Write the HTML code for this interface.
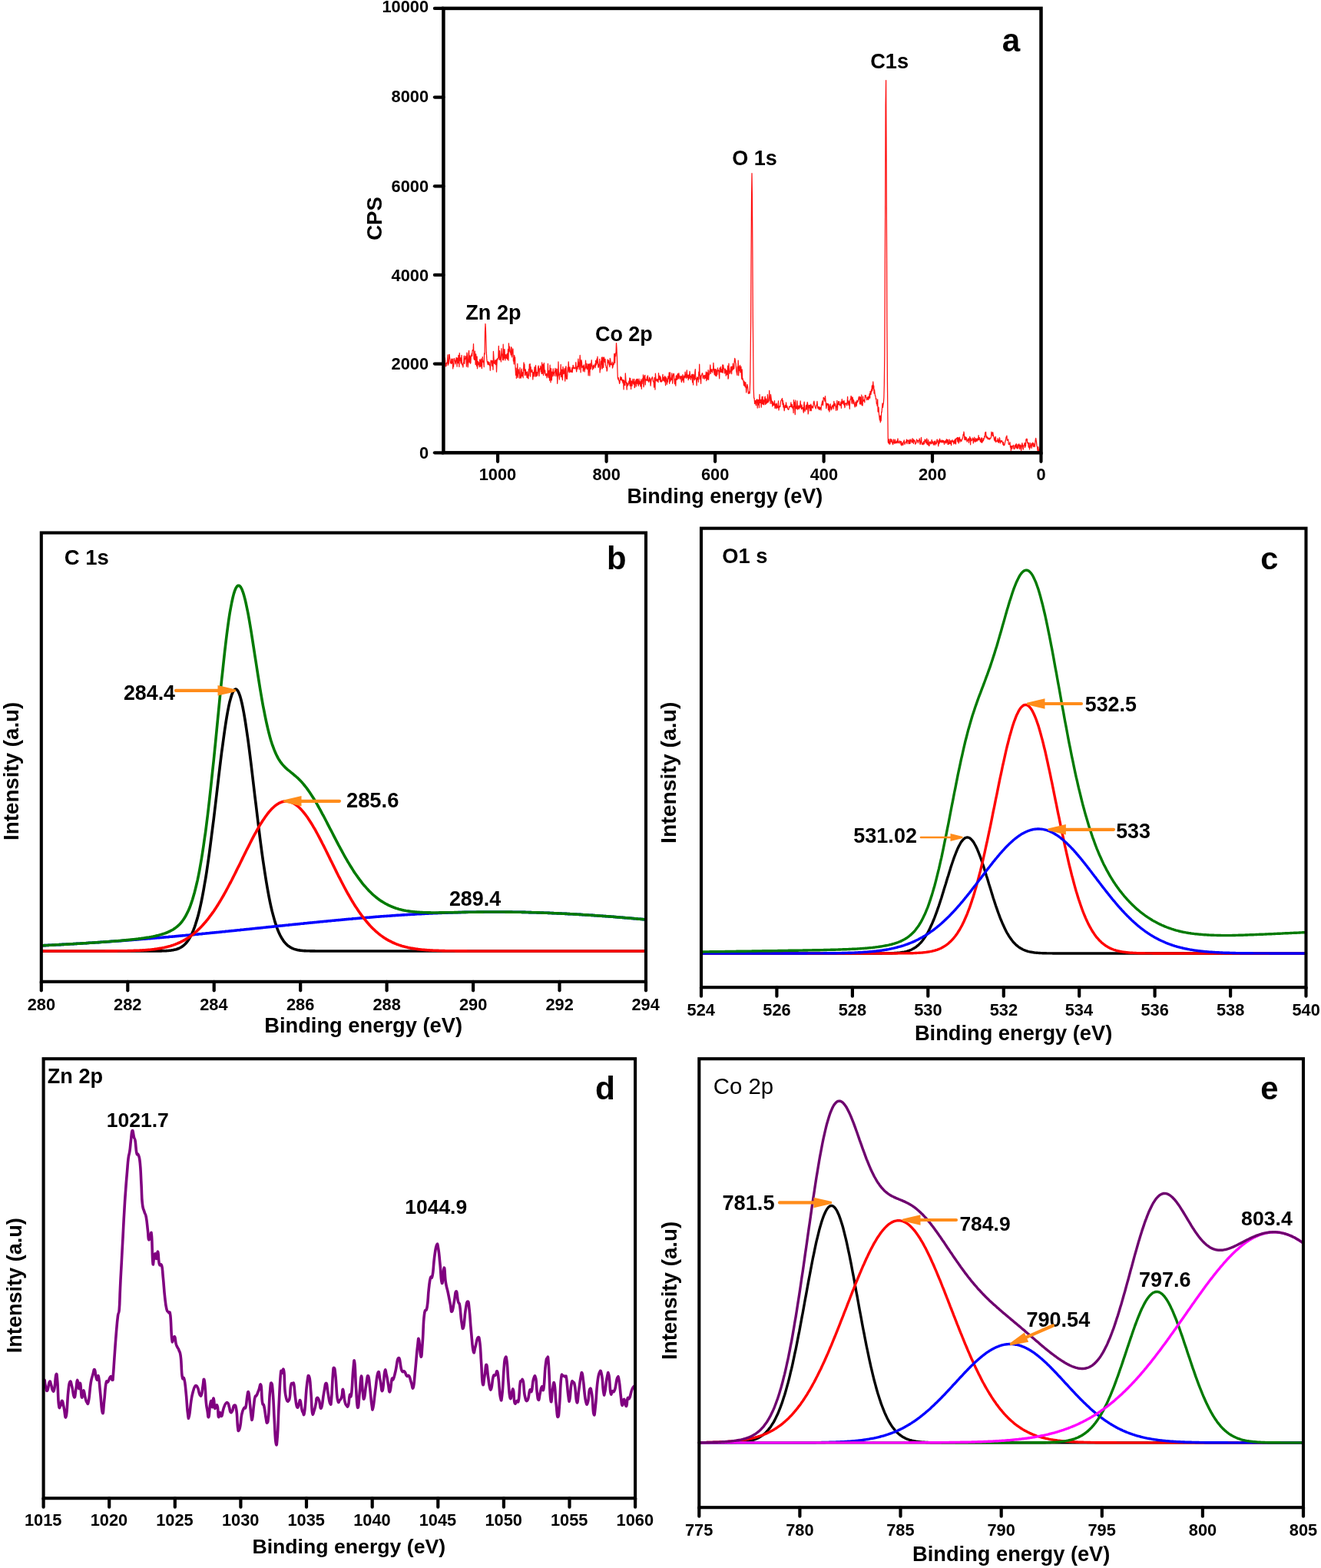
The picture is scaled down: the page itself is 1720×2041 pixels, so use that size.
<!DOCTYPE html>
<html><head><meta charset="utf-8"><title>XPS spectra</title>
<style>html,body{margin:0;padding:0;background:#fff;} svg text{font-family:'Liberation Sans',Arial,sans-serif;fill:#000;}</style>
</head><body>
<svg width="1720" height="2041" viewBox="0 0 1720 2041" style="display:block;font-family:'Liberation Sans',Arial,sans-serif;font-weight:bold"><path d="M577.4 469.6 L577.9 473.7 L578.3 469.7 L578.8 469.2 L579.2 465.9 L579.7 469.8 L580.1 476.9 L580.6 473.2 L581 476.5 L581.5 472.2 L581.9 473 L582.4 471.8 L582.9 461.8 L583.3 475.4 L583.8 473.5 L584.2 473.5 L584.7 461.6 L585.1 461.4 L585.6 466 L586 468.2 L586.5 472.4 L587 470.5 L587.4 473.5 L587.9 467.2 L588.3 472.3 L588.8 472.8 L589.2 467.1 L589.7 479.9 L590.1 473.6 L590.6 477.1 L591 467.2 L591.5 466.6 L592 468.7 L592.4 470 L592.9 474 L593.3 471.9 L593.8 468.1 L594.2 465.3 L594.7 467.7 L595.1 477.1 L595.6 466.1 L596 471.8 L596.5 472.7 L597 462.4 L597.4 470.7 L597.9 477.5 L598.3 459.5 L598.8 468.6 L599.2 469.8 L599.7 465.9 L600.1 473 L600.6 470 L601 462.4 L601.5 474.8 L602 473.9 L602.4 475.4 L602.9 478 L603.3 472.2 L603.8 470.9 L604.2 463.2 L604.7 473.5 L605.1 466.9 L605.6 467.7 L606.1 463.3 L606.5 464.9 L607 467.3 L607.4 477.1 L607.9 459.1 L608.3 462.2 L608.8 471.4 L609.2 477.9 L609.7 473.2 L610.1 459.8 L610.6 456.4 L611.1 471.7 L611.5 465.5 L612 462.8 L612.4 473.2 L612.9 472.2 L613.3 464.7 L613.8 462.2 L614.2 460 L614.7 463.4 L615.1 456.2 L615.6 455.3 L616.1 456.6 L616.5 447.7 L617 466.3 L617.4 467.9 L617.9 468.4 L618.3 457 L618.8 465.7 L619.2 474.6 L619.7 460.8 L620.1 469.8 L620.6 476.5 L621.1 464 L621.5 479.8 L622 474.2 L622.4 470.4 L622.9 473 L623.3 474.8 L623.8 472 L624.2 477.6 L624.7 467.9 L625.2 469.3 L625.6 477.2 L626.1 471.8 L626.5 467 L627 476.9 L627.4 479.7 L627.9 469.5 L628.3 464.5 L628.8 471.2 L629.2 471.1 L629.7 470 L630.2 477.7 L630.6 459.7 L631.1 461.2 L631.5 431.7 L632 421.5 L632.4 429.1 L632.9 444.5 L633.3 458.9 L633.8 466.9 L634.2 470.7 L634.7 472.1 L635.2 474.7 L635.6 470.7 L636.1 473.1 L636.5 474.7 L637 471.6 L637.4 475.7 L637.9 474.6 L638.3 482.3 L638.8 473.2 L639.2 469.1 L639.7 469.4 L640.2 471.3 L640.6 476.3 L641.1 469.5 L641.5 473.4 L642 481.2 L642.4 457.4 L642.9 465.2 L643.3 472.5 L643.8 473.3 L644.3 472.4 L644.7 468.8 L645.2 474.6 L645.6 472.6 L646.1 468.2 L646.5 484.1 L647 472.9 L647.4 466.9 L647.9 468.1 L648.3 466.2 L648.8 465.9 L649.3 450.3 L649.7 461.2 L650.2 468.4 L650.6 456.7 L651.1 462.6 L651.5 468.1 L652 467.5 L652.4 470.9 L652.9 453.7 L653.3 460.9 L653.8 460.9 L654.3 466.1 L654.7 468.6 L655.2 448.2 L655.6 468.6 L656.1 454.8 L656.5 466.3 L657 454.6 L657.4 463.5 L657.9 469 L658.3 461.6 L658.8 463.3 L659.3 466.3 L659.7 462.3 L660.2 460.3 L660.6 467.8 L661.1 463.7 L661.5 454.6 L662 469.2 L662.4 446.8 L662.9 457.2 L663.4 451.1 L663.8 454.3 L664.3 459 L664.7 458.2 L665.2 462.1 L665.6 451.7 L666.1 452.7 L666.5 464.8 L667 456.6 L667.4 456.4 L667.9 454 L668.4 469.9 L668.8 468.6 L669.3 474 L669.7 462.4 L670.2 469 L670.6 465 L671.1 479.6 L671.5 488.3 L672 479.1 L672.4 492.4 L672.9 489.3 L673.4 483.1 L673.8 473.4 L674.3 491.6 L674.7 483.5 L675.2 480.8 L675.6 486.2 L676.1 486.3 L676.5 492.2 L677 478.6 L677.4 490.2 L677.9 492.1 L678.4 491.9 L678.8 483.1 L679.3 480.1 L679.7 489.6 L680.2 484.8 L680.6 484.8 L681.1 491.8 L681.5 482.7 L682 471.8 L682.5 482.1 L682.9 474.2 L683.4 488.6 L683.8 485.9 L684.3 480.9 L684.7 484.2 L685.2 488.7 L685.6 484.6 L686.1 491.4 L686.5 483.9 L687 489.9 L687.5 492.3 L687.9 492.9 L688.4 480.6 L688.8 489 L689.3 474.1 L689.7 478.4 L690.2 473.7 L690.6 490.1 L691.1 477.7 L691.5 484.2 L692 483.3 L692.5 484.2 L692.9 481.1 L693.4 485.6 L693.8 494 L694.3 484.6 L694.7 487.2 L695.2 489.8 L695.6 483.3 L696.1 477.6 L696.5 481.4 L697 490.2 L697.5 475.5 L697.9 481.2 L698.4 489.9 L698.8 488.7 L699.3 484.5 L699.7 488.8 L700.2 485.3 L700.6 478.1 L701.1 476 L701.6 481 L702 489.5 L702.5 481.4 L702.9 479.6 L703.4 480.3 L703.8 476.2 L704.3 483.9 L704.7 478.1 L705.2 486.5 L705.6 471.8 L706.1 486.3 L706.6 481.1 L707 474.1 L707.5 488.5 L707.9 483.1 L708.4 472.5 L708.8 479.9 L709.3 486.2 L709.7 482.1 L710.2 488.8 L710.6 488.7 L711.1 488.2 L711.6 486.4 L712 491.8 L712.5 488.2 L712.9 487.1 L713.4 473.4 L713.8 489.5 L714.3 491.7 L714.7 483.1 L715.2 482.2 L715.6 495.2 L716.1 475.2 L716.6 487.2 L717 497.8 L717.5 479.7 L717.9 488.5 L718.4 494.9 L718.8 484.1 L719.3 487.8 L719.7 489.6 L720.2 479.9 L720.7 484.3 L721.1 486.4 L721.6 489.2 L722 484.6 L722.5 483.7 L722.9 479.3 L723.4 482.9 L723.8 489.6 L724.3 485.4 L724.7 480.2 L725.2 480.3 L725.7 499.3 L726.1 491 L726.6 488.3 L727 470.9 L727.5 488.2 L727.9 487.5 L728.4 494 L728.8 487.2 L729.3 484.5 L729.7 487.7 L730.2 474.4 L730.7 490.5 L731.1 486.7 L731.6 481.2 L732 492.1 L732.5 494.7 L732.9 477.4 L733.4 481.4 L733.8 486.6 L734.3 486 L734.7 482.8 L735.2 479.6 L735.7 496.1 L736.1 490.1 L736.6 477.8 L737 476.8 L737.5 493.1 L737.9 489 L738.4 493.3 L738.8 487.6 L739.3 478.3 L739.8 484.2 L740.2 470.9 L740.7 478.3 L741.1 481.9 L741.6 484.8 L742 477.8 L742.5 480.9 L742.9 483.8 L743.4 483.2 L743.8 484.4 L744.3 481.8 L744.8 478.7 L745.2 484.6 L745.7 480.3 L746.1 475.4 L746.6 476.3 L747 479.4 L747.5 478.6 L747.9 479.9 L748.4 478.9 L748.8 479.7 L749.3 477.8 L749.8 471.6 L750.2 480.5 L750.7 483.8 L751.1 480.3 L751.6 476.8 L752 480.1 L752.5 472.3 L752.9 467.1 L753.4 477.5 L753.8 472 L754.3 480.9 L754.8 470.9 L755.2 462.4 L755.7 470.8 L756.1 484.8 L756.6 474.1 L757 468.6 L757.5 471.7 L757.9 478.5 L758.4 478.2 L758.9 476.3 L759.3 483.2 L759.8 478.9 L760.2 474.9 L760.7 478.2 L761.1 483.9 L761.6 480.2 L762 480.5 L762.5 469.2 L762.9 474.2 L763.4 478.9 L763.9 473.4 L764.3 480.8 L764.8 478.2 L765.2 479.9 L765.7 473.9 L766.1 488.8 L766.6 481.7 L767 473.8 L767.5 475.5 L767.9 489 L768.4 473.1 L768.9 479.7 L769.3 480.3 L769.8 475 L770.2 468.7 L770.7 476 L771.1 476.9 L771.6 481.1 L772 479.2 L772.5 475.1 L772.9 479.6 L773.4 477.9 L773.9 476.1 L774.3 475.3 L774.8 473.7 L775.2 478.7 L775.7 469.3 L776.1 471.6 L776.6 475 L777 467.1 L777.5 472.6 L778 464.2 L778.4 471.3 L778.9 478.1 L779.3 478.1 L779.8 474.7 L780.2 473.7 L780.7 467.3 L781.1 484.9 L781.6 477.8 L782 480.9 L782.5 470.2 L783 474 L783.4 465.2 L783.9 479.2 L784.3 480 L784.8 464.8 L785.2 474.7 L785.7 478.4 L786.1 465.5 L786.6 465.1 L787 469.2 L787.5 471.6 L788 467.4 L788.4 475.2 L788.9 476.3 L789.3 478.4 L789.8 478.8 L790.2 483.1 L790.7 481.3 L791.1 467.9 L791.6 472.3 L792 469.3 L792.5 469.2 L793 474.6 L793.4 475 L793.9 477.6 L794.3 466.4 L794.8 468.3 L795.2 474.9 L795.7 474 L796.1 473.5 L796.6 474.9 L797.1 471.2 L797.5 479.1 L798 477.3 L798.4 474.9 L798.9 471.8 L799.3 474.5 L799.8 460.5 L800.2 469 L800.7 472.4 L801.1 460 L801.6 463.6 L802.1 457.7 L802.5 446.6 L803 454 L803.4 464.1 L803.9 480.3 L804.3 491.5 L804.8 493.8 L805.2 491.5 L805.7 495.2 L806.1 495.8 L806.6 499.4 L807.1 497.5 L807.5 492.9 L808 490.1 L808.4 494.5 L808.9 492.9 L809.3 491.3 L809.8 495.8 L810.2 494.1 L810.7 496.8 L811.1 498.7 L811.6 494.5 L812.1 506.9 L812.5 495 L813 501.4 L813.4 497 L813.9 501.5 L814.3 485.8 L814.8 493.2 L815.2 497.7 L815.7 499.3 L816.2 507.1 L816.6 498.1 L817.1 502.4 L817.5 500.2 L818 501 L818.4 499 L818.9 496.1 L819.3 499.1 L819.8 492 L820.2 502.2 L820.7 492.3 L821.2 498 L821.6 506.5 L822.1 495.9 L822.5 497.1 L823 502.2 L823.4 497.1 L823.9 493.3 L824.3 498.1 L824.8 499.5 L825.2 500 L825.7 493.3 L826.2 504.6 L826.6 504.2 L827.1 496.8 L827.5 497.8 L828 494.7 L828.4 502.9 L828.9 493.4 L829.3 499.5 L829.8 494.3 L830.2 493.3 L830.7 499.6 L831.2 502.3 L831.6 496.3 L832.1 493.2 L832.5 499.9 L833 496 L833.4 497.6 L833.9 503 L834.3 501.2 L834.8 493.7 L835.3 506.3 L835.7 496 L836.2 499.5 L836.6 493 L837.1 495.7 L837.5 487.9 L838 503.8 L838.4 501.9 L838.9 490.2 L839.3 488.9 L839.8 488.3 L840.3 500.9 L840.7 493.5 L841.2 495.3 L841.6 494.1 L842.1 494.9 L842.5 490.5 L843 495.5 L843.4 488.9 L843.9 495 L844.3 496.7 L844.8 497.3 L845.3 494.2 L845.7 491.1 L846.2 495.8 L846.6 492.9 L847.1 502.1 L847.5 498.5 L848 494.5 L848.4 492.8 L848.9 491.7 L849.3 490.6 L849.8 493.2 L850.3 496.1 L850.7 497.1 L851.2 497.3 L851.6 504.1 L852.1 491.5 L852.5 494.7 L853 507.1 L853.4 486.1 L853.9 492.1 L854.4 495.2 L854.8 495.1 L855.3 496.2 L855.7 493.3 L856.2 496 L856.6 494.5 L857.1 497.7 L857.5 485.7 L858 490.2 L858.4 494.1 L858.9 489.4 L859.4 489.4 L859.8 496.8 L860.3 491 L860.7 496.8 L861.2 497.2 L861.6 495.2 L862.1 496.1 L862.5 493.3 L863 487.4 L863.4 493.5 L863.9 495.7 L864.4 491.2 L864.8 493.1 L865.3 496.8 L865.7 489.5 L866.2 496.3 L866.6 501.7 L867.1 490.8 L867.5 493.9 L868 492.5 L868.4 500.1 L868.9 494.5 L869.4 497.1 L869.8 489.9 L870.3 492.9 L870.7 492.9 L871.2 484.9 L871.6 499.3 L872.1 496.8 L872.5 484.9 L873 496.1 L873.5 492.1 L873.9 494.6 L874.4 494.2 L874.8 485.8 L875.3 491.5 L875.7 499.1 L876.2 489.8 L876.6 487.7 L877.1 486.2 L877.5 486.8 L878 493.7 L878.5 499.8 L878.9 494 L879.4 493.2 L879.8 502.1 L880.3 489.6 L880.7 488.9 L881.2 494.3 L881.6 494.3 L882.1 487.2 L882.5 486.5 L883 493 L883.5 492.8 L883.9 485.7 L884.4 490.7 L884.8 489.1 L885.3 493.5 L885.7 490.9 L886.2 491 L886.6 489.7 L887.1 496 L887.5 497.5 L888 489.5 L888.5 495 L888.9 487.7 L889.4 491.4 L889.8 494.4 L890.3 497.8 L890.7 489.2 L891.2 490.6 L891.6 491.8 L892.1 484.1 L892.6 490.9 L893 487.8 L893.5 492.5 L893.9 485.7 L894.4 481.8 L894.8 490.9 L895.3 491.8 L895.7 488.2 L896.2 494.6 L896.6 489.4 L897.1 487.8 L897.6 492.7 L898 483.4 L898.5 487.4 L898.9 490.3 L899.4 494.2 L899.8 489.7 L900.3 491.7 L900.7 487.4 L901.2 491.7 L901.6 497.8 L902.1 487.2 L902.6 500.9 L903 487.3 L903.5 490.2 L903.9 490.9 L904.4 494.7 L904.8 484.5 L905.3 480.6 L905.7 492.7 L906.2 493.6 L906.6 492.8 L907.1 501.8 L907.6 490.8 L908 491 L908.5 494 L908.9 491.5 L909.4 497.3 L909.8 484.2 L910.3 488 L910.7 474.2 L911.2 493.3 L911.7 488 L912.1 493.8 L912.6 499.3 L913 489.5 L913.5 488.4 L913.9 487.3 L914.4 485.7 L914.8 486.6 L915.3 492.3 L915.7 489.6 L916.2 489.7 L916.7 488.6 L917.1 493.4 L917.6 491.5 L918 488.6 L918.5 492.2 L918.9 488.5 L919.4 484 L919.8 495.7 L920.3 491.2 L920.7 484.8 L921.2 493.9 L921.7 490.6 L922.1 481.6 L922.6 494.3 L923 486.9 L923.5 487.8 L923.9 483.1 L924.4 481.3 L924.8 475 L925.3 486.4 L925.7 482.1 L926.2 480.7 L926.7 483.6 L927.1 482.4 L927.6 485 L928 480.3 L928.5 481.8 L928.9 472.4 L929.4 480.1 L929.8 485 L930.3 488 L930.8 480.4 L931.2 481.5 L931.7 489.1 L932.1 480.5 L932.6 485.3 L933 489.6 L933.5 482.2 L933.9 487.5 L934.4 478.8 L934.8 482.9 L935.3 481.7 L935.8 482.5 L936.2 487.1 L936.7 492.8 L937.1 479 L937.6 479.4 L938 484.2 L938.5 477.3 L938.9 484.2 L939.4 484.6 L939.8 480.8 L940.3 484.4 L940.8 475 L941.2 485.4 L941.7 475 L942.1 478.9 L942.6 479.5 L943 480.2 L943.5 485.9 L943.9 482.4 L944.4 480.2 L944.8 484.4 L945.3 489.1 L945.8 482 L946.2 483.6 L946.7 487.6 L947.1 483.2 L947.6 476.2 L948 493.2 L948.5 491.9 L948.9 473.1 L949.4 481.8 L949.9 483.9 L950.3 486.3 L950.8 485 L951.2 480.8 L951.7 477.3 L952.1 482.5 L952.6 486.7 L953 477.1 L953.5 477.4 L953.9 481.9 L954.4 473.1 L954.9 480.3 L955.3 478.5 L955.8 480 L956.2 470.9 L956.7 466.4 L957.1 467.7 L957.6 471.8 L958 472.9 L958.5 478.9 L958.9 483.7 L959.4 486 L959.9 488.4 L960.3 477.1 L960.8 478.6 L961.2 469.2 L961.7 488.8 L962.1 476.9 L962.6 479.9 L963 482.5 L963.5 475.3 L963.9 484.8 L964.4 483.9 L964.9 477.1 L965.3 487.9 L965.8 493.3 L966.2 480.8 L966.7 494.1 L967.1 492.7 L967.6 495.2 L968 496.4 L968.5 501.6 L969 496 L969.4 502.2 L969.9 497.8 L970.3 503.9 L970.8 497.7 L971.2 501.8 L971.7 510.9 L972.1 505.9 L972.6 504 L973 500.4 L973.5 502.9 L974 508.1 L974.4 512.3 L974.9 510.8 L975.3 512 L975.8 509.5 L976.2 511.9 L976.7 495.2 L977.1 467.5 L977.6 419.2 L978 338.6 L978.5 261 L979 225.7 L979.4 254.7 L979.9 332.2 L980.3 414 L980.8 468.5 L981.2 506.2 L981.7 518.3 L982.1 518.1 L982.6 525.5 L983 521.8 L983.5 521.6 L984 525.7 L984.4 527.6 L984.9 520.3 L985.3 524.3 L985.8 519.6 L986.2 531.1 L986.7 520.9 L987.1 527 L987.6 520.3 L988.1 525.6 L988.5 530.6 L989 513.4 L989.4 521 L989.9 524.3 L990.3 522.2 L990.8 520.1 L991.2 530.2 L991.7 522.7 L992.1 516.5 L992.6 525.5 L993.1 516.2 L993.5 526.5 L994 520.3 L994.4 522.8 L994.9 526.8 L995.3 522.7 L995.8 517.2 L996.2 516.1 L996.7 526.5 L997.1 524.8 L997.6 519.2 L998.1 525.2 L998.5 523.8 L999 524.2 L999.4 513.5 L999.9 520.1 L1000.3 523.6 L1000.8 522 L1001.2 521.4 L1001.7 508.4 L1002.1 516.9 L1002.6 517.7 L1003.1 525.3 L1003.5 513.5 L1004 517.3 L1004.4 520.4 L1004.9 525.4 L1005.3 522.1 L1005.8 529 L1006.2 522.9 L1006.7 527.3 L1007.2 524.8 L1007.6 527.5 L1008.1 524.7 L1008.5 521.6 L1009 531.5 L1009.4 528.9 L1009.9 525.9 L1010.3 528.9 L1010.8 531.9 L1011.2 525 L1011.7 528.3 L1012.2 530.8 L1012.6 530.9 L1013.1 528 L1013.5 521.8 L1014 534 L1014.4 530.9 L1014.9 529.7 L1015.3 528.3 L1015.8 529.5 L1016.2 525.7 L1016.7 521.9 L1017.2 521.1 L1017.6 520.3 L1018.1 519.8 L1018.5 518.5 L1019 526.5 L1019.4 521.4 L1019.9 530 L1020.3 525.2 L1020.8 530.7 L1021.2 534.7 L1021.7 530.7 L1022.2 527.3 L1022.6 530.2 L1023.1 530.5 L1023.5 523.8 L1024 527.8 L1024.4 530.6 L1024.9 528.3 L1025.3 530.3 L1025.8 532.6 L1026.3 532.8 L1026.7 533.3 L1027.2 532.1 L1027.6 529 L1028.1 529.9 L1028.5 529 L1029 528.9 L1029.4 529.4 L1029.9 523.8 L1030.3 528.8 L1030.8 529.9 L1031.3 526.5 L1031.7 529.9 L1032.2 531.9 L1032.6 529.4 L1033.1 537.5 L1033.5 520.6 L1034 529.3 L1034.4 523.4 L1034.9 533.5 L1035.3 539.6 L1035.8 521 L1036.3 530.5 L1036.7 531.9 L1037.2 528.9 L1037.6 532 L1038.1 521.9 L1038.5 533.1 L1039 531.3 L1039.4 530.1 L1039.9 527.9 L1040.3 532.3 L1040.8 528.3 L1041.3 530.8 L1041.7 528.2 L1042.2 521.9 L1042.6 529.9 L1043.1 530.7 L1043.5 532.7 L1044 526.8 L1044.4 529.9 L1044.9 532.2 L1045.4 530.5 L1045.8 534.5 L1046.3 537.2 L1046.7 526.7 L1047.2 523.1 L1047.6 533.1 L1048.1 535.5 L1048.5 533.3 L1049 532.9 L1049.4 527.8 L1049.9 527.4 L1050.4 533.2 L1050.8 526.7 L1051.3 523.5 L1051.7 526.4 L1052.2 539 L1052.6 536.9 L1053.1 527.5 L1053.5 527.4 L1054 530.8 L1054.4 527.3 L1054.9 534.7 L1055.4 529.7 L1055.8 526.1 L1056.3 534.7 L1056.7 527.9 L1057.2 530.8 L1057.6 530 L1058.1 528.9 L1058.5 531.2 L1059 527.5 L1059.4 523.4 L1059.9 522.1 L1060.4 525.4 L1060.8 527.3 L1061.3 529.9 L1061.7 530.2 L1062.2 532 L1062.6 530.4 L1063.1 527.1 L1063.5 527.4 L1064 522.4 L1064.5 529.4 L1064.9 531.7 L1065.4 531.9 L1065.8 529.6 L1066.3 529.4 L1066.7 533.4 L1067.2 530 L1067.6 532.5 L1068.1 531.9 L1068.5 530.4 L1069 534 L1069.5 526.8 L1069.9 526.6 L1070.4 523.6 L1070.8 521.8 L1071.3 527.8 L1071.7 525.9 L1072.2 517.3 L1072.6 517.7 L1073.1 519.4 L1073.5 518.9 L1074 522.2 L1074.5 515.7 L1074.9 520.4 L1075.4 526.5 L1075.8 531.6 L1076.3 527.8 L1076.7 525 L1077.2 527.1 L1077.6 526.1 L1078.1 525.4 L1078.5 533.8 L1079 526.1 L1079.5 528.4 L1079.9 536 L1080.4 532.5 L1080.8 529.3 L1081.3 525.9 L1081.7 529.5 L1082.2 533.8 L1082.6 530.1 L1083.1 532.4 L1083.6 528.1 L1084 529.6 L1084.5 526.9 L1084.9 529.1 L1085.4 532.2 L1085.8 522.3 L1086.3 527.2 L1086.7 528.2 L1087.2 525.2 L1087.6 526.1 L1088.1 530 L1088.6 534.3 L1089 529.3 L1089.5 528.1 L1089.9 521.3 L1090.4 533.8 L1090.8 527.1 L1091.3 526.6 L1091.7 522.6 L1092.2 526.4 L1092.6 522.6 L1093.1 526.7 L1093.6 528.1 L1094 526.5 L1094.5 527.3 L1094.9 523.2 L1095.4 531.3 L1095.8 523.8 L1096.3 519.5 L1096.7 525.3 L1097.2 523.2 L1097.6 522.2 L1098.1 524.5 L1098.6 526.8 L1099 521.4 L1099.5 525.1 L1099.9 530.7 L1100.4 527.9 L1100.8 524.9 L1101.3 525.8 L1101.7 524.9 L1102.2 525.1 L1102.7 527.8 L1103.1 524.8 L1103.6 516.4 L1104 524.9 L1104.5 521.7 L1104.9 527.1 L1105.4 522.5 L1105.8 525.1 L1106.3 532.3 L1106.7 520.6 L1107.2 520.2 L1107.7 519.1 L1108.1 515.4 L1108.6 517.2 L1109 525.2 L1109.5 521.4 L1109.9 516.9 L1110.4 518.2 L1110.8 525.6 L1111.3 520.5 L1111.7 521.9 L1112.2 524.3 L1112.7 527.9 L1113.1 529.9 L1113.6 526.5 L1114 523.2 L1114.5 523.2 L1114.9 529 L1115.4 527.5 L1115.8 521.1 L1116.3 523.8 L1116.7 523.1 L1117.2 522.1 L1117.7 520 L1118.1 517 L1118.6 519.7 L1119 516 L1119.5 525.8 L1119.9 523.3 L1120.4 516.9 L1120.8 526.1 L1121.3 524.2 L1121.8 514 L1122.2 527.4 L1122.7 523.6 L1123.1 528 L1123.6 516.1 L1124 522.3 L1124.5 521.8 L1124.9 520.9 L1125.4 520.7 L1125.8 523.8 L1126.3 514.5 L1126.8 515.3 L1127.2 514.6 L1127.7 517.5 L1128.1 517.3 L1128.6 520.7 L1129 520.2 L1129.5 519.2 L1129.9 516.6 L1130.4 516.5 L1130.8 520.4 L1131.3 518.6 L1131.8 515.1 L1132.2 512.5 L1132.7 518.1 L1133.1 509.3 L1133.6 512.7 L1134 513.4 L1134.5 507.2 L1134.9 510 L1135.4 501.9 L1135.8 508.4 L1136.3 504.4 L1136.8 496.9 L1137.2 505.5 L1137.7 502.1 L1138.1 512.1 L1138.6 507.3 L1139 511.3 L1139.5 515.2 L1139.9 515.2 L1140.4 519.5 L1140.9 518.8 L1141.3 525.5 L1141.8 525.3 L1142.2 528.3 L1142.7 519.8 L1143.1 536.1 L1143.6 534.3 L1144 530 L1144.5 539 L1144.9 542.5 L1145.4 546.9 L1145.9 541.4 L1146.3 549.8 L1146.8 541.1 L1147.2 547.8 L1147.7 536.1 L1148.1 536.5 L1148.6 530.2 L1149 525 L1149.5 530.4 L1149.9 527.1 L1150.4 524.3 L1150.9 517.4 L1151.3 501.7 L1151.8 462.4 L1152.2 382.4 L1152.7 256.1 L1153.1 136.9 L1153.6 104.6 L1154 178.5 L1154.5 308.2 L1154.9 422.6 L1155.4 491.4 L1155.9 542.3 L1156.3 575 L1156.8 576.9 L1157.2 573.4 L1157.7 571.6 L1158.1 578.3 L1158.6 575.3 L1159 577.6 L1159.5 571.3 L1160 574.3 L1160.4 575.1 L1160.9 571.8 L1161.3 573.9 L1161.8 576.7 L1162.2 577.5 L1162.7 578.7 L1163.1 573.1 L1163.6 571.9 L1164 576.3 L1164.5 577.2 L1165 575.5 L1165.4 572.1 L1165.9 576.9 L1166.3 576.9 L1166.8 576.4 L1167.2 574 L1167.7 575.8 L1168.1 576.9 L1168.6 573.9 L1169 570.9 L1169.5 575.9 L1170 576.2 L1170.4 575.2 L1170.9 577.2 L1171.3 573.8 L1171.8 575 L1172.2 574.5 L1172.7 576.5 L1173.1 578.8 L1173.6 574.6 L1174 579.9 L1174.5 578.7 L1175 577 L1175.4 576.5 L1175.9 579.3 L1176.3 574.8 L1176.8 575 L1177.2 572.8 L1177.7 576.3 L1178.1 578.3 L1178.6 576.5 L1179.1 576.2 L1179.5 574.8 L1180 575.6 L1180.4 572 L1180.9 577.7 L1181.3 574.3 L1181.8 572.8 L1182.2 573.6 L1182.7 573.4 L1183.1 577.2 L1183.6 577.7 L1184.1 572.2 L1184.5 577.4 L1185 577.3 L1185.4 574 L1185.9 571.9 L1186.3 573.6 L1186.8 573.9 L1187.2 576.1 L1187.7 574.5 L1188.1 570.7 L1188.6 575.9 L1189.1 571.9 L1189.5 577.4 L1190 572.6 L1190.4 573.8 L1190.9 573.4 L1191.3 574.1 L1191.8 578.3 L1192.2 577.3 L1192.7 576.8 L1193.1 576.1 L1193.6 571.9 L1194.1 574.2 L1194.5 574.2 L1195 573.2 L1195.4 576.6 L1195.9 573.7 L1196.3 573.8 L1196.8 573.1 L1197.2 570.8 L1197.7 576.8 L1198.2 578.5 L1198.6 575.9 L1199.1 573.2 L1199.5 569.3 L1200 575.9 L1200.4 578.3 L1200.9 576.2 L1201.3 577.6 L1201.8 578.9 L1202.2 578.1 L1202.7 574.5 L1203.2 577.9 L1203.6 577.3 L1204.1 572 L1204.5 574.6 L1205 572.3 L1205.4 575.3 L1205.9 576.9 L1206.3 573.1 L1206.8 570.9 L1207.2 578.5 L1207.7 576.4 L1208.2 578.9 L1208.6 572.6 L1209.1 578 L1209.5 580.3 L1210 580.2 L1210.4 575.1 L1210.9 576.2 L1211.3 575.2 L1211.8 577.8 L1212.2 577.9 L1212.7 575.7 L1213.2 572.4 L1213.6 577.2 L1214.1 574.4 L1214.5 576.8 L1215 576 L1215.4 579.1 L1215.9 577.9 L1216.3 574.3 L1216.8 576.1 L1217.3 579.3 L1217.7 574 L1218.2 576.2 L1218.6 577.9 L1219.1 578 L1219.5 576.3 L1220 572.1 L1220.4 572.2 L1220.9 575.6 L1221.3 575.9 L1221.8 580.8 L1222.3 573 L1222.7 577.6 L1223.2 576.7 L1223.6 571.1 L1224.1 573 L1224.5 575.3 L1225 573.7 L1225.4 574.5 L1225.9 575.9 L1226.3 572.9 L1226.8 575.8 L1227.3 573.3 L1227.7 573.5 L1228.2 575.9 L1228.6 573.4 L1229.1 575.3 L1229.5 578.3 L1230 574.7 L1230.4 574.2 L1230.9 576.2 L1231.3 573.7 L1231.8 577 L1232.3 571.6 L1232.7 575.9 L1233.2 573.3 L1233.6 572.6 L1234.1 578.4 L1234.5 572.4 L1235 578.3 L1235.4 575.8 L1235.9 577.6 L1236.4 572 L1236.8 577 L1237.3 577.5 L1237.7 573.9 L1238.2 573.9 L1238.6 579.7 L1239.1 574.5 L1239.5 573.1 L1240 572.6 L1240.4 575.1 L1240.9 574.8 L1241.4 574.4 L1241.8 577.9 L1242.3 573.2 L1242.7 575 L1243.2 577.2 L1243.6 571.6 L1244.1 576.2 L1244.5 578 L1245 570.7 L1245.4 571.3 L1245.9 571.4 L1246.4 569.5 L1246.8 574.8 L1247.3 569.5 L1247.7 574.8 L1248.2 577 L1248.6 569.9 L1249.1 572.9 L1249.5 569.2 L1250 575.3 L1250.4 571.8 L1250.9 572.9 L1251.4 573.5 L1251.8 574.5 L1252.3 572.2 L1252.7 572.3 L1253.2 570 L1253.6 570 L1254.1 565.5 L1254.5 567 L1255 562 L1255.5 565.8 L1255.9 572.5 L1256.4 569.9 L1256.8 568.3 L1257.3 572.8 L1257.7 570.6 L1258.2 569.3 L1258.6 571.6 L1259.1 575 L1259.5 574.2 L1260 573.1 L1260.5 571.2 L1260.9 570.8 L1261.4 576.3 L1261.8 573.8 L1262.3 571 L1262.7 568.4 L1263.2 570.1 L1263.6 578.8 L1264.1 570.6 L1264.5 573 L1265 573.6 L1265.5 572.8 L1265.9 572.5 L1266.4 570 L1266.8 570.7 L1267.3 576.9 L1267.7 571.4 L1268.2 575 L1268.6 569.2 L1269.1 572.4 L1269.5 573.6 L1270 575.4 L1270.5 570.5 L1270.9 574.4 L1271.4 573.9 L1271.8 571.3 L1272.3 574.1 L1272.7 570.9 L1273.2 571.1 L1273.6 572.9 L1274.1 566.7 L1274.6 572.7 L1275 570.6 L1275.5 569.6 L1275.9 571.9 L1276.4 574.6 L1276.8 571.9 L1277.3 575.7 L1277.7 570.2 L1278.2 569.8 L1278.6 576.3 L1279.1 573.7 L1279.6 574.8 L1280 570.5 L1280.5 573.7 L1280.9 571.6 L1281.4 571 L1281.8 567.8 L1282.3 568.8 L1282.7 563.4 L1283.2 562.6 L1283.6 562.4 L1284.1 570.1 L1284.6 567.5 L1285 568.3 L1285.5 569.5 L1285.9 571.2 L1286.4 569.6 L1286.8 571.9 L1287.3 571.1 L1287.7 571.2 L1288.2 570.1 L1288.6 572.1 L1289.1 570.4 L1289.6 570.9 L1290 570.2 L1290.5 569.1 L1290.9 562.1 L1291.4 564.8 L1291.8 563.7 L1292.3 567.4 L1292.7 562.7 L1293.2 565.7 L1293.7 567.9 L1294.1 569 L1294.6 573 L1295 570.5 L1295.5 574.2 L1295.9 569.1 L1296.4 568.5 L1296.8 575.6 L1297.3 574 L1297.7 574.2 L1298.2 573.5 L1298.7 574.5 L1299.1 570.7 L1299.6 575.8 L1300 572.5 L1300.5 576.1 L1300.9 574.2 L1301.4 569.6 L1301.8 571.3 L1302.3 576.9 L1302.7 574.1 L1303.2 573.7 L1303.7 575.2 L1304.1 573.8 L1304.6 573.7 L1305 575.3 L1305.5 575.5 L1305.9 578.7 L1306.4 575.5 L1306.8 579.8 L1307.3 579.7 L1307.7 579.5 L1308.2 577.8 L1308.7 575.1 L1309.1 574.1 L1309.6 572 L1310 568.9 L1310.5 569 L1310.9 567.1 L1311.4 573.3 L1311.8 572.7 L1312.3 572.9 L1312.8 571.9 L1313.2 578.1 L1313.7 578.7 L1314.1 578 L1314.6 578.1 L1315 575.6 L1315.5 582.1 L1315.9 580.6 L1316.4 586.7 L1316.8 580.7 L1317.3 580.5 L1317.8 584.1 L1318.2 581.1 L1318.7 581.2 L1319.1 580 L1319.6 579.4 L1320 584.2 L1320.5 583.1 L1320.9 584.7 L1321.4 580 L1321.8 580.9 L1322.3 578.8 L1322.8 583 L1323.2 577.6 L1323.7 582.1 L1324.1 583.3 L1324.6 584 L1325 578.7 L1325.5 583.3 L1325.9 579.2 L1326.4 579.1 L1326.8 577.8 L1327.3 583.4 L1327.8 584.6 L1328.2 579.4 L1328.7 579.1 L1329.1 580 L1329.6 586.5 L1330 583.1 L1330.5 579.6 L1330.9 576.7 L1331.4 579.3 L1331.9 583.5 L1332.3 585.1 L1332.8 580.2 L1333.2 579.2 L1333.7 579.6 L1334.1 576.4 L1334.6 582.4 L1335 577.2 L1335.5 580.7 L1335.9 572.3 L1336.4 571.2 L1336.9 573.5 L1337.3 571.4 L1337.8 576.6 L1338.2 577 L1338.7 576.2 L1339.1 581.4 L1339.6 582.4 L1340 576.4 L1340.5 584.9 L1340.9 581.9 L1341.4 582.5 L1341.9 576.6 L1342.3 579.2 L1342.8 580 L1343.2 583.3 L1343.7 577.5 L1344.1 578.8 L1344.6 576.2 L1345 580.2 L1345.5 581.6 L1345.9 576.9 L1346.4 579.2 L1346.9 581 L1347.3 581.7 L1347.8 577 L1348.2 572.6 L1348.7 570.3 L1349.1 572.8 L1349.6 576.2 L1350 580.6 L1350.5 581.7 L1351 586.5 L1351.4 584 L1351.9 581.6 L1352.3 588.1 L1352.8 587.4 L1353.2 586.1 L1353.7 584.8 L1354.1 582.8 L1354.6 585.4 L1355 590.6 L1355.5 587.2" fill="none" stroke="#ff1010" stroke-width="1.25" stroke-linejoin="round" stroke-linecap="round" stroke-linejoin="miter"/>
<rect x="577.4" y="10.9" width="778.1" height="578.4" fill="none" stroke="#000" stroke-width="4.5"/>
<line x1="565.9" y1="589.3" x2="577.4" y2="589.3" stroke="#000" stroke-width="4.2" stroke-linecap="round"/>
<text x="546.0" y="596.9" font-size="21.80" font-weight="bold" >0</text>
<line x1="565.9" y1="473.6" x2="577.4" y2="473.6" stroke="#000" stroke-width="4.2" stroke-linecap="round"/>
<text x="509.6" y="481.2" font-size="21.80" font-weight="bold" >2000</text>
<line x1="565.9" y1="357.9" x2="577.4" y2="357.9" stroke="#000" stroke-width="4.2" stroke-linecap="round"/>
<text x="509.6" y="365.5" font-size="21.80" font-weight="bold" >4000</text>
<line x1="565.9" y1="242.3" x2="577.4" y2="242.3" stroke="#000" stroke-width="4.2" stroke-linecap="round"/>
<text x="509.6" y="249.8" font-size="21.80" font-weight="bold" >6000</text>
<line x1="565.9" y1="126.6" x2="577.4" y2="126.6" stroke="#000" stroke-width="4.2" stroke-linecap="round"/>
<text x="509.6" y="133.1" font-size="21.80" font-weight="bold" >8000</text>
<line x1="565.9" y1="10.9" x2="577.4" y2="10.9" stroke="#000" stroke-width="4.2" stroke-linecap="round"/>
<text x="497.5" y="16.3" font-size="21.80" font-weight="bold" >10000</text>
<line x1="1355.5" y1="589.3" x2="1355.5" y2="600.8" stroke="#000" stroke-width="4.2" stroke-linecap="round"/>
<text x="1349.5" y="625.1" font-size="21.80" font-weight="bold" >0</text>
<line x1="1214" y1="589.3" x2="1214" y2="600.8" stroke="#000" stroke-width="4.2" stroke-linecap="round"/>
<text x="1195.9" y="625.1" font-size="21.80" font-weight="bold" >200</text>
<line x1="1072.6" y1="589.3" x2="1072.6" y2="600.8" stroke="#000" stroke-width="4.2" stroke-linecap="round"/>
<text x="1054.7" y="625.1" font-size="21.80" font-weight="bold" >400</text>
<line x1="931.1" y1="589.3" x2="931.1" y2="600.8" stroke="#000" stroke-width="4.2" stroke-linecap="round"/>
<text x="912.9" y="625.1" font-size="21.80" font-weight="bold" >600</text>
<line x1="789.6" y1="589.3" x2="789.6" y2="600.8" stroke="#000" stroke-width="4.2" stroke-linecap="round"/>
<text x="771.5" y="625.1" font-size="21.80" font-weight="bold" >800</text>
<line x1="648.1" y1="589.3" x2="648.1" y2="600.8" stroke="#000" stroke-width="4.2" stroke-linecap="round"/>
<text x="623.7" y="625.1" font-size="21.80" font-weight="bold" >1000</text>
<text x="816.4" y="654.6" font-size="26.97" font-weight="bold" >Binding energy (eV)</text>
<text transform="translate(497.4,312.8) rotate(-90)" font-size="27.56" font-weight="bold">CPS</text>
<text x="1133.2" y="89.3" font-size="27.22" font-weight="bold" >C1s</text>
<text x="953.3" y="214.7" font-size="27.02" font-weight="bold" >O 1s</text>
<text x="606.3" y="415.7" font-size="27.09" font-weight="bold" >Zn 2p</text>
<text x="774.9" y="443.8" font-size="26.99" font-weight="bold" >Co 2p</text>
<text x="1304.7" y="66.7" font-size="42.20" font-weight="bold" >a</text>
<path d="M53.8 1238 L55.1 1238 L56.4 1238 L57.7 1238 L59 1238 L60.4 1238 L61.7 1238 L63 1238 L64.3 1238 L65.6 1238 L66.9 1238 L68.2 1238 L69.5 1238 L70.9 1238 L72.2 1238 L73.5 1238 L74.8 1238 L76.1 1238 L77.4 1238 L78.7 1238 L80 1238 L81.4 1238 L82.7 1238 L84 1238 L85.3 1238 L86.6 1238 L87.9 1238 L89.2 1238 L90.5 1238 L91.8 1238 L93.2 1238 L94.5 1238 L95.8 1238 L97.1 1238 L98.4 1238 L99.7 1238 L101 1238 L102.3 1238 L103.7 1238 L105 1238 L106.3 1238 L107.6 1238 L108.9 1238 L110.2 1238 L111.5 1238 L112.8 1238 L114.2 1238 L115.5 1238 L116.8 1238 L118.1 1238 L119.4 1238 L120.7 1238 L122 1238 L123.3 1238 L124.6 1238 L126 1238 L127.3 1238 L128.6 1238 L129.9 1238 L131.2 1238 L132.5 1238 L133.8 1238 L135.1 1238 L136.5 1238 L137.8 1238 L139.1 1238 L140.4 1238 L141.7 1238 L143 1238 L144.3 1238 L145.6 1238 L147 1238 L148.3 1238 L149.6 1238 L150.9 1238 L152.2 1238 L153.5 1238 L154.8 1238 L156.1 1238 L157.4 1238 L158.8 1238 L160.1 1238 L161.4 1238 L162.7 1238 L164 1238 L165.3 1238 L166.6 1238 L167.9 1238 L169.3 1238 L170.6 1238 L171.9 1238 L173.2 1238 L174.5 1238 L175.8 1238 L177.1 1238 L178.4 1238 L179.8 1238 L181.1 1238 L182.4 1238 L183.7 1238 L185 1238 L186.3 1238 L187.6 1238 L188.9 1238 L190.2 1238 L191.6 1238 L192.9 1238 L194.2 1238 L195.5 1238 L196.8 1238 L198.1 1238 L199.4 1238 L200.7 1238 L202.1 1238 L203.4 1238 L204.7 1237.9 L206 1237.9 L207.3 1237.9 L208.6 1237.9 L209.9 1237.9 L211.2 1237.8 L212.6 1237.8 L213.9 1237.8 L215.2 1237.7 L216.5 1237.6 L217.8 1237.5 L219.1 1237.5 L220.4 1237.3 L221.7 1237.2 L223 1237 L224.4 1236.8 L225.7 1236.6 L227 1236.3 L228.3 1236 L229.6 1235.7 L230.9 1235.2 L232.2 1234.7 L233.5 1234.2 L234.9 1233.5 L236.2 1232.7 L237.5 1231.9 L238.8 1230.9 L240.1 1229.7 L241.4 1228.5 L242.7 1227 L244 1225.4 L245.4 1223.5 L246.7 1221.4 L248 1219.1 L249.3 1216.6 L250.6 1213.7 L251.9 1210.6 L253.2 1207.1 L254.5 1203.3 L255.8 1199.1 L257.2 1194.6 L258.5 1189.7 L259.8 1184.4 L261.1 1178.6 L262.4 1172.5 L263.7 1165.8 L265 1158.8 L266.3 1151.3 L267.7 1143.4 L269 1135.1 L270.3 1126.3 L271.6 1117.2 L272.9 1107.7 L274.2 1097.8 L275.5 1087.6 L276.8 1077.2 L278.2 1066.5 L279.5 1055.6 L280.8 1044.6 L282.1 1033.6 L283.4 1022.5 L284.7 1011.4 L286 1000.5 L287.3 989.8 L288.6 979.3 L290 969.2 L291.3 959.4 L292.6 950.2 L293.9 941.5 L295.2 933.4 L296.5 926 L297.8 919.3 L299.1 913.4 L300.5 908.4 L301.8 904.2 L303.1 901 L304.4 898.7 L305.7 897.4 L307 897 L308.3 897.6 L309.6 899.2 L311 901.8 L312.3 905.3 L313.6 909.7 L314.9 915 L316.2 921.1 L317.5 928 L318.8 935.6 L320.1 943.9 L321.4 952.8 L322.8 962.2 L324.1 972 L325.4 982.3 L326.7 992.8 L328 1003.6 L329.3 1014.6 L330.6 1025.6 L331.9 1036.7 L333.3 1047.8 L334.6 1058.7 L335.9 1069.6 L337.2 1080.2 L338.5 1090.6 L339.8 1100.7 L341.1 1110.4 L342.4 1119.8 L343.8 1128.9 L345.1 1137.5 L346.4 1145.7 L347.7 1153.5 L349 1160.9 L350.3 1167.8 L351.6 1174.3 L352.9 1180.3 L354.2 1185.9 L355.6 1191.1 L356.9 1195.9 L358.2 1200.4 L359.5 1204.4 L360.8 1208.1 L362.1 1211.5 L363.4 1214.6 L364.7 1217.3 L366.1 1219.8 L367.4 1222.1 L368.7 1224.1 L370 1225.8 L371.3 1227.4 L372.6 1228.8 L373.9 1230.1 L375.2 1231.2 L376.6 1232.1 L377.9 1233 L379.2 1233.7 L380.5 1234.3 L381.8 1234.9 L383.1 1235.4 L384.4 1235.8 L385.7 1236.1 L387 1236.4 L388.4 1236.7 L389.7 1236.9 L391 1237.1 L392.3 1237.2 L393.6 1237.4 L394.9 1237.5 L396.2 1237.6 L397.5 1237.6 L398.9 1237.7 L400.2 1237.8 L401.5 1237.8 L402.8 1237.8 L404.1 1237.9 L405.4 1237.9 L406.7 1237.9 L408 1237.9 L409.4 1237.9 L410.7 1238 L412 1238 L413.3 1238 L414.6 1238 L415.9 1238 L417.2 1238 L418.5 1238 L419.8 1238 L421.2 1238 L422.5 1238 L423.8 1238 L425.1 1238 L426.4 1238 L427.7 1238 L429 1238 L430.3 1238 L431.7 1238 L433 1238 L434.3 1238 L435.6 1238 L436.9 1238 L438.2 1238 L439.5 1238 L440.8 1238 L442.2 1238 L443.5 1238 L444.8 1238 L446.1 1238 L447.4 1238 L448.7 1238 L450 1238 L451.3 1238 L452.6 1238 L454 1238 L455.3 1238 L456.6 1238 L457.9 1238 L459.2 1238 L460.5 1238 L461.8 1238 L463.1 1238 L464.5 1238 L465.8 1238 L467.1 1238 L468.4 1238 L469.7 1238 L471 1238 L472.3 1238 L473.6 1238 L475 1238 L476.3 1238 L477.6 1238 L478.9 1238 L480.2 1238 L481.5 1238 L482.8 1238 L484.1 1238 L485.4 1238 L486.8 1238 L488.1 1238 L489.4 1238 L490.7 1238 L492 1238 L493.3 1238 L494.6 1238 L495.9 1238 L497.3 1238 L498.6 1238 L499.9 1238 L501.2 1238 L502.5 1238 L503.8 1238 L505.1 1238 L506.4 1238 L507.8 1238 L509.1 1238 L510.4 1238 L511.7 1238 L513 1238 L514.3 1238 L515.6 1238 L516.9 1238 L518.2 1238 L519.6 1238 L520.9 1238 L522.2 1238 L523.5 1238 L524.8 1238 L526.1 1238 L527.4 1238 L528.7 1238 L530.1 1238 L531.4 1238 L532.7 1238 L534 1238 L535.3 1238 L536.6 1238 L537.9 1238 L539.2 1238 L540.6 1238 L541.9 1238 L543.2 1238 L544.5 1238 L545.8 1238 L547.1 1238 L548.4 1238 L549.7 1238 L551 1238 L552.4 1238 L553.7 1238 L555 1238 L556.3 1238 L557.6 1238 L558.9 1238 L560.2 1238 L561.5 1238 L562.9 1238 L564.2 1238 L565.5 1238 L566.8 1238 L568.1 1238 L569.4 1238 L570.7 1238 L572 1238 L573.4 1238 L574.7 1238 L576 1238 L577.3 1238 L578.6 1238 L579.9 1238 L581.2 1238 L582.5 1238 L583.8 1238 L585.2 1238 L586.5 1238 L587.8 1238 L589.1 1238 L590.4 1238 L591.7 1238 L593 1238 L594.3 1238 L595.7 1238 L597 1238 L598.3 1238 L599.6 1238 L600.9 1238 L602.2 1238 L603.5 1238 L604.8 1238 L606.2 1238 L607.5 1238 L608.8 1238 L610.1 1238 L611.4 1238 L612.7 1238 L614 1238 L615.3 1238 L616.6 1238 L618 1238 L619.3 1238 L620.6 1238 L621.9 1238 L623.2 1238 L624.5 1238 L625.8 1238 L627.1 1238 L628.5 1238 L629.8 1238 L631.1 1238 L632.4 1238 L633.7 1238 L635 1238 L636.3 1238 L637.6 1238 L639 1238 L640.3 1238 L641.6 1238 L642.9 1238 L644.2 1238 L645.5 1238 L646.8 1238 L648.1 1238 L649.4 1238 L650.8 1238 L652.1 1238 L653.4 1238 L654.7 1238 L656 1238 L657.3 1238 L658.6 1238 L659.9 1238 L661.3 1238 L662.6 1238 L663.9 1238 L665.2 1238 L666.5 1238 L667.8 1238 L669.1 1238 L670.4 1238 L671.8 1238 L673.1 1238 L674.4 1238 L675.7 1238 L677 1238 L678.3 1238 L679.6 1238 L680.9 1238 L682.2 1238 L683.6 1238 L684.9 1238 L686.2 1238 L687.5 1238 L688.8 1238 L690.1 1238 L691.4 1238 L692.7 1238 L694.1 1238 L695.4 1238 L696.7 1238 L698 1238 L699.3 1238 L700.6 1238 L701.9 1238 L703.2 1238 L704.6 1238 L705.9 1238 L707.2 1238 L708.5 1238 L709.8 1238 L711.1 1238 L712.4 1238 L713.7 1238 L715 1238 L716.4 1238 L717.7 1238 L719 1238 L720.3 1238 L721.6 1238 L722.9 1238 L724.2 1238 L725.5 1238 L726.9 1238 L728.2 1238 L729.5 1238 L730.8 1238 L732.1 1238 L733.4 1238 L734.7 1238 L736 1238 L737.4 1238 L738.7 1238 L740 1238 L741.3 1238 L742.6 1238 L743.9 1238 L745.2 1238 L746.5 1238 L747.8 1238 L749.2 1238 L750.5 1238 L751.8 1238 L753.1 1238 L754.4 1238 L755.7 1238 L757 1238 L758.3 1238 L759.7 1238 L761 1238 L762.3 1238 L763.6 1238 L764.9 1238 L766.2 1238 L767.5 1238 L768.8 1238 L770.2 1238 L771.5 1238 L772.8 1238 L774.1 1238 L775.4 1238 L776.7 1238 L778 1238 L779.3 1238 L780.6 1238 L782 1238 L783.3 1238 L784.6 1238 L785.9 1238 L787.2 1238 L788.5 1238 L789.8 1238 L791.1 1238 L792.5 1238 L793.8 1238 L795.1 1238 L796.4 1238 L797.7 1238 L799 1238 L800.3 1238 L801.6 1238 L803 1238 L804.3 1238 L805.6 1238 L806.9 1238 L808.2 1238 L809.5 1238 L810.8 1238 L812.1 1238 L813.4 1238 L814.8 1238 L816.1 1238 L817.4 1238 L818.7 1238 L820 1238 L821.3 1238 L822.6 1238 L823.9 1238 L825.3 1238 L826.6 1238 L827.9 1238 L829.2 1238 L830.5 1238 L831.8 1238 L833.1 1238 L834.4 1238 L835.8 1238 L837.1 1238 L838.4 1238 L839.7 1238 L841 1238" fill="none" stroke="#000000" stroke-width="3.6" stroke-linejoin="round" stroke-linecap="round" />
<path d="M53.8 1230.8 L55.1 1230.8 L56.4 1230.7 L57.7 1230.6 L59 1230.6 L60.4 1230.5 L61.7 1230.5 L63 1230.4 L64.3 1230.3 L65.6 1230.3 L66.9 1230.2 L68.2 1230.1 L69.5 1230.1 L70.9 1230 L72.2 1229.9 L73.5 1229.8 L74.8 1229.8 L76.1 1229.7 L77.4 1229.6 L78.7 1229.6 L80 1229.5 L81.4 1229.4 L82.7 1229.4 L84 1229.3 L85.3 1229.2 L86.6 1229.1 L87.9 1229.1 L89.2 1229 L90.5 1228.9 L91.8 1228.8 L93.2 1228.8 L94.5 1228.7 L95.8 1228.6 L97.1 1228.5 L98.4 1228.5 L99.7 1228.4 L101 1228.3 L102.3 1228.2 L103.7 1228.2 L105 1228.1 L106.3 1228 L107.6 1227.9 L108.9 1227.8 L110.2 1227.8 L111.5 1227.7 L112.8 1227.6 L114.2 1227.5 L115.5 1227.4 L116.8 1227.3 L118.1 1227.3 L119.4 1227.2 L120.7 1227.1 L122 1227 L123.3 1226.9 L124.6 1226.8 L126 1226.8 L127.3 1226.7 L128.6 1226.6 L129.9 1226.5 L131.2 1226.4 L132.5 1226.3 L133.8 1226.2 L135.1 1226.1 L136.5 1226.1 L137.8 1226 L139.1 1225.9 L140.4 1225.8 L141.7 1225.7 L143 1225.6 L144.3 1225.5 L145.6 1225.4 L147 1225.3 L148.3 1225.2 L149.6 1225.1 L150.9 1225 L152.2 1224.9 L153.5 1224.9 L154.8 1224.8 L156.1 1224.7 L157.4 1224.6 L158.8 1224.5 L160.1 1224.4 L161.4 1224.3 L162.7 1224.2 L164 1224.1 L165.3 1224 L166.6 1223.9 L167.9 1223.8 L169.3 1223.7 L170.6 1223.6 L171.9 1223.5 L173.2 1223.4 L174.5 1223.3 L175.8 1223.2 L177.1 1223.1 L178.4 1223 L179.8 1222.9 L181.1 1222.8 L182.4 1222.7 L183.7 1222.5 L185 1222.4 L186.3 1222.3 L187.6 1222.2 L188.9 1222.1 L190.2 1222 L191.6 1221.9 L192.9 1221.8 L194.2 1221.7 L195.5 1221.6 L196.8 1221.5 L198.1 1221.4 L199.4 1221.3 L200.7 1221.1 L202.1 1221 L203.4 1220.9 L204.7 1220.8 L206 1220.7 L207.3 1220.6 L208.6 1220.5 L209.9 1220.4 L211.2 1220.2 L212.6 1220.1 L213.9 1220 L215.2 1219.9 L216.5 1219.8 L217.8 1219.7 L219.1 1219.6 L220.4 1219.4 L221.7 1219.3 L223 1219.2 L224.4 1219.1 L225.7 1219 L227 1218.9 L228.3 1218.7 L229.6 1218.6 L230.9 1218.5 L232.2 1218.4 L233.5 1218.3 L234.9 1218.1 L236.2 1218 L237.5 1217.9 L238.8 1217.8 L240.1 1217.7 L241.4 1217.5 L242.7 1217.4 L244 1217.3 L245.4 1217.2 L246.7 1217.1 L248 1216.9 L249.3 1216.8 L250.6 1216.7 L251.9 1216.6 L253.2 1216.4 L254.5 1216.3 L255.8 1216.2 L257.2 1216.1 L258.5 1215.9 L259.8 1215.8 L261.1 1215.7 L262.4 1215.6 L263.7 1215.4 L265 1215.3 L266.3 1215.2 L267.7 1215 L269 1214.9 L270.3 1214.8 L271.6 1214.7 L272.9 1214.5 L274.2 1214.4 L275.5 1214.3 L276.8 1214.1 L278.2 1214 L279.5 1213.9 L280.8 1213.8 L282.1 1213.6 L283.4 1213.5 L284.7 1213.4 L286 1213.2 L287.3 1213.1 L288.6 1213 L290 1212.8 L291.3 1212.7 L292.6 1212.6 L293.9 1212.4 L295.2 1212.3 L296.5 1212.2 L297.8 1212 L299.1 1211.9 L300.5 1211.8 L301.8 1211.6 L303.1 1211.5 L304.4 1211.4 L305.7 1211.2 L307 1211.1 L308.3 1211 L309.6 1210.8 L311 1210.7 L312.3 1210.6 L313.6 1210.4 L314.9 1210.3 L316.2 1210.2 L317.5 1210 L318.8 1209.9 L320.1 1209.8 L321.4 1209.6 L322.8 1209.5 L324.1 1209.4 L325.4 1209.2 L326.7 1209.1 L328 1209 L329.3 1208.8 L330.6 1208.7 L331.9 1208.5 L333.3 1208.4 L334.6 1208.3 L335.9 1208.1 L337.2 1208 L338.5 1207.9 L339.8 1207.7 L341.1 1207.6 L342.4 1207.5 L343.8 1207.3 L345.1 1207.2 L346.4 1207 L347.7 1206.9 L349 1206.8 L350.3 1206.6 L351.6 1206.5 L352.9 1206.4 L354.2 1206.2 L355.6 1206.1 L356.9 1206 L358.2 1205.8 L359.5 1205.7 L360.8 1205.6 L362.1 1205.4 L363.4 1205.3 L364.7 1205.1 L366.1 1205 L367.4 1204.9 L368.7 1204.7 L370 1204.6 L371.3 1204.5 L372.6 1204.3 L373.9 1204.2 L375.2 1204.1 L376.6 1203.9 L377.9 1203.8 L379.2 1203.7 L380.5 1203.5 L381.8 1203.4 L383.1 1203.3 L384.4 1203.1 L385.7 1203 L387 1202.9 L388.4 1202.7 L389.7 1202.6 L391 1202.5 L392.3 1202.3 L393.6 1202.2 L394.9 1202.1 L396.2 1201.9 L397.5 1201.8 L398.9 1201.7 L400.2 1201.5 L401.5 1201.4 L402.8 1201.3 L404.1 1201.1 L405.4 1201 L406.7 1200.9 L408 1200.7 L409.4 1200.6 L410.7 1200.5 L412 1200.4 L413.3 1200.2 L414.6 1200.1 L415.9 1200 L417.2 1199.8 L418.5 1199.7 L419.8 1199.6 L421.2 1199.5 L422.5 1199.3 L423.8 1199.2 L425.1 1199.1 L426.4 1199 L427.7 1198.8 L429 1198.7 L430.3 1198.6 L431.7 1198.5 L433 1198.3 L434.3 1198.2 L435.6 1198.1 L436.9 1198 L438.2 1197.8 L439.5 1197.7 L440.8 1197.6 L442.2 1197.5 L443.5 1197.4 L444.8 1197.2 L446.1 1197.1 L447.4 1197 L448.7 1196.9 L450 1196.8 L451.3 1196.6 L452.6 1196.5 L454 1196.4 L455.3 1196.3 L456.6 1196.2 L457.9 1196.1 L459.2 1195.9 L460.5 1195.8 L461.8 1195.7 L463.1 1195.6 L464.5 1195.5 L465.8 1195.4 L467.1 1195.3 L468.4 1195.1 L469.7 1195 L471 1194.9 L472.3 1194.8 L473.6 1194.7 L475 1194.6 L476.3 1194.5 L477.6 1194.4 L478.9 1194.3 L480.2 1194.2 L481.5 1194.1 L482.8 1194 L484.1 1193.9 L485.4 1193.7 L486.8 1193.6 L488.1 1193.5 L489.4 1193.4 L490.7 1193.3 L492 1193.2 L493.3 1193.1 L494.6 1193 L495.9 1192.9 L497.3 1192.8 L498.6 1192.7 L499.9 1192.6 L501.2 1192.5 L502.5 1192.5 L503.8 1192.4 L505.1 1192.3 L506.4 1192.2 L507.8 1192.1 L509.1 1192 L510.4 1191.9 L511.7 1191.8 L513 1191.7 L514.3 1191.6 L515.6 1191.5 L516.9 1191.4 L518.2 1191.4 L519.6 1191.3 L520.9 1191.2 L522.2 1191.1 L523.5 1191 L524.8 1190.9 L526.1 1190.9 L527.4 1190.8 L528.7 1190.7 L530.1 1190.6 L531.4 1190.5 L532.7 1190.4 L534 1190.4 L535.3 1190.3 L536.6 1190.2 L537.9 1190.1 L539.2 1190.1 L540.6 1190 L541.9 1189.9 L543.2 1189.8 L544.5 1189.8 L545.8 1189.7 L547.1 1189.6 L548.4 1189.6 L549.7 1189.5 L551 1189.4 L552.4 1189.4 L553.7 1189.3 L555 1189.2 L556.3 1189.2 L557.6 1189.1 L558.9 1189 L560.2 1189 L561.5 1188.9 L562.9 1188.9 L564.2 1188.8 L565.5 1188.7 L566.8 1188.7 L568.1 1188.6 L569.4 1188.6 L570.7 1188.5 L572 1188.5 L573.4 1188.4 L574.7 1188.4 L576 1188.3 L577.3 1188.3 L578.6 1188.2 L579.9 1188.2 L581.2 1188.1 L582.5 1188.1 L583.8 1188 L585.2 1188 L586.5 1187.9 L587.8 1187.9 L589.1 1187.9 L590.4 1187.8 L591.7 1187.8 L593 1187.7 L594.3 1187.7 L595.7 1187.7 L597 1187.6 L598.3 1187.6 L599.6 1187.6 L600.9 1187.5 L602.2 1187.5 L603.5 1187.5 L604.8 1187.4 L606.2 1187.4 L607.5 1187.4 L608.8 1187.4 L610.1 1187.3 L611.4 1187.3 L612.7 1187.3 L614 1187.3 L615.3 1187.2 L616.6 1187.2 L618 1187.2 L619.3 1187.2 L620.6 1187.2 L621.9 1187.1 L623.2 1187.1 L624.5 1187.1 L625.8 1187.1 L627.1 1187.1 L628.5 1187.1 L629.8 1187.1 L631.1 1187 L632.4 1187 L633.7 1187 L635 1187 L636.3 1187 L637.6 1187 L639 1187 L640.3 1187 L641.6 1187 L642.9 1187 L644.2 1187 L645.5 1187 L646.8 1187 L648.1 1187 L649.4 1187 L650.8 1187 L652.1 1187 L653.4 1187 L654.7 1187 L656 1187 L657.3 1187 L658.6 1187.1 L659.9 1187.1 L661.3 1187.1 L662.6 1187.1 L663.9 1187.1 L665.2 1187.1 L666.5 1187.1 L667.8 1187.2 L669.1 1187.2 L670.4 1187.2 L671.8 1187.2 L673.1 1187.2 L674.4 1187.3 L675.7 1187.3 L677 1187.3 L678.3 1187.3 L679.6 1187.4 L680.9 1187.4 L682.2 1187.4 L683.6 1187.4 L684.9 1187.5 L686.2 1187.5 L687.5 1187.5 L688.8 1187.6 L690.1 1187.6 L691.4 1187.6 L692.7 1187.7 L694.1 1187.7 L695.4 1187.7 L696.7 1187.8 L698 1187.8 L699.3 1187.9 L700.6 1187.9 L701.9 1187.9 L703.2 1188 L704.6 1188 L705.9 1188.1 L707.2 1188.1 L708.5 1188.2 L709.8 1188.2 L711.1 1188.3 L712.4 1188.3 L713.7 1188.4 L715 1188.4 L716.4 1188.5 L717.7 1188.5 L719 1188.6 L720.3 1188.6 L721.6 1188.7 L722.9 1188.7 L724.2 1188.8 L725.5 1188.9 L726.9 1188.9 L728.2 1189 L729.5 1189 L730.8 1189.1 L732.1 1189.2 L733.4 1189.2 L734.7 1189.3 L736 1189.4 L737.4 1189.4 L738.7 1189.5 L740 1189.6 L741.3 1189.6 L742.6 1189.7 L743.9 1189.8 L745.2 1189.8 L746.5 1189.9 L747.8 1190 L749.2 1190.1 L750.5 1190.1 L751.8 1190.2 L753.1 1190.3 L754.4 1190.4 L755.7 1190.4 L757 1190.5 L758.3 1190.6 L759.7 1190.7 L761 1190.8 L762.3 1190.9 L763.6 1190.9 L764.9 1191 L766.2 1191.1 L767.5 1191.2 L768.8 1191.3 L770.2 1191.4 L771.5 1191.4 L772.8 1191.5 L774.1 1191.6 L775.4 1191.7 L776.7 1191.8 L778 1191.9 L779.3 1192 L780.6 1192.1 L782 1192.2 L783.3 1192.3 L784.6 1192.4 L785.9 1192.5 L787.2 1192.5 L788.5 1192.6 L789.8 1192.7 L791.1 1192.8 L792.5 1192.9 L793.8 1193 L795.1 1193.1 L796.4 1193.2 L797.7 1193.3 L799 1193.4 L800.3 1193.5 L801.6 1193.6 L803 1193.7 L804.3 1193.9 L805.6 1194 L806.9 1194.1 L808.2 1194.2 L809.5 1194.3 L810.8 1194.4 L812.1 1194.5 L813.4 1194.6 L814.8 1194.7 L816.1 1194.8 L817.4 1194.9 L818.7 1195 L820 1195.1 L821.3 1195.3 L822.6 1195.4 L823.9 1195.5 L825.3 1195.6 L826.6 1195.7 L827.9 1195.8 L829.2 1195.9 L830.5 1196.1 L831.8 1196.2 L833.1 1196.3 L834.4 1196.4 L835.8 1196.5 L837.1 1196.6 L838.4 1196.8 L839.7 1196.9 L841 1197" fill="none" stroke="#0000ff" stroke-width="3.6" stroke-linejoin="round" stroke-linecap="round" />
<path d="M53.8 1238 L55.1 1238 L56.4 1238 L57.7 1238 L59 1238 L60.4 1238 L61.7 1238 L63 1238 L64.3 1238 L65.6 1238 L66.9 1238 L68.2 1238 L69.5 1238 L70.9 1238 L72.2 1238 L73.5 1238 L74.8 1238 L76.1 1238 L77.4 1238 L78.7 1238 L80 1238 L81.4 1238 L82.7 1238 L84 1238 L85.3 1238 L86.6 1238 L87.9 1238 L89.2 1238 L90.5 1238 L91.8 1238 L93.2 1238 L94.5 1238 L95.8 1238 L97.1 1238 L98.4 1238 L99.7 1238 L101 1238 L102.3 1238 L103.7 1238 L105 1238 L106.3 1238 L107.6 1238 L108.9 1238 L110.2 1238 L111.5 1238 L112.8 1238 L114.2 1238 L115.5 1238 L116.8 1238 L118.1 1238 L119.4 1238 L120.7 1238 L122 1238 L123.3 1238 L124.6 1238 L126 1238 L127.3 1238 L128.6 1238 L129.9 1238 L131.2 1238 L132.5 1238 L133.8 1238 L135.1 1238 L136.5 1238 L137.8 1237.9 L139.1 1237.9 L140.4 1237.9 L141.7 1237.9 L143 1237.9 L144.3 1237.9 L145.6 1237.9 L147 1237.9 L148.3 1237.9 L149.6 1237.9 L150.9 1237.9 L152.2 1237.9 L153.5 1237.8 L154.8 1237.8 L156.1 1237.8 L157.4 1237.8 L158.8 1237.8 L160.1 1237.8 L161.4 1237.7 L162.7 1237.7 L164 1237.7 L165.3 1237.7 L166.6 1237.6 L167.9 1237.6 L169.3 1237.6 L170.6 1237.5 L171.9 1237.5 L173.2 1237.5 L174.5 1237.4 L175.8 1237.4 L177.1 1237.3 L178.4 1237.3 L179.8 1237.2 L181.1 1237.2 L182.4 1237.1 L183.7 1237 L185 1237 L186.3 1236.9 L187.6 1236.8 L188.9 1236.7 L190.2 1236.6 L191.6 1236.5 L192.9 1236.4 L194.2 1236.3 L195.5 1236.2 L196.8 1236 L198.1 1235.9 L199.4 1235.7 L200.7 1235.6 L202.1 1235.4 L203.4 1235.2 L204.7 1235 L206 1234.8 L207.3 1234.6 L208.6 1234.4 L209.9 1234.2 L211.2 1233.9 L212.6 1233.7 L213.9 1233.4 L215.2 1233.1 L216.5 1232.8 L217.8 1232.4 L219.1 1232.1 L220.4 1231.7 L221.7 1231.4 L223 1231 L224.4 1230.5 L225.7 1230.1 L227 1229.6 L228.3 1229.2 L229.6 1228.6 L230.9 1228.1 L232.2 1227.5 L233.5 1227 L234.9 1226.4 L236.2 1225.7 L237.5 1225 L238.8 1224.4 L240.1 1223.6 L241.4 1222.9 L242.7 1222.1 L244 1221.3 L245.4 1220.4 L246.7 1219.5 L248 1218.6 L249.3 1217.6 L250.6 1216.6 L251.9 1215.6 L253.2 1214.5 L254.5 1213.4 L255.8 1212.3 L257.2 1211.1 L258.5 1209.8 L259.8 1208.6 L261.1 1207.2 L262.4 1205.9 L263.7 1204.5 L265 1203 L266.3 1201.5 L267.7 1200 L269 1198.4 L270.3 1196.8 L271.6 1195.2 L272.9 1193.4 L274.2 1191.7 L275.5 1189.9 L276.8 1188.1 L278.2 1186.2 L279.5 1184.2 L280.8 1182.3 L282.1 1180.3 L283.4 1178.2 L284.7 1176.1 L286 1174 L287.3 1171.8 L288.6 1169.6 L290 1167.3 L291.3 1165 L292.6 1162.7 L293.9 1160.3 L295.2 1157.9 L296.5 1155.5 L297.8 1153 L299.1 1150.5 L300.5 1148 L301.8 1145.5 L303.1 1142.9 L304.4 1140.3 L305.7 1137.7 L307 1135.1 L308.3 1132.4 L309.6 1129.8 L311 1127.1 L312.3 1124.5 L313.6 1121.8 L314.9 1119.1 L316.2 1116.4 L317.5 1113.8 L318.8 1111.1 L320.1 1108.5 L321.4 1105.8 L322.8 1103.2 L324.1 1100.6 L325.4 1098 L326.7 1095.4 L328 1092.9 L329.3 1090.4 L330.6 1087.9 L331.9 1085.5 L333.3 1083.1 L334.6 1080.7 L335.9 1078.4 L337.2 1076.2 L338.5 1073.9 L339.8 1071.8 L341.1 1069.7 L342.4 1067.7 L343.8 1065.7 L345.1 1063.8 L346.4 1062 L347.7 1060.2 L349 1058.5 L350.3 1056.9 L351.6 1055.4 L352.9 1053.9 L354.2 1052.5 L355.6 1051.2 L356.9 1050 L358.2 1048.9 L359.5 1047.9 L360.8 1047 L362.1 1046.2 L363.4 1045.4 L364.7 1044.8 L366.1 1044.2 L367.4 1043.8 L368.7 1043.4 L370 1043.2 L371.3 1043 L372.6 1043 L373.9 1043 L375.2 1043.2 L376.6 1043.4 L377.9 1043.8 L379.2 1044.2 L380.5 1044.8 L381.8 1045.4 L383.1 1046.2 L384.4 1047 L385.7 1047.9 L387 1048.9 L388.4 1050 L389.7 1051.2 L391 1052.5 L392.3 1053.9 L393.6 1055.4 L394.9 1056.9 L396.2 1058.5 L397.5 1060.2 L398.9 1062 L400.2 1063.8 L401.5 1065.7 L402.8 1067.7 L404.1 1069.7 L405.4 1071.8 L406.7 1073.9 L408 1076.2 L409.4 1078.4 L410.7 1080.7 L412 1083.1 L413.3 1085.5 L414.6 1087.9 L415.9 1090.4 L417.2 1092.9 L418.5 1095.4 L419.8 1098 L421.2 1100.6 L422.5 1103.2 L423.8 1105.8 L425.1 1108.5 L426.4 1111.1 L427.7 1113.8 L429 1116.4 L430.3 1119.1 L431.7 1121.8 L433 1124.5 L434.3 1127.1 L435.6 1129.8 L436.9 1132.4 L438.2 1135.1 L439.5 1137.7 L440.8 1140.3 L442.2 1142.9 L443.5 1145.5 L444.8 1148 L446.1 1150.5 L447.4 1153 L448.7 1155.5 L450 1157.9 L451.3 1160.3 L452.6 1162.7 L454 1165 L455.3 1167.3 L456.6 1169.6 L457.9 1171.8 L459.2 1174 L460.5 1176.1 L461.8 1178.2 L463.1 1180.3 L464.5 1182.3 L465.8 1184.2 L467.1 1186.2 L468.4 1188.1 L469.7 1189.9 L471 1191.7 L472.3 1193.4 L473.6 1195.2 L475 1196.8 L476.3 1198.4 L477.6 1200 L478.9 1201.5 L480.2 1203 L481.5 1204.5 L482.8 1205.9 L484.1 1207.2 L485.4 1208.6 L486.8 1209.8 L488.1 1211.1 L489.4 1212.3 L490.7 1213.4 L492 1214.5 L493.3 1215.6 L494.6 1216.6 L495.9 1217.6 L497.3 1218.6 L498.6 1219.5 L499.9 1220.4 L501.2 1221.3 L502.5 1222.1 L503.8 1222.9 L505.1 1223.6 L506.4 1224.4 L507.8 1225 L509.1 1225.7 L510.4 1226.4 L511.7 1227 L513 1227.5 L514.3 1228.1 L515.6 1228.6 L516.9 1229.2 L518.2 1229.6 L519.6 1230.1 L520.9 1230.5 L522.2 1231 L523.5 1231.4 L524.8 1231.7 L526.1 1232.1 L527.4 1232.4 L528.7 1232.8 L530.1 1233.1 L531.4 1233.4 L532.7 1233.7 L534 1233.9 L535.3 1234.2 L536.6 1234.4 L537.9 1234.6 L539.2 1234.8 L540.6 1235 L541.9 1235.2 L543.2 1235.4 L544.5 1235.6 L545.8 1235.7 L547.1 1235.9 L548.4 1236 L549.7 1236.2 L551 1236.3 L552.4 1236.4 L553.7 1236.5 L555 1236.6 L556.3 1236.7 L557.6 1236.8 L558.9 1236.9 L560.2 1237 L561.5 1237 L562.9 1237.1 L564.2 1237.2 L565.5 1237.2 L566.8 1237.3 L568.1 1237.3 L569.4 1237.4 L570.7 1237.4 L572 1237.5 L573.4 1237.5 L574.7 1237.5 L576 1237.6 L577.3 1237.6 L578.6 1237.6 L579.9 1237.7 L581.2 1237.7 L582.5 1237.7 L583.8 1237.7 L585.2 1237.8 L586.5 1237.8 L587.8 1237.8 L589.1 1237.8 L590.4 1237.8 L591.7 1237.8 L593 1237.9 L594.3 1237.9 L595.7 1237.9 L597 1237.9 L598.3 1237.9 L599.6 1237.9 L600.9 1237.9 L602.2 1237.9 L603.5 1237.9 L604.8 1237.9 L606.2 1237.9 L607.5 1237.9 L608.8 1238 L610.1 1238 L611.4 1238 L612.7 1238 L614 1238 L615.3 1238 L616.6 1238 L618 1238 L619.3 1238 L620.6 1238 L621.9 1238 L623.2 1238 L624.5 1238 L625.8 1238 L627.1 1238 L628.5 1238 L629.8 1238 L631.1 1238 L632.4 1238 L633.7 1238 L635 1238 L636.3 1238 L637.6 1238 L639 1238 L640.3 1238 L641.6 1238 L642.9 1238 L644.2 1238 L645.5 1238 L646.8 1238 L648.1 1238 L649.4 1238 L650.8 1238 L652.1 1238 L653.4 1238 L654.7 1238 L656 1238 L657.3 1238 L658.6 1238 L659.9 1238 L661.3 1238 L662.6 1238 L663.9 1238 L665.2 1238 L666.5 1238 L667.8 1238 L669.1 1238 L670.4 1238 L671.8 1238 L673.1 1238 L674.4 1238 L675.7 1238 L677 1238 L678.3 1238 L679.6 1238 L680.9 1238 L682.2 1238 L683.6 1238 L684.9 1238 L686.2 1238 L687.5 1238 L688.8 1238 L690.1 1238 L691.4 1238 L692.7 1238 L694.1 1238 L695.4 1238 L696.7 1238 L698 1238 L699.3 1238 L700.6 1238 L701.9 1238 L703.2 1238 L704.6 1238 L705.9 1238 L707.2 1238 L708.5 1238 L709.8 1238 L711.1 1238 L712.4 1238 L713.7 1238 L715 1238 L716.4 1238 L717.7 1238 L719 1238 L720.3 1238 L721.6 1238 L722.9 1238 L724.2 1238 L725.5 1238 L726.9 1238 L728.2 1238 L729.5 1238 L730.8 1238 L732.1 1238 L733.4 1238 L734.7 1238 L736 1238 L737.4 1238 L738.7 1238 L740 1238 L741.3 1238 L742.6 1238 L743.9 1238 L745.2 1238 L746.5 1238 L747.8 1238 L749.2 1238 L750.5 1238 L751.8 1238 L753.1 1238 L754.4 1238 L755.7 1238 L757 1238 L758.3 1238 L759.7 1238 L761 1238 L762.3 1238 L763.6 1238 L764.9 1238 L766.2 1238 L767.5 1238 L768.8 1238 L770.2 1238 L771.5 1238 L772.8 1238 L774.1 1238 L775.4 1238 L776.7 1238 L778 1238 L779.3 1238 L780.6 1238 L782 1238 L783.3 1238 L784.6 1238 L785.9 1238 L787.2 1238 L788.5 1238 L789.8 1238 L791.1 1238 L792.5 1238 L793.8 1238 L795.1 1238 L796.4 1238 L797.7 1238 L799 1238 L800.3 1238 L801.6 1238 L803 1238 L804.3 1238 L805.6 1238 L806.9 1238 L808.2 1238 L809.5 1238 L810.8 1238 L812.1 1238 L813.4 1238 L814.8 1238 L816.1 1238 L817.4 1238 L818.7 1238 L820 1238 L821.3 1238 L822.6 1238 L823.9 1238 L825.3 1238 L826.6 1238 L827.9 1238 L829.2 1238 L830.5 1238 L831.8 1238 L833.1 1238 L834.4 1238 L835.8 1238 L837.1 1238 L838.4 1238 L839.7 1238 L841 1238" fill="none" stroke="#ff0000" stroke-width="3.6" stroke-linejoin="round" stroke-linecap="round" />
<path d="M53.8 1230.8 L55.1 1230.8 L56.4 1230.7 L57.7 1230.6 L59 1230.6 L60.4 1230.5 L61.7 1230.5 L63 1230.4 L64.3 1230.3 L65.6 1230.3 L66.9 1230.2 L68.2 1230.1 L69.5 1230.1 L70.9 1230 L72.2 1229.9 L73.5 1229.8 L74.8 1229.8 L76.1 1229.7 L77.4 1229.6 L78.7 1229.6 L80 1229.5 L81.4 1229.4 L82.7 1229.4 L84 1229.3 L85.3 1229.2 L86.6 1229.1 L87.9 1229.1 L89.2 1229 L90.5 1228.9 L91.8 1228.8 L93.2 1228.8 L94.5 1228.7 L95.8 1228.6 L97.1 1228.5 L98.4 1228.5 L99.7 1228.4 L101 1228.3 L102.3 1228.2 L103.7 1228.2 L105 1228.1 L106.3 1228 L107.6 1227.9 L108.9 1227.8 L110.2 1227.8 L111.5 1227.7 L112.8 1227.6 L114.2 1227.5 L115.5 1227.4 L116.8 1227.3 L118.1 1227.3 L119.4 1227.2 L120.7 1227.1 L122 1227 L123.3 1226.9 L124.6 1226.8 L126 1226.7 L127.3 1226.6 L128.6 1226.6 L129.9 1226.5 L131.2 1226.4 L132.5 1226.3 L133.8 1226.2 L135.1 1226.1 L136.5 1226 L137.8 1225.9 L139.1 1225.8 L140.4 1225.7 L141.7 1225.6 L143 1225.5 L144.3 1225.4 L145.6 1225.3 L147 1225.2 L148.3 1225.1 L149.6 1225 L150.9 1224.9 L152.2 1224.8 L153.5 1224.7 L154.8 1224.6 L156.1 1224.5 L157.4 1224.4 L158.8 1224.2 L160.1 1224.1 L161.4 1224 L162.7 1223.9 L164 1223.8 L165.3 1223.6 L166.6 1223.5 L167.9 1223.4 L169.3 1223.3 L170.6 1223.1 L171.9 1223 L173.2 1222.8 L174.5 1222.7 L175.8 1222.5 L177.1 1222.4 L178.4 1222.2 L179.8 1222.1 L181.1 1221.9 L182.4 1221.7 L183.7 1221.6 L185 1221.4 L186.3 1221.2 L187.6 1221 L188.9 1220.8 L190.2 1220.6 L191.6 1220.4 L192.9 1220.2 L194.2 1220 L195.5 1219.7 L196.8 1219.5 L198.1 1219.2 L199.4 1219 L200.7 1218.7 L202.1 1218.4 L203.4 1218.1 L204.7 1217.8 L206 1217.5 L207.3 1217.1 L208.6 1216.8 L209.9 1216.4 L211.2 1216 L212.6 1215.6 L213.9 1215.1 L215.2 1214.7 L216.5 1214.2 L217.8 1213.7 L219.1 1213.1 L220.4 1212.5 L221.7 1211.9 L223 1211.2 L224.4 1210.5 L225.7 1209.7 L227 1208.8 L228.3 1207.9 L229.6 1206.9 L230.9 1205.8 L232.2 1204.7 L233.5 1203.4 L234.9 1202 L236.2 1200.5 L237.5 1198.8 L238.8 1197 L240.1 1195 L241.4 1192.8 L242.7 1190.5 L244 1187.9 L245.4 1185 L246.7 1182 L248 1178.6 L249.3 1174.9 L250.6 1171 L251.9 1166.6 L253.2 1162 L254.5 1156.9 L255.8 1151.5 L257.2 1145.6 L258.5 1139.3 L259.8 1132.6 L261.1 1125.3 L262.4 1117.7 L263.7 1109.5 L265 1100.9 L266.3 1091.8 L267.7 1082.2 L269 1072.1 L270.3 1061.6 L271.6 1050.6 L272.9 1039.2 L274.2 1027.4 L275.5 1015.3 L276.8 1002.8 L278.2 990.1 L279.5 977.1 L280.8 964 L282.1 950.7 L283.4 937.4 L284.7 924.1 L286 910.8 L287.3 897.7 L288.6 884.9 L290 872.3 L291.3 860.1 L292.6 848.3 L293.9 837.1 L295.2 826.4 L296.5 816.4 L297.8 807.1 L299.1 798.5 L300.5 790.8 L301.8 784 L303.1 778 L304.4 772.9 L305.7 768.9 L307 765.7 L308.3 763.6 L309.6 762.4 L311 762.2 L312.3 762.9 L313.6 764.5 L314.9 766.9 L316.2 770.3 L317.5 774.4 L318.8 779.2 L320.1 784.7 L321.4 790.8 L322.8 797.5 L324.1 804.6 L325.4 812.2 L326.7 820 L328 828.2 L329.3 836.6 L330.6 845.1 L331.9 853.6 L333.3 862.2 L334.6 870.7 L335.9 879.1 L337.2 887.4 L338.5 895.5 L339.8 903.3 L341.1 910.9 L342.4 918.2 L343.8 925.2 L345.1 931.8 L346.4 938.1 L347.7 944 L349 949.6 L350.3 954.8 L351.6 959.7 L352.9 964.2 L354.2 968.3 L355.6 972.1 L356.9 975.6 L358.2 978.8 L359.5 981.8 L360.8 984.4 L362.1 986.9 L363.4 989.1 L364.7 991.1 L366.1 992.9 L367.4 994.6 L368.7 996.1 L370 997.5 L371.3 998.9 L372.6 1000.1 L373.9 1001.3 L375.2 1002.4 L376.6 1003.4 L377.9 1004.5 L379.2 1005.6 L380.5 1006.6 L381.8 1007.7 L383.1 1008.8 L384.4 1009.9 L385.7 1011 L387 1012.2 L388.4 1013.4 L389.7 1014.7 L391 1016.1 L392.3 1017.4 L393.6 1018.9 L394.9 1020.4 L396.2 1022 L397.5 1023.6 L398.9 1025.3 L400.2 1027.1 L401.5 1028.9 L402.8 1030.8 L404.1 1032.7 L405.4 1034.7 L406.7 1036.7 L408 1038.8 L409.4 1041 L410.7 1043.2 L412 1045.4 L413.3 1047.7 L414.6 1050 L415.9 1052.3 L417.2 1054.7 L418.5 1057.1 L419.8 1059.6 L421.2 1062 L422.5 1064.5 L423.8 1067 L425.1 1069.5 L426.4 1072.1 L427.7 1074.6 L429 1077.1 L430.3 1079.7 L431.7 1082.2 L433 1084.8 L434.3 1087.3 L435.6 1089.9 L436.9 1092.4 L438.2 1094.9 L439.5 1097.4 L440.8 1099.9 L442.2 1102.4 L443.5 1104.8 L444.8 1107.2 L446.1 1109.6 L447.4 1112 L448.7 1114.3 L450 1116.7 L451.3 1118.9 L452.6 1121.2 L454 1123.4 L455.3 1125.6 L456.6 1127.7 L457.9 1129.8 L459.2 1131.9 L460.5 1133.9 L461.8 1135.9 L463.1 1137.8 L464.5 1139.7 L465.8 1141.6 L467.1 1143.4 L468.4 1145.2 L469.7 1146.9 L471 1148.6 L472.3 1150.3 L473.6 1151.9 L475 1153.4 L476.3 1154.9 L477.6 1156.4 L478.9 1157.8 L480.2 1159.2 L481.5 1160.5 L482.8 1161.8 L484.1 1163.1 L485.4 1164.3 L486.8 1165.5 L488.1 1166.6 L489.4 1167.7 L490.7 1168.7 L492 1169.8 L493.3 1170.7 L494.6 1171.7 L495.9 1172.6 L497.3 1173.4 L498.6 1174.2 L499.9 1175 L501.2 1175.8 L502.5 1176.5 L503.8 1177.2 L505.1 1177.9 L506.4 1178.5 L507.8 1179.1 L509.1 1179.7 L510.4 1180.2 L511.7 1180.8 L513 1181.3 L514.3 1181.7 L515.6 1182.2 L516.9 1182.6 L518.2 1183 L519.6 1183.4 L520.9 1183.7 L522.2 1184.1 L523.5 1184.4 L524.8 1184.7 L526.1 1185 L527.4 1185.2 L528.7 1185.5 L530.1 1185.7 L531.4 1185.9 L532.7 1186.1 L534 1186.3 L535.3 1186.5 L536.6 1186.6 L537.9 1186.8 L539.2 1186.9 L540.6 1187 L541.9 1187.1 L543.2 1187.3 L544.5 1187.3 L545.8 1187.4 L547.1 1187.5 L548.4 1187.6 L549.7 1187.6 L551 1187.7 L552.4 1187.8 L553.7 1187.8 L555 1187.8 L556.3 1187.9 L557.6 1187.9 L558.9 1187.9 L560.2 1187.9 L561.5 1188 L562.9 1188 L564.2 1188 L565.5 1188 L566.8 1188 L568.1 1188 L569.4 1188 L570.7 1188 L572 1187.9 L573.4 1187.9 L574.7 1187.9 L576 1187.9 L577.3 1187.9 L578.6 1187.9 L579.9 1187.8 L581.2 1187.8 L582.5 1187.8 L583.8 1187.8 L585.2 1187.8 L586.5 1187.7 L587.8 1187.7 L589.1 1187.7 L590.4 1187.7 L591.7 1187.6 L593 1187.6 L594.3 1187.6 L595.7 1187.6 L597 1187.5 L598.3 1187.5 L599.6 1187.5 L600.9 1187.5 L602.2 1187.4 L603.5 1187.4 L604.8 1187.4 L606.2 1187.4 L607.5 1187.3 L608.8 1187.3 L610.1 1187.3 L611.4 1187.3 L612.7 1187.2 L614 1187.2 L615.3 1187.2 L616.6 1187.2 L618 1187.2 L619.3 1187.2 L620.6 1187.1 L621.9 1187.1 L623.2 1187.1 L624.5 1187.1 L625.8 1187.1 L627.1 1187.1 L628.5 1187.1 L629.8 1187 L631.1 1187 L632.4 1187 L633.7 1187 L635 1187 L636.3 1187 L637.6 1187 L639 1187 L640.3 1187 L641.6 1187 L642.9 1187 L644.2 1187 L645.5 1187 L646.8 1187 L648.1 1187 L649.4 1187 L650.8 1187 L652.1 1187 L653.4 1187 L654.7 1187 L656 1187 L657.3 1187 L658.6 1187.1 L659.9 1187.1 L661.3 1187.1 L662.6 1187.1 L663.9 1187.1 L665.2 1187.1 L666.5 1187.1 L667.8 1187.2 L669.1 1187.2 L670.4 1187.2 L671.8 1187.2 L673.1 1187.2 L674.4 1187.3 L675.7 1187.3 L677 1187.3 L678.3 1187.3 L679.6 1187.4 L680.9 1187.4 L682.2 1187.4 L683.6 1187.4 L684.9 1187.5 L686.2 1187.5 L687.5 1187.5 L688.8 1187.6 L690.1 1187.6 L691.4 1187.6 L692.7 1187.7 L694.1 1187.7 L695.4 1187.7 L696.7 1187.8 L698 1187.8 L699.3 1187.9 L700.6 1187.9 L701.9 1187.9 L703.2 1188 L704.6 1188 L705.9 1188.1 L707.2 1188.1 L708.5 1188.2 L709.8 1188.2 L711.1 1188.3 L712.4 1188.3 L713.7 1188.4 L715 1188.4 L716.4 1188.5 L717.7 1188.5 L719 1188.6 L720.3 1188.6 L721.6 1188.7 L722.9 1188.7 L724.2 1188.8 L725.5 1188.9 L726.9 1188.9 L728.2 1189 L729.5 1189 L730.8 1189.1 L732.1 1189.2 L733.4 1189.2 L734.7 1189.3 L736 1189.4 L737.4 1189.4 L738.7 1189.5 L740 1189.6 L741.3 1189.6 L742.6 1189.7 L743.9 1189.8 L745.2 1189.8 L746.5 1189.9 L747.8 1190 L749.2 1190.1 L750.5 1190.1 L751.8 1190.2 L753.1 1190.3 L754.4 1190.4 L755.7 1190.4 L757 1190.5 L758.3 1190.6 L759.7 1190.7 L761 1190.8 L762.3 1190.9 L763.6 1190.9 L764.9 1191 L766.2 1191.1 L767.5 1191.2 L768.8 1191.3 L770.2 1191.4 L771.5 1191.4 L772.8 1191.5 L774.1 1191.6 L775.4 1191.7 L776.7 1191.8 L778 1191.9 L779.3 1192 L780.6 1192.1 L782 1192.2 L783.3 1192.3 L784.6 1192.4 L785.9 1192.5 L787.2 1192.5 L788.5 1192.6 L789.8 1192.7 L791.1 1192.8 L792.5 1192.9 L793.8 1193 L795.1 1193.1 L796.4 1193.2 L797.7 1193.3 L799 1193.4 L800.3 1193.5 L801.6 1193.6 L803 1193.7 L804.3 1193.9 L805.6 1194 L806.9 1194.1 L808.2 1194.2 L809.5 1194.3 L810.8 1194.4 L812.1 1194.5 L813.4 1194.6 L814.8 1194.7 L816.1 1194.8 L817.4 1194.9 L818.7 1195 L820 1195.1 L821.3 1195.3 L822.6 1195.4 L823.9 1195.5 L825.3 1195.6 L826.6 1195.7 L827.9 1195.8 L829.2 1195.9 L830.5 1196.1 L831.8 1196.2 L833.1 1196.3 L834.4 1196.4 L835.8 1196.5 L837.1 1196.6 L838.4 1196.8 L839.7 1196.9 L841 1197" fill="none" stroke="#007a00" stroke-width="3.6" stroke-linejoin="round" stroke-linecap="round" />
<rect x="53.8" y="693.5" width="787.2" height="584.3" fill="none" stroke="#000" stroke-width="4.1"/>
<line x1="53.8" y1="1277.8" x2="53.8" y2="1289.3" stroke="#000" stroke-width="4.2" stroke-linecap="round"/>
<text x="35.7" y="1314.7" font-size="21.80" font-weight="bold" >280</text>
<line x1="166.3" y1="1277.8" x2="166.3" y2="1289.3" stroke="#000" stroke-width="4.2" stroke-linecap="round"/>
<text x="148.1" y="1314.7" font-size="21.80" font-weight="bold" >282</text>
<line x1="278.7" y1="1277.8" x2="278.7" y2="1289.3" stroke="#000" stroke-width="4.2" stroke-linecap="round"/>
<text x="260.2" y="1314.7" font-size="21.80" font-weight="bold" >284</text>
<line x1="391.2" y1="1277.8" x2="391.2" y2="1289.3" stroke="#000" stroke-width="4.2" stroke-linecap="round"/>
<text x="373.0" y="1314.7" font-size="21.80" font-weight="bold" >286</text>
<line x1="503.6" y1="1277.8" x2="503.6" y2="1289.3" stroke="#000" stroke-width="4.2" stroke-linecap="round"/>
<text x="485.4" y="1314.7" font-size="21.80" font-weight="bold" >288</text>
<line x1="616.1" y1="1277.8" x2="616.1" y2="1289.3" stroke="#000" stroke-width="4.2" stroke-linecap="round"/>
<text x="598.0" y="1314.7" font-size="21.80" font-weight="bold" >290</text>
<line x1="728.5" y1="1277.8" x2="728.5" y2="1289.3" stroke="#000" stroke-width="4.2" stroke-linecap="round"/>
<text x="710.4" y="1314.7" font-size="21.80" font-weight="bold" >292</text>
<line x1="841" y1="1277.8" x2="841" y2="1289.3" stroke="#000" stroke-width="4.2" stroke-linecap="round"/>
<text x="822.5" y="1314.7" font-size="21.80" font-weight="bold" >294</text>
<text x="344.2" y="1344.2" font-size="27.30" font-weight="bold" >Binding energy (eV)</text>
<text transform="translate(24.0,1093.9) rotate(-90)" font-size="27.73" font-weight="bold">Intensity (a.u)</text>
<text x="83.7" y="734.5" font-size="27.49" font-weight="bold" >C 1s</text>
<text x="790.1" y="741.2" font-size="41.80" font-weight="bold" >b</text>
<text x="160.9" y="910.5" font-size="26.84" font-weight="bold" >284.4</text>
<line x1="229" y1="898.9" x2="285.5" y2="898.9" stroke="#ff8c1a" stroke-width="4.2" stroke-linecap="round"/>
<path d="M307 900.2 L283.5 905.6 L283.5 892.1 L307 897.6 Z" fill="#ff8c1a"/>
<text x="451.0" y="1050.7" font-size="27.30" font-weight="bold" >285.6</text>
<line x1="442" y1="1042.8" x2="390.5" y2="1042.8" stroke="#ff8c1a" stroke-width="4.2" stroke-linecap="round"/>
<path d="M369 1041.5 L392.5 1036 L392.5 1049.5 L369 1044.1 Z" fill="#ff8c1a"/>
<text x="584.9" y="1179.0" font-size="26.88" font-weight="bold" >289.4</text>
<path d="M913 1241 L914.1 1241 L915.2 1241 L916.4 1241 L917.5 1241 L918.6 1241 L919.8 1241 L920.9 1241 L922 1241 L923.1 1241 L924.2 1241 L925.4 1241 L926.5 1241 L927.6 1241 L928.8 1241 L929.9 1241 L931 1241 L932.1 1241 L933.2 1241 L934.4 1241 L935.5 1241 L936.6 1241 L937.8 1241 L938.9 1241 L940 1241 L941.1 1241 L942.2 1241 L943.4 1241 L944.5 1241 L945.6 1241 L946.8 1241 L947.9 1241 L949 1241 L950.1 1241 L951.2 1241 L952.4 1241 L953.5 1241 L954.6 1241 L955.8 1241 L956.9 1241 L958 1241 L959.1 1241 L960.2 1241 L961.4 1241 L962.5 1241 L963.6 1241 L964.8 1241 L965.9 1241 L967 1241 L968.1 1241 L969.2 1241 L970.4 1241 L971.5 1241 L972.6 1241 L973.8 1241 L974.9 1241 L976 1241 L977.1 1241 L978.2 1241 L979.4 1241 L980.5 1241 L981.6 1241 L982.8 1241 L983.9 1241 L985 1241 L986.1 1241 L987.2 1241 L988.4 1241 L989.5 1241 L990.6 1241 L991.8 1241 L992.9 1241 L994 1241 L995.1 1241 L996.2 1241 L997.4 1241 L998.5 1241 L999.6 1241 L1000.8 1241 L1001.9 1241 L1003 1241 L1004.1 1241 L1005.2 1241 L1006.4 1241 L1007.5 1241 L1008.6 1241 L1009.8 1241 L1010.9 1241 L1012 1241 L1013.1 1241 L1014.2 1241 L1015.4 1241 L1016.5 1241 L1017.6 1241 L1018.8 1241 L1019.9 1241 L1021 1241 L1022.1 1241 L1023.2 1241 L1024.4 1241 L1025.5 1241 L1026.6 1241 L1027.8 1241 L1028.9 1241 L1030 1241 L1031.1 1241 L1032.2 1241 L1033.4 1241 L1034.5 1241 L1035.6 1241 L1036.8 1241 L1037.9 1241 L1039 1241 L1040.1 1241 L1041.2 1241 L1042.4 1241 L1043.5 1241 L1044.6 1241 L1045.8 1241 L1046.9 1241 L1048 1241 L1049.1 1241 L1050.2 1241 L1051.4 1241 L1052.5 1241 L1053.6 1241 L1054.8 1241 L1055.9 1241 L1057 1241 L1058.1 1241 L1059.2 1241 L1060.4 1241 L1061.5 1241 L1062.6 1241 L1063.8 1241 L1064.9 1241 L1066 1241 L1067.1 1241 L1068.2 1241 L1069.4 1241 L1070.5 1241 L1071.6 1241 L1072.8 1241 L1073.9 1241 L1075 1241 L1076.1 1241 L1077.2 1241 L1078.4 1241 L1079.5 1241 L1080.6 1241 L1081.8 1241 L1082.9 1241 L1084 1241 L1085.1 1241 L1086.2 1241 L1087.4 1241 L1088.5 1241 L1089.6 1241 L1090.8 1241 L1091.9 1241 L1093 1241 L1094.1 1241 L1095.2 1241 L1096.4 1241 L1097.5 1241 L1098.6 1241 L1099.8 1241 L1100.9 1241 L1102 1241 L1103.1 1241 L1104.2 1241 L1105.4 1241 L1106.5 1241 L1107.6 1241 L1108.8 1241 L1109.9 1241 L1111 1241 L1112.1 1241 L1113.2 1241 L1114.4 1241 L1115.5 1241 L1116.6 1241 L1117.8 1241 L1118.9 1241 L1120 1241 L1121.1 1241 L1122.2 1241 L1123.4 1241 L1124.5 1241 L1125.6 1241 L1126.8 1241 L1127.9 1241 L1129 1241 L1130.1 1241 L1131.2 1241 L1132.4 1241 L1133.5 1241 L1134.6 1241 L1135.8 1241 L1136.9 1241 L1138 1241 L1139.1 1241 L1140.2 1241 L1141.4 1241 L1142.5 1241 L1143.6 1241 L1144.8 1241 L1145.9 1241 L1147 1241 L1148.1 1241 L1149.2 1240.9 L1150.4 1240.9 L1151.5 1240.9 L1152.6 1240.9 L1153.8 1240.9 L1154.9 1240.9 L1156 1240.9 L1157.1 1240.8 L1158.2 1240.8 L1159.4 1240.8 L1160.5 1240.7 L1161.6 1240.7 L1162.8 1240.6 L1163.9 1240.6 L1165 1240.5 L1166.1 1240.5 L1167.2 1240.4 L1168.4 1240.3 L1169.5 1240.2 L1170.6 1240.1 L1171.8 1240 L1172.9 1239.8 L1174 1239.7 L1175.1 1239.5 L1176.2 1239.3 L1177.4 1239.1 L1178.5 1238.8 L1179.6 1238.6 L1180.8 1238.3 L1181.9 1237.9 L1183 1237.6 L1184.1 1237.2 L1185.2 1236.7 L1186.4 1236.2 L1187.5 1235.7 L1188.6 1235.1 L1189.8 1234.5 L1190.9 1233.8 L1192 1233.1 L1193.1 1232.3 L1194.2 1231.4 L1195.4 1230.4 L1196.5 1229.4 L1197.6 1228.3 L1198.8 1227.1 L1199.9 1225.8 L1201 1224.5 L1202.1 1223 L1203.2 1221.5 L1204.4 1219.8 L1205.5 1218.1 L1206.6 1216.2 L1207.8 1214.3 L1208.9 1212.2 L1210 1210 L1211.1 1207.7 L1212.2 1205.3 L1213.4 1202.8 L1214.5 1200.2 L1215.6 1197.5 L1216.8 1194.7 L1217.9 1191.7 L1219 1188.7 L1220.1 1185.6 L1221.2 1182.4 L1222.4 1179.1 L1223.5 1175.7 L1224.6 1172.2 L1225.8 1168.7 L1226.9 1165.1 L1228 1161.5 L1229.1 1157.8 L1230.2 1154.2 L1231.4 1150.5 L1232.5 1146.8 L1233.6 1143.1 L1234.8 1139.4 L1235.9 1135.7 L1237 1132.2 L1238.1 1128.6 L1239.2 1125.2 L1240.4 1121.8 L1241.5 1118.5 L1242.6 1115.4 L1243.8 1112.4 L1244.9 1109.5 L1246 1106.8 L1247.1 1104.2 L1248.2 1101.9 L1249.4 1099.7 L1250.5 1097.7 L1251.6 1095.9 L1252.8 1094.4 L1253.9 1093.1 L1255 1092 L1256.1 1091.1 L1257.2 1090.5 L1258.4 1090.1 L1259.5 1090 L1260.6 1090.1 L1261.8 1090.5 L1262.9 1091.1 L1264 1092 L1265.1 1093.1 L1266.2 1094.4 L1267.4 1095.9 L1268.5 1097.7 L1269.6 1099.7 L1270.8 1101.9 L1271.9 1104.2 L1273 1106.8 L1274.1 1109.5 L1275.2 1112.4 L1276.4 1115.4 L1277.5 1118.5 L1278.6 1121.8 L1279.8 1125.2 L1280.9 1128.6 L1282 1132.2 L1283.1 1135.7 L1284.2 1139.4 L1285.4 1143.1 L1286.5 1146.8 L1287.6 1150.5 L1288.8 1154.2 L1289.9 1157.8 L1291 1161.5 L1292.1 1165.1 L1293.2 1168.7 L1294.4 1172.2 L1295.5 1175.7 L1296.6 1179.1 L1297.8 1182.4 L1298.9 1185.6 L1300 1188.7 L1301.1 1191.7 L1302.2 1194.7 L1303.4 1197.5 L1304.5 1200.2 L1305.6 1202.8 L1306.8 1205.3 L1307.9 1207.7 L1309 1210 L1310.1 1212.2 L1311.2 1214.3 L1312.4 1216.2 L1313.5 1218.1 L1314.6 1219.8 L1315.8 1221.5 L1316.9 1223 L1318 1224.5 L1319.1 1225.8 L1320.2 1227.1 L1321.4 1228.3 L1322.5 1229.4 L1323.6 1230.4 L1324.8 1231.4 L1325.9 1232.3 L1327 1233.1 L1328.1 1233.8 L1329.2 1234.5 L1330.4 1235.1 L1331.5 1235.7 L1332.6 1236.2 L1333.8 1236.7 L1334.9 1237.2 L1336 1237.6 L1337.1 1237.9 L1338.2 1238.3 L1339.4 1238.6 L1340.5 1238.8 L1341.6 1239.1 L1342.8 1239.3 L1343.9 1239.5 L1345 1239.7 L1346.1 1239.8 L1347.2 1240 L1348.4 1240.1 L1349.5 1240.2 L1350.6 1240.3 L1351.8 1240.4 L1352.9 1240.5 L1354 1240.5 L1355.1 1240.6 L1356.2 1240.6 L1357.4 1240.7 L1358.5 1240.7 L1359.6 1240.8 L1360.8 1240.8 L1361.9 1240.8 L1363 1240.9 L1364.1 1240.9 L1365.2 1240.9 L1366.4 1240.9 L1367.5 1240.9 L1368.6 1240.9 L1369.8 1240.9 L1370.9 1241 L1372 1241 L1373.1 1241 L1374.2 1241 L1375.4 1241 L1376.5 1241 L1377.6 1241 L1378.8 1241 L1379.9 1241 L1381 1241 L1382.1 1241 L1383.2 1241 L1384.4 1241 L1385.5 1241 L1386.6 1241 L1387.8 1241 L1388.9 1241 L1390 1241 L1391.1 1241 L1392.2 1241 L1393.4 1241 L1394.5 1241 L1395.6 1241 L1396.8 1241 L1397.9 1241 L1399 1241 L1400.1 1241 L1401.2 1241 L1402.4 1241 L1403.5 1241 L1404.6 1241 L1405.8 1241 L1406.9 1241 L1408 1241 L1409.1 1241 L1410.2 1241 L1411.4 1241 L1412.5 1241 L1413.6 1241 L1414.8 1241 L1415.9 1241 L1417 1241 L1418.1 1241 L1419.2 1241 L1420.4 1241 L1421.5 1241 L1422.6 1241 L1423.8 1241 L1424.9 1241 L1426 1241 L1427.1 1241 L1428.2 1241 L1429.4 1241 L1430.5 1241 L1431.6 1241 L1432.8 1241 L1433.9 1241 L1435 1241 L1436.1 1241 L1437.2 1241 L1438.4 1241 L1439.5 1241 L1440.6 1241 L1441.8 1241 L1442.9 1241 L1444 1241 L1445.1 1241 L1446.2 1241 L1447.4 1241 L1448.5 1241 L1449.6 1241 L1450.8 1241 L1451.9 1241 L1453 1241 L1454.1 1241 L1455.2 1241 L1456.4 1241 L1457.5 1241 L1458.6 1241 L1459.8 1241 L1460.9 1241 L1462 1241 L1463.1 1241 L1464.2 1241 L1465.4 1241 L1466.5 1241 L1467.6 1241 L1468.8 1241 L1469.9 1241 L1471 1241 L1472.1 1241 L1473.2 1241 L1474.4 1241 L1475.5 1241 L1476.6 1241 L1477.8 1241 L1478.9 1241 L1480 1241 L1481.1 1241 L1482.2 1241 L1483.4 1241 L1484.5 1241 L1485.6 1241 L1486.8 1241 L1487.9 1241 L1489 1241 L1490.1 1241 L1491.2 1241 L1492.4 1241 L1493.5 1241 L1494.6 1241 L1495.8 1241 L1496.9 1241 L1498 1241 L1499.1 1241 L1500.2 1241 L1501.4 1241 L1502.5 1241 L1503.6 1241 L1504.8 1241 L1505.9 1241 L1507 1241 L1508.1 1241 L1509.2 1241 L1510.4 1241 L1511.5 1241 L1512.6 1241 L1513.8 1241 L1514.9 1241 L1516 1241 L1517.1 1241 L1518.2 1241 L1519.4 1241 L1520.5 1241 L1521.6 1241 L1522.8 1241 L1523.9 1241 L1525 1241 L1526.1 1241 L1527.2 1241 L1528.4 1241 L1529.5 1241 L1530.6 1241 L1531.8 1241 L1532.9 1241 L1534 1241 L1535.1 1241 L1536.2 1241 L1537.4 1241 L1538.5 1241 L1539.6 1241 L1540.8 1241 L1541.9 1241 L1543 1241 L1544.1 1241 L1545.2 1241 L1546.4 1241 L1547.5 1241 L1548.6 1241 L1549.8 1241 L1550.9 1241 L1552 1241 L1553.1 1241 L1554.2 1241 L1555.4 1241 L1556.5 1241 L1557.6 1241 L1558.8 1241 L1559.9 1241 L1561 1241 L1562.1 1241 L1563.2 1241 L1564.4 1241 L1565.5 1241 L1566.6 1241 L1567.8 1241 L1568.9 1241 L1570 1241 L1571.1 1241 L1572.2 1241 L1573.4 1241 L1574.5 1241 L1575.6 1241 L1576.8 1241 L1577.9 1241 L1579 1241 L1580.1 1241 L1581.2 1241 L1582.4 1241 L1583.5 1241 L1584.6 1241 L1585.8 1241 L1586.9 1241 L1588 1241 L1589.1 1241 L1590.2 1241 L1591.4 1241 L1592.5 1241 L1593.6 1241 L1594.8 1241 L1595.9 1241 L1597 1241 L1598.1 1241 L1599.2 1241 L1600.4 1241 L1601.5 1241 L1602.6 1241 L1603.8 1241 L1604.9 1241 L1606 1241 L1607.1 1241 L1608.2 1241 L1609.4 1241 L1610.5 1241 L1611.6 1241 L1612.8 1241 L1613.9 1241 L1615 1241 L1616.1 1241 L1617.2 1241 L1618.4 1241 L1619.5 1241 L1620.6 1241 L1621.8 1241 L1622.9 1241 L1624 1241 L1625.1 1241 L1626.2 1241 L1627.4 1241 L1628.5 1241 L1629.6 1241 L1630.8 1241 L1631.9 1241 L1633 1241 L1634.1 1241 L1635.2 1241 L1636.4 1241 L1637.5 1241 L1638.6 1241 L1639.8 1241 L1640.9 1241 L1642 1241 L1643.1 1241 L1644.2 1241 L1645.4 1241 L1646.5 1241 L1647.6 1241 L1648.8 1241 L1649.9 1241 L1651 1241 L1652.1 1241 L1653.2 1241 L1654.4 1241 L1655.5 1241 L1656.6 1241 L1657.8 1241 L1658.9 1241 L1660 1241 L1661.1 1241 L1662.2 1241 L1663.4 1241 L1664.5 1241 L1665.6 1241 L1666.8 1241 L1667.9 1241 L1669 1241 L1670.1 1241 L1671.2 1241 L1672.4 1241 L1673.5 1241 L1674.6 1241 L1675.8 1241 L1676.9 1241 L1678 1241 L1679.1 1241 L1680.2 1241 L1681.4 1241 L1682.5 1241 L1683.6 1241 L1684.8 1241 L1685.9 1241 L1687 1241 L1688.1 1241 L1689.2 1241 L1690.4 1241 L1691.5 1241 L1692.6 1241 L1693.8 1241 L1694.9 1241 L1696 1241 L1697.1 1241 L1698.2 1241 L1699.4 1241 L1700.5 1241" fill="none" stroke="#000000" stroke-width="3.4" stroke-linejoin="round" stroke-linecap="round" />
<path d="M913 1241 L914.1 1241 L915.2 1241 L916.4 1241 L917.5 1241 L918.6 1241 L919.8 1241 L920.9 1241 L922 1241 L923.1 1241 L924.2 1241 L925.4 1241 L926.5 1241 L927.6 1241 L928.8 1241 L929.9 1241 L931 1241 L932.1 1241 L933.2 1241 L934.4 1241 L935.5 1241 L936.6 1241 L937.8 1241 L938.9 1241 L940 1241 L941.1 1241 L942.2 1241 L943.4 1241 L944.5 1241 L945.6 1241 L946.8 1241 L947.9 1241 L949 1241 L950.1 1241 L951.2 1241 L952.4 1241 L953.5 1241 L954.6 1241 L955.8 1241 L956.9 1241 L958 1241 L959.1 1241 L960.2 1241 L961.4 1241 L962.5 1241 L963.6 1241 L964.8 1241 L965.9 1241 L967 1241 L968.1 1241 L969.2 1241 L970.4 1241 L971.5 1241 L972.6 1241 L973.8 1241 L974.9 1241 L976 1241 L977.1 1241 L978.2 1241 L979.4 1241 L980.5 1241 L981.6 1241 L982.8 1241 L983.9 1241 L985 1241 L986.1 1241 L987.2 1241 L988.4 1241 L989.5 1241 L990.6 1241 L991.8 1241 L992.9 1241 L994 1241 L995.1 1241 L996.2 1241 L997.4 1241 L998.5 1241 L999.6 1241 L1000.8 1241 L1001.9 1241 L1003 1241 L1004.1 1241 L1005.2 1241 L1006.4 1241 L1007.5 1241 L1008.6 1241 L1009.8 1241 L1010.9 1241 L1012 1241 L1013.1 1241 L1014.2 1241 L1015.4 1241 L1016.5 1241 L1017.6 1241 L1018.8 1241 L1019.9 1241 L1021 1241 L1022.1 1241 L1023.2 1241 L1024.4 1241 L1025.5 1241 L1026.6 1241 L1027.8 1241 L1028.9 1241 L1030 1241 L1031.1 1241 L1032.2 1241 L1033.4 1241 L1034.5 1241 L1035.6 1241 L1036.8 1241 L1037.9 1241 L1039 1241 L1040.1 1241 L1041.2 1241 L1042.4 1241 L1043.5 1241 L1044.6 1241 L1045.8 1241 L1046.9 1241 L1048 1241 L1049.1 1241 L1050.2 1241 L1051.4 1241 L1052.5 1241 L1053.6 1241 L1054.8 1241 L1055.9 1241 L1057 1241 L1058.1 1241 L1059.2 1241 L1060.4 1241 L1061.5 1241 L1062.6 1241 L1063.8 1241 L1064.9 1241 L1066 1241 L1067.1 1241 L1068.2 1241 L1069.4 1241 L1070.5 1241 L1071.6 1241 L1072.8 1241 L1073.9 1241 L1075 1241 L1076.1 1241 L1077.2 1241 L1078.4 1241 L1079.5 1241 L1080.6 1241 L1081.8 1241 L1082.9 1241 L1084 1241 L1085.1 1241 L1086.2 1241 L1087.4 1241 L1088.5 1241 L1089.6 1241 L1090.8 1241 L1091.9 1241 L1093 1241 L1094.1 1241 L1095.2 1241 L1096.4 1241 L1097.5 1241 L1098.6 1241 L1099.8 1241 L1100.9 1241 L1102 1241 L1103.1 1241 L1104.2 1241 L1105.4 1241 L1106.5 1241 L1107.6 1241 L1108.8 1241 L1109.9 1241 L1111 1241 L1112.1 1241 L1113.2 1241 L1114.4 1241 L1115.5 1241 L1116.6 1241 L1117.8 1241 L1118.9 1241 L1120 1241 L1121.1 1241 L1122.2 1241 L1123.4 1241 L1124.5 1241 L1125.6 1241 L1126.8 1241 L1127.9 1241 L1129 1241 L1130.1 1241 L1131.2 1241 L1132.4 1241 L1133.5 1241 L1134.6 1241 L1135.8 1241 L1136.9 1241 L1138 1241 L1139.1 1241 L1140.2 1241 L1141.4 1241 L1142.5 1241 L1143.6 1241 L1144.8 1241 L1145.9 1241 L1147 1241 L1148.1 1241 L1149.2 1241 L1150.4 1241 L1151.5 1241 L1152.6 1241 L1153.8 1241 L1154.9 1241 L1156 1241 L1157.1 1241 L1158.2 1241 L1159.4 1241 L1160.5 1241 L1161.6 1241 L1162.8 1241 L1163.9 1241 L1165 1241 L1166.1 1241 L1167.2 1241 L1168.4 1241 L1169.5 1240.9 L1170.6 1240.9 L1171.8 1240.9 L1172.9 1240.9 L1174 1240.9 L1175.1 1240.9 L1176.2 1240.9 L1177.4 1240.9 L1178.5 1240.9 L1179.6 1240.9 L1180.8 1240.8 L1181.9 1240.8 L1183 1240.8 L1184.1 1240.8 L1185.2 1240.8 L1186.4 1240.7 L1187.5 1240.7 L1188.6 1240.7 L1189.8 1240.6 L1190.9 1240.6 L1192 1240.5 L1193.1 1240.5 L1194.2 1240.4 L1195.4 1240.4 L1196.5 1240.3 L1197.6 1240.2 L1198.8 1240.1 L1199.9 1240.1 L1201 1240 L1202.1 1239.9 L1203.2 1239.7 L1204.4 1239.6 L1205.5 1239.5 L1206.6 1239.3 L1207.8 1239.2 L1208.9 1239 L1210 1238.8 L1211.1 1238.6 L1212.2 1238.4 L1213.4 1238.2 L1214.5 1237.9 L1215.6 1237.6 L1216.8 1237.3 L1217.9 1237 L1219 1236.6 L1220.1 1236.3 L1221.2 1235.9 L1222.4 1235.4 L1223.5 1235 L1224.6 1234.5 L1225.8 1233.9 L1226.9 1233.3 L1228 1232.7 L1229.1 1232.1 L1230.2 1231.4 L1231.4 1230.6 L1232.5 1229.8 L1233.6 1229 L1234.8 1228.1 L1235.9 1227.1 L1237 1226.1 L1238.1 1225 L1239.2 1223.9 L1240.4 1222.6 L1241.5 1221.4 L1242.6 1220 L1243.8 1218.6 L1244.9 1217.1 L1246 1215.5 L1247.1 1213.8 L1248.2 1212 L1249.4 1210.2 L1250.5 1208.2 L1251.6 1206.2 L1252.8 1204.1 L1253.9 1201.8 L1255 1199.5 L1256.1 1197 L1257.2 1194.5 L1258.4 1191.8 L1259.5 1189.1 L1260.6 1186.2 L1261.8 1183.2 L1262.9 1180.1 L1264 1176.9 L1265.1 1173.6 L1266.2 1170.1 L1267.4 1166.6 L1268.5 1162.9 L1269.6 1159.1 L1270.8 1155.2 L1271.9 1151.1 L1273 1147 L1274.1 1142.7 L1275.2 1138.4 L1276.4 1133.9 L1277.5 1129.3 L1278.6 1124.7 L1279.8 1119.9 L1280.9 1115 L1282 1110.1 L1283.1 1105 L1284.2 1099.9 L1285.4 1094.7 L1286.5 1089.4 L1287.6 1084.1 L1288.8 1078.7 L1289.9 1073.3 L1291 1067.8 L1292.1 1062.3 L1293.2 1056.7 L1294.4 1051.2 L1295.5 1045.6 L1296.6 1040 L1297.8 1034.5 L1298.9 1028.9 L1300 1023.4 L1301.1 1017.9 L1302.2 1012.5 L1303.4 1007.1 L1304.5 1001.8 L1305.6 996.5 L1306.8 991.4 L1307.9 986.3 L1309 981.4 L1310.1 976.5 L1311.2 971.8 L1312.4 967.3 L1313.5 962.8 L1314.6 958.6 L1315.8 954.5 L1316.9 950.6 L1318 946.8 L1319.1 943.3 L1320.2 939.9 L1321.4 936.8 L1322.5 933.8 L1323.6 931.1 L1324.8 928.7 L1325.9 926.4 L1327 924.4 L1328.1 922.7 L1329.2 921.1 L1330.4 919.9 L1331.5 918.9 L1332.6 918.1 L1333.8 917.6 L1334.9 917.4 L1336 917.5 L1337.1 917.7 L1338.2 918.3 L1339.4 919.1 L1340.5 920.2 L1341.6 921.5 L1342.8 923.1 L1343.9 924.9 L1345 927 L1346.1 929.3 L1347.2 931.8 L1348.4 934.6 L1349.5 937.5 L1350.6 940.7 L1351.8 944.1 L1352.9 947.7 L1354 951.5 L1355.1 955.5 L1356.2 959.6 L1357.4 963.9 L1358.5 968.4 L1359.6 973 L1360.8 977.7 L1361.9 982.6 L1363 987.6 L1364.1 992.7 L1365.2 997.8 L1366.4 1003.1 L1367.5 1008.4 L1368.6 1013.8 L1369.8 1019.3 L1370.9 1024.8 L1372 1030.3 L1373.1 1035.9 L1374.2 1041.4 L1375.4 1047 L1376.5 1052.6 L1377.6 1058.1 L1378.8 1063.7 L1379.9 1069.2 L1381 1074.6 L1382.1 1080.1 L1383.2 1085.4 L1384.4 1090.7 L1385.5 1096 L1386.6 1101.2 L1387.8 1106.3 L1388.9 1111.3 L1390 1116.2 L1391.1 1121.1 L1392.2 1125.8 L1393.4 1130.5 L1394.5 1135 L1395.6 1139.5 L1396.8 1143.8 L1397.9 1148 L1399 1152.1 L1400.1 1156.1 L1401.2 1160 L1402.4 1163.8 L1403.5 1167.5 L1404.6 1171 L1405.8 1174.4 L1406.9 1177.7 L1408 1180.9 L1409.1 1184 L1410.2 1186.9 L1411.4 1189.8 L1412.5 1192.5 L1413.6 1195.1 L1414.8 1197.7 L1415.9 1200.1 L1417 1202.4 L1418.1 1204.6 L1419.2 1206.7 L1420.4 1208.7 L1421.5 1210.7 L1422.6 1212.5 L1423.8 1214.2 L1424.9 1215.9 L1426 1217.4 L1427.1 1218.9 L1428.2 1220.4 L1429.4 1221.7 L1430.5 1223 L1431.6 1224.2 L1432.8 1225.3 L1433.9 1226.4 L1435 1227.4 L1436.1 1228.3 L1437.2 1229.2 L1438.4 1230 L1439.5 1230.8 L1440.6 1231.6 L1441.8 1232.2 L1442.9 1232.9 L1444 1233.5 L1445.1 1234.1 L1446.2 1234.6 L1447.4 1235.1 L1448.5 1235.5 L1449.6 1236 L1450.8 1236.4 L1451.9 1236.7 L1453 1237.1 L1454.1 1237.4 L1455.2 1237.7 L1456.4 1238 L1457.5 1238.2 L1458.6 1238.5 L1459.8 1238.7 L1460.9 1238.9 L1462 1239.1 L1463.1 1239.2 L1464.2 1239.4 L1465.4 1239.5 L1466.5 1239.7 L1467.6 1239.8 L1468.8 1239.9 L1469.9 1240 L1471 1240.1 L1472.1 1240.2 L1473.2 1240.2 L1474.4 1240.3 L1475.5 1240.4 L1476.6 1240.4 L1477.8 1240.5 L1478.9 1240.5 L1480 1240.6 L1481.1 1240.6 L1482.2 1240.7 L1483.4 1240.7 L1484.5 1240.7 L1485.6 1240.8 L1486.8 1240.8 L1487.9 1240.8 L1489 1240.8 L1490.1 1240.8 L1491.2 1240.9 L1492.4 1240.9 L1493.5 1240.9 L1494.6 1240.9 L1495.8 1240.9 L1496.9 1240.9 L1498 1240.9 L1499.1 1240.9 L1500.2 1240.9 L1501.4 1241 L1502.5 1241 L1503.6 1241 L1504.8 1241 L1505.9 1241 L1507 1241 L1508.1 1241 L1509.2 1241 L1510.4 1241 L1511.5 1241 L1512.6 1241 L1513.8 1241 L1514.9 1241 L1516 1241 L1517.1 1241 L1518.2 1241 L1519.4 1241 L1520.5 1241 L1521.6 1241 L1522.8 1241 L1523.9 1241 L1525 1241 L1526.1 1241 L1527.2 1241 L1528.4 1241 L1529.5 1241 L1530.6 1241 L1531.8 1241 L1532.9 1241 L1534 1241 L1535.1 1241 L1536.2 1241 L1537.4 1241 L1538.5 1241 L1539.6 1241 L1540.8 1241 L1541.9 1241 L1543 1241 L1544.1 1241 L1545.2 1241 L1546.4 1241 L1547.5 1241 L1548.6 1241 L1549.8 1241 L1550.9 1241 L1552 1241 L1553.1 1241 L1554.2 1241 L1555.4 1241 L1556.5 1241 L1557.6 1241 L1558.8 1241 L1559.9 1241 L1561 1241 L1562.1 1241 L1563.2 1241 L1564.4 1241 L1565.5 1241 L1566.6 1241 L1567.8 1241 L1568.9 1241 L1570 1241 L1571.1 1241 L1572.2 1241 L1573.4 1241 L1574.5 1241 L1575.6 1241 L1576.8 1241 L1577.9 1241 L1579 1241 L1580.1 1241 L1581.2 1241 L1582.4 1241 L1583.5 1241 L1584.6 1241 L1585.8 1241 L1586.9 1241 L1588 1241 L1589.1 1241 L1590.2 1241 L1591.4 1241 L1592.5 1241 L1593.6 1241 L1594.8 1241 L1595.9 1241 L1597 1241 L1598.1 1241 L1599.2 1241 L1600.4 1241 L1601.5 1241 L1602.6 1241 L1603.8 1241 L1604.9 1241 L1606 1241 L1607.1 1241 L1608.2 1241 L1609.4 1241 L1610.5 1241 L1611.6 1241 L1612.8 1241 L1613.9 1241 L1615 1241 L1616.1 1241 L1617.2 1241 L1618.4 1241 L1619.5 1241 L1620.6 1241 L1621.8 1241 L1622.9 1241 L1624 1241 L1625.1 1241 L1626.2 1241 L1627.4 1241 L1628.5 1241 L1629.6 1241 L1630.8 1241 L1631.9 1241 L1633 1241 L1634.1 1241 L1635.2 1241 L1636.4 1241 L1637.5 1241 L1638.6 1241 L1639.8 1241 L1640.9 1241 L1642 1241 L1643.1 1241 L1644.2 1241 L1645.4 1241 L1646.5 1241 L1647.6 1241 L1648.8 1241 L1649.9 1241 L1651 1241 L1652.1 1241 L1653.2 1241 L1654.4 1241 L1655.5 1241 L1656.6 1241 L1657.8 1241 L1658.9 1241 L1660 1241 L1661.1 1241 L1662.2 1241 L1663.4 1241 L1664.5 1241 L1665.6 1241 L1666.8 1241 L1667.9 1241 L1669 1241 L1670.1 1241 L1671.2 1241 L1672.4 1241 L1673.5 1241 L1674.6 1241 L1675.8 1241 L1676.9 1241 L1678 1241 L1679.1 1241 L1680.2 1241 L1681.4 1241 L1682.5 1241 L1683.6 1241 L1684.8 1241 L1685.9 1241 L1687 1241 L1688.1 1241 L1689.2 1241 L1690.4 1241 L1691.5 1241 L1692.6 1241 L1693.8 1241 L1694.9 1241 L1696 1241 L1697.1 1241 L1698.2 1241 L1699.4 1241 L1700.5 1241" fill="none" stroke="#ff0000" stroke-width="3.4" stroke-linejoin="round" stroke-linecap="round" />
<path d="M913 1241 L914.1 1241 L915.2 1241 L916.4 1241 L917.5 1241 L918.6 1241 L919.8 1241 L920.9 1241 L922 1241 L923.1 1241 L924.2 1241 L925.4 1241 L926.5 1241 L927.6 1241 L928.8 1241 L929.9 1241 L931 1241 L932.1 1241 L933.2 1241 L934.4 1241 L935.5 1241 L936.6 1241 L937.8 1241 L938.9 1241 L940 1241 L941.1 1241 L942.2 1241 L943.4 1241 L944.5 1241 L945.6 1241 L946.8 1241 L947.9 1241 L949 1241 L950.1 1241 L951.2 1241 L952.4 1241 L953.5 1241 L954.6 1241 L955.8 1241 L956.9 1241 L958 1241 L959.1 1241 L960.2 1241 L961.4 1241 L962.5 1241 L963.6 1241 L964.8 1241 L965.9 1241 L967 1241 L968.1 1241 L969.2 1241 L970.4 1241 L971.5 1241 L972.6 1241 L973.8 1241 L974.9 1241 L976 1241 L977.1 1241 L978.2 1241 L979.4 1241 L980.5 1241 L981.6 1241 L982.8 1241 L983.9 1241 L985 1241 L986.1 1241 L987.2 1241 L988.4 1241 L989.5 1241 L990.6 1241 L991.8 1241 L992.9 1241 L994 1241 L995.1 1241 L996.2 1241 L997.4 1241 L998.5 1241 L999.6 1241 L1000.8 1241 L1001.9 1241 L1003 1241 L1004.1 1241 L1005.2 1241 L1006.4 1241 L1007.5 1241 L1008.6 1241 L1009.8 1241 L1010.9 1241 L1012 1241 L1013.1 1241 L1014.2 1241 L1015.4 1241 L1016.5 1241 L1017.6 1241 L1018.8 1241 L1019.9 1241 L1021 1241 L1022.1 1241 L1023.2 1241 L1024.4 1241 L1025.5 1241 L1026.6 1241 L1027.8 1241 L1028.9 1241 L1030 1241 L1031.1 1241 L1032.2 1241 L1033.4 1241 L1034.5 1241 L1035.6 1241 L1036.8 1241 L1037.9 1241 L1039 1241 L1040.1 1241 L1041.2 1241 L1042.4 1241 L1043.5 1241 L1044.6 1241 L1045.8 1241 L1046.9 1241 L1048 1241 L1049.1 1241 L1050.2 1241 L1051.4 1240.9 L1052.5 1240.9 L1053.6 1240.9 L1054.8 1240.9 L1055.9 1240.9 L1057 1240.9 L1058.1 1240.9 L1059.2 1240.9 L1060.4 1240.9 L1061.5 1240.9 L1062.6 1240.9 L1063.8 1240.9 L1064.9 1240.9 L1066 1240.9 L1067.1 1240.9 L1068.2 1240.9 L1069.4 1240.9 L1070.5 1240.9 L1071.6 1240.9 L1072.8 1240.8 L1073.9 1240.8 L1075 1240.8 L1076.1 1240.8 L1077.2 1240.8 L1078.4 1240.8 L1079.5 1240.8 L1080.6 1240.8 L1081.8 1240.8 L1082.9 1240.7 L1084 1240.7 L1085.1 1240.7 L1086.2 1240.7 L1087.4 1240.7 L1088.5 1240.7 L1089.6 1240.7 L1090.8 1240.6 L1091.9 1240.6 L1093 1240.6 L1094.1 1240.6 L1095.2 1240.6 L1096.4 1240.5 L1097.5 1240.5 L1098.6 1240.5 L1099.8 1240.5 L1100.9 1240.4 L1102 1240.4 L1103.1 1240.4 L1104.2 1240.3 L1105.4 1240.3 L1106.5 1240.3 L1107.6 1240.2 L1108.8 1240.2 L1109.9 1240.1 L1111 1240.1 L1112.1 1240.1 L1113.2 1240 L1114.4 1240 L1115.5 1239.9 L1116.6 1239.9 L1117.8 1239.8 L1118.9 1239.7 L1120 1239.7 L1121.1 1239.6 L1122.2 1239.6 L1123.4 1239.5 L1124.5 1239.4 L1125.6 1239.3 L1126.8 1239.3 L1127.9 1239.2 L1129 1239.1 L1130.1 1239 L1131.2 1238.9 L1132.4 1238.8 L1133.5 1238.7 L1134.6 1238.6 L1135.8 1238.5 L1136.9 1238.4 L1138 1238.3 L1139.1 1238.2 L1140.2 1238.1 L1141.4 1237.9 L1142.5 1237.8 L1143.6 1237.7 L1144.8 1237.5 L1145.9 1237.4 L1147 1237.2 L1148.1 1237.1 L1149.2 1236.9 L1150.4 1236.7 L1151.5 1236.5 L1152.6 1236.4 L1153.8 1236.2 L1154.9 1236 L1156 1235.8 L1157.1 1235.6 L1158.2 1235.3 L1159.4 1235.1 L1160.5 1234.9 L1161.6 1234.6 L1162.8 1234.4 L1163.9 1234.1 L1165 1233.9 L1166.1 1233.6 L1167.2 1233.3 L1168.4 1233 L1169.5 1232.7 L1170.6 1232.4 L1171.8 1232.1 L1172.9 1231.8 L1174 1231.5 L1175.1 1231.1 L1176.2 1230.8 L1177.4 1230.4 L1178.5 1230 L1179.6 1229.6 L1180.8 1229.2 L1181.9 1228.8 L1183 1228.4 L1184.1 1227.9 L1185.2 1227.5 L1186.4 1227 L1187.5 1226.6 L1188.6 1226.1 L1189.8 1225.6 L1190.9 1225.1 L1192 1224.6 L1193.1 1224 L1194.2 1223.5 L1195.4 1222.9 L1196.5 1222.3 L1197.6 1221.7 L1198.8 1221.1 L1199.9 1220.5 L1201 1219.9 L1202.1 1219.2 L1203.2 1218.6 L1204.4 1217.9 L1205.5 1217.2 L1206.6 1216.5 L1207.8 1215.8 L1208.9 1215 L1210 1214.3 L1211.1 1213.5 L1212.2 1212.7 L1213.4 1211.9 L1214.5 1211.1 L1215.6 1210.3 L1216.8 1209.4 L1217.9 1208.5 L1219 1207.7 L1220.1 1206.8 L1221.2 1205.8 L1222.4 1204.9 L1223.5 1204 L1224.6 1203 L1225.8 1202 L1226.9 1201 L1228 1200 L1229.1 1199 L1230.2 1197.9 L1231.4 1196.9 L1232.5 1195.8 L1233.6 1194.7 L1234.8 1193.6 L1235.9 1192.5 L1237 1191.3 L1238.1 1190.2 L1239.2 1189 L1240.4 1187.8 L1241.5 1186.6 L1242.6 1185.4 L1243.8 1184.2 L1244.9 1182.9 L1246 1181.7 L1247.1 1180.4 L1248.2 1179.1 L1249.4 1177.8 L1250.5 1176.5 L1251.6 1175.2 L1252.8 1173.8 L1253.9 1172.5 L1255 1171.1 L1256.1 1169.8 L1257.2 1168.4 L1258.4 1167 L1259.5 1165.6 L1260.6 1164.2 L1261.8 1162.8 L1262.9 1161.4 L1264 1159.9 L1265.1 1158.5 L1266.2 1157 L1267.4 1155.6 L1268.5 1154.1 L1269.6 1152.7 L1270.8 1151.2 L1271.9 1149.7 L1273 1148.3 L1274.1 1146.8 L1275.2 1145.3 L1276.4 1143.9 L1277.5 1142.4 L1278.6 1140.9 L1279.8 1139.4 L1280.9 1137.9 L1282 1136.5 L1283.1 1135 L1284.2 1133.5 L1285.4 1132.1 L1286.5 1130.6 L1287.6 1129.2 L1288.8 1127.7 L1289.9 1126.3 L1291 1124.9 L1292.1 1123.4 L1293.2 1122 L1294.4 1120.6 L1295.5 1119.2 L1296.6 1117.9 L1297.8 1116.5 L1298.9 1115.1 L1300 1113.8 L1301.1 1112.5 L1302.2 1111.2 L1303.4 1109.9 L1304.5 1108.6 L1305.6 1107.4 L1306.8 1106.1 L1307.9 1104.9 L1309 1103.7 L1310.1 1102.5 L1311.2 1101.4 L1312.4 1100.2 L1313.5 1099.1 L1314.6 1098 L1315.8 1097 L1316.9 1095.9 L1318 1094.9 L1319.1 1093.9 L1320.2 1093 L1321.4 1092 L1322.5 1091.1 L1323.6 1090.3 L1324.8 1089.4 L1325.9 1088.6 L1327 1087.8 L1328.1 1087.1 L1329.2 1086.3 L1330.4 1085.6 L1331.5 1085 L1332.6 1084.4 L1333.8 1083.8 L1334.9 1083.2 L1336 1082.7 L1337.1 1082.2 L1338.2 1081.7 L1339.4 1081.3 L1340.5 1080.9 L1341.6 1080.6 L1342.8 1080.2 L1343.9 1080 L1345 1079.7 L1346.1 1079.5 L1347.2 1079.3 L1348.4 1079.2 L1349.5 1079.1 L1350.6 1079 L1351.8 1079 L1352.9 1079 L1354 1079.1 L1355.1 1079.1 L1356.2 1079.3 L1357.4 1079.4 L1358.5 1079.6 L1359.6 1079.8 L1360.8 1080.1 L1361.9 1080.4 L1363 1080.7 L1364.1 1081.1 L1365.2 1081.5 L1366.4 1082 L1367.5 1082.4 L1368.6 1082.9 L1369.8 1083.5 L1370.9 1084.1 L1372 1084.7 L1373.1 1085.3 L1374.2 1086 L1375.4 1086.7 L1376.5 1087.4 L1377.6 1088.2 L1378.8 1089 L1379.9 1089.8 L1381 1090.7 L1382.1 1091.6 L1383.2 1092.5 L1384.4 1093.5 L1385.5 1094.4 L1386.6 1095.4 L1387.8 1096.5 L1388.9 1097.5 L1390 1098.6 L1391.1 1099.7 L1392.2 1100.8 L1393.4 1101.9 L1394.5 1103.1 L1395.6 1104.3 L1396.8 1105.5 L1397.9 1106.7 L1399 1108 L1400.1 1109.2 L1401.2 1110.5 L1402.4 1111.8 L1403.5 1113.1 L1404.6 1114.5 L1405.8 1115.8 L1406.9 1117.2 L1408 1118.5 L1409.1 1119.9 L1410.2 1121.3 L1411.4 1122.7 L1412.5 1124.1 L1413.6 1125.6 L1414.8 1127 L1415.9 1128.4 L1417 1129.9 L1418.1 1131.3 L1419.2 1132.8 L1420.4 1134.3 L1421.5 1135.7 L1422.6 1137.2 L1423.8 1138.7 L1424.9 1140.2 L1426 1141.6 L1427.1 1143.1 L1428.2 1144.6 L1429.4 1146.1 L1430.5 1147.5 L1431.6 1149 L1432.8 1150.5 L1433.9 1152 L1435 1153.4 L1436.1 1154.9 L1437.2 1156.3 L1438.4 1157.8 L1439.5 1159.2 L1440.6 1160.6 L1441.8 1162.1 L1442.9 1163.5 L1444 1164.9 L1445.1 1166.3 L1446.2 1167.7 L1447.4 1169.1 L1448.5 1170.5 L1449.6 1171.8 L1450.8 1173.2 L1451.9 1174.5 L1453 1175.8 L1454.1 1177.2 L1455.2 1178.5 L1456.4 1179.8 L1457.5 1181 L1458.6 1182.3 L1459.8 1183.5 L1460.9 1184.8 L1462 1186 L1463.1 1187.2 L1464.2 1188.4 L1465.4 1189.6 L1466.5 1190.7 L1467.6 1191.9 L1468.8 1193 L1469.9 1194.1 L1471 1195.3 L1472.1 1196.3 L1473.2 1197.4 L1474.4 1198.5 L1475.5 1199.5 L1476.6 1200.5 L1477.8 1201.5 L1478.9 1202.5 L1480 1203.5 L1481.1 1204.4 L1482.2 1205.4 L1483.4 1206.3 L1484.5 1207.2 L1485.6 1208.1 L1486.8 1209 L1487.9 1209.8 L1489 1210.7 L1490.1 1211.5 L1491.2 1212.3 L1492.4 1213.1 L1493.5 1213.9 L1494.6 1214.7 L1495.8 1215.4 L1496.9 1216.1 L1498 1216.9 L1499.1 1217.6 L1500.2 1218.2 L1501.4 1218.9 L1502.5 1219.6 L1503.6 1220.2 L1504.8 1220.8 L1505.9 1221.4 L1507 1222 L1508.1 1222.6 L1509.2 1223.2 L1510.4 1223.8 L1511.5 1224.3 L1512.6 1224.8 L1513.8 1225.3 L1514.9 1225.8 L1516 1226.3 L1517.1 1226.8 L1518.2 1227.3 L1519.4 1227.7 L1520.5 1228.2 L1521.6 1228.6 L1522.8 1229 L1523.9 1229.4 L1525 1229.8 L1526.1 1230.2 L1527.2 1230.6 L1528.4 1230.9 L1529.5 1231.3 L1530.6 1231.6 L1531.8 1232 L1532.9 1232.3 L1534 1232.6 L1535.1 1232.9 L1536.2 1233.2 L1537.4 1233.5 L1538.5 1233.7 L1539.6 1234 L1540.8 1234.3 L1541.9 1234.5 L1543 1234.8 L1544.1 1235 L1545.2 1235.2 L1546.4 1235.5 L1547.5 1235.7 L1548.6 1235.9 L1549.8 1236.1 L1550.9 1236.3 L1552 1236.4 L1553.1 1236.6 L1554.2 1236.8 L1555.4 1237 L1556.5 1237.1 L1557.6 1237.3 L1558.8 1237.4 L1559.9 1237.6 L1561 1237.7 L1562.1 1237.9 L1563.2 1238 L1564.4 1238.1 L1565.5 1238.2 L1566.6 1238.4 L1567.8 1238.5 L1568.9 1238.6 L1570 1238.7 L1571.1 1238.8 L1572.2 1238.9 L1573.4 1239 L1574.5 1239.1 L1575.6 1239.1 L1576.8 1239.2 L1577.9 1239.3 L1579 1239.4 L1580.1 1239.4 L1581.2 1239.5 L1582.4 1239.6 L1583.5 1239.6 L1584.6 1239.7 L1585.8 1239.8 L1586.9 1239.8 L1588 1239.9 L1589.1 1239.9 L1590.2 1240 L1591.4 1240 L1592.5 1240.1 L1593.6 1240.1 L1594.8 1240.2 L1595.9 1240.2 L1597 1240.2 L1598.1 1240.3 L1599.2 1240.3 L1600.4 1240.3 L1601.5 1240.4 L1602.6 1240.4 L1603.8 1240.4 L1604.9 1240.5 L1606 1240.5 L1607.1 1240.5 L1608.2 1240.5 L1609.4 1240.6 L1610.5 1240.6 L1611.6 1240.6 L1612.8 1240.6 L1613.9 1240.6 L1615 1240.7 L1616.1 1240.7 L1617.2 1240.7 L1618.4 1240.7 L1619.5 1240.7 L1620.6 1240.7 L1621.8 1240.8 L1622.9 1240.8 L1624 1240.8 L1625.1 1240.8 L1626.2 1240.8 L1627.4 1240.8 L1628.5 1240.8 L1629.6 1240.8 L1630.8 1240.8 L1631.9 1240.9 L1633 1240.9 L1634.1 1240.9 L1635.2 1240.9 L1636.4 1240.9 L1637.5 1240.9 L1638.6 1240.9 L1639.8 1240.9 L1640.9 1240.9 L1642 1240.9 L1643.1 1240.9 L1644.2 1240.9 L1645.4 1240.9 L1646.5 1240.9 L1647.6 1240.9 L1648.8 1240.9 L1649.9 1240.9 L1651 1240.9 L1652.1 1240.9 L1653.2 1241 L1654.4 1241 L1655.5 1241 L1656.6 1241 L1657.8 1241 L1658.9 1241 L1660 1241 L1661.1 1241 L1662.2 1241 L1663.4 1241 L1664.5 1241 L1665.6 1241 L1666.8 1241 L1667.9 1241 L1669 1241 L1670.1 1241 L1671.2 1241 L1672.4 1241 L1673.5 1241 L1674.6 1241 L1675.8 1241 L1676.9 1241 L1678 1241 L1679.1 1241 L1680.2 1241 L1681.4 1241 L1682.5 1241 L1683.6 1241 L1684.8 1241 L1685.9 1241 L1687 1241 L1688.1 1241 L1689.2 1241 L1690.4 1241 L1691.5 1241 L1692.6 1241 L1693.8 1241 L1694.9 1241 L1696 1241 L1697.1 1241 L1698.2 1241 L1699.4 1241 L1700.5 1241" fill="none" stroke="#0000ff" stroke-width="3.4" stroke-linejoin="round" stroke-linecap="round" />
<path d="M913 1239 L914.1 1239 L915.2 1239 L916.4 1239 L917.5 1238.9 L918.6 1238.9 L919.8 1238.9 L920.9 1238.9 L922 1238.9 L923.1 1238.9 L924.2 1238.8 L925.4 1238.8 L926.5 1238.8 L927.6 1238.8 L928.8 1238.8 L929.9 1238.8 L931 1238.7 L932.1 1238.7 L933.2 1238.7 L934.4 1238.7 L935.5 1238.7 L936.6 1238.7 L937.8 1238.6 L938.9 1238.6 L940 1238.6 L941.1 1238.6 L942.2 1238.6 L943.4 1238.6 L944.5 1238.5 L945.6 1238.5 L946.8 1238.5 L947.9 1238.5 L949 1238.5 L950.1 1238.5 L951.2 1238.4 L952.4 1238.4 L953.5 1238.4 L954.6 1238.4 L955.8 1238.4 L956.9 1238.4 L958 1238.4 L959.1 1238.3 L960.2 1238.3 L961.4 1238.3 L962.5 1238.3 L963.6 1238.3 L964.8 1238.3 L965.9 1238.2 L967 1238.2 L968.1 1238.2 L969.2 1238.2 L970.4 1238.2 L971.5 1238.2 L972.6 1238.1 L973.8 1238.1 L974.9 1238.1 L976 1238.1 L977.1 1238.1 L978.2 1238.1 L979.4 1238 L980.5 1238 L981.6 1238 L982.8 1238 L983.9 1238 L985 1238 L986.1 1237.9 L987.2 1237.9 L988.4 1237.9 L989.5 1237.9 L990.6 1237.9 L991.8 1237.9 L992.9 1237.8 L994 1237.8 L995.1 1237.8 L996.2 1237.8 L997.4 1237.8 L998.5 1237.8 L999.6 1237.7 L1000.8 1237.7 L1001.9 1237.7 L1003 1237.7 L1004.1 1237.7 L1005.2 1237.7 L1006.4 1237.6 L1007.5 1237.6 L1008.6 1237.6 L1009.8 1237.6 L1010.9 1237.6 L1012 1237.6 L1013.1 1237.5 L1014.2 1237.5 L1015.4 1237.5 L1016.5 1237.5 L1017.6 1237.5 L1018.8 1237.5 L1019.9 1237.4 L1021 1237.4 L1022.1 1237.4 L1023.2 1237.4 L1024.4 1237.4 L1025.5 1237.4 L1026.6 1237.3 L1027.8 1237.3 L1028.9 1237.3 L1030 1237.3 L1031.1 1237.3 L1032.2 1237.3 L1033.4 1237.2 L1034.5 1237.2 L1035.6 1237.2 L1036.8 1237.2 L1037.9 1237.2 L1039 1237.2 L1040.1 1237.1 L1041.2 1237.1 L1042.4 1237.1 L1043.5 1237.1 L1044.6 1237.1 L1045.8 1237 L1046.9 1237 L1048 1237 L1049.1 1237 L1050.2 1237 L1051.4 1237 L1052.5 1236.9 L1053.6 1236.9 L1054.8 1236.9 L1055.9 1236.9 L1057 1236.9 L1058.1 1236.8 L1059.2 1236.8 L1060.4 1236.8 L1061.5 1236.8 L1062.6 1236.7 L1063.8 1236.7 L1064.9 1236.7 L1066 1236.7 L1067.1 1236.7 L1068.2 1236.6 L1069.4 1236.6 L1070.5 1236.6 L1071.6 1236.6 L1072.8 1236.5 L1073.9 1236.5 L1075 1236.5 L1076.1 1236.5 L1077.2 1236.4 L1078.4 1236.4 L1079.5 1236.4 L1080.6 1236.4 L1081.8 1236.3 L1082.9 1236.3 L1084 1236.3 L1085.1 1236.2 L1086.2 1236.2 L1087.4 1236.2 L1088.5 1236.1 L1089.6 1236.1 L1090.8 1236.1 L1091.9 1236 L1093 1236 L1094.1 1236 L1095.2 1235.9 L1096.4 1235.9 L1097.5 1235.8 L1098.6 1235.8 L1099.8 1235.8 L1100.9 1235.7 L1102 1235.7 L1103.1 1235.6 L1104.2 1235.6 L1105.4 1235.5 L1106.5 1235.5 L1107.6 1235.4 L1108.8 1235.4 L1109.9 1235.3 L1111 1235.3 L1112.1 1235.2 L1113.2 1235.2 L1114.4 1235.1 L1115.5 1235.1 L1116.6 1235 L1117.8 1234.9 L1118.9 1234.9 L1120 1234.8 L1121.1 1234.7 L1122.2 1234.6 L1123.4 1234.5 L1124.5 1234.5 L1125.6 1234.4 L1126.8 1234.3 L1127.9 1234.2 L1129 1234.1 L1130.1 1234 L1131.2 1233.9 L1132.4 1233.8 L1133.5 1233.7 L1134.6 1233.6 L1135.8 1233.5 L1136.9 1233.3 L1138 1233.2 L1139.1 1233.1 L1140.2 1232.9 L1141.4 1232.8 L1142.5 1232.6 L1143.6 1232.5 L1144.8 1232.3 L1145.9 1232.2 L1147 1232 L1148.1 1231.8 L1149.2 1231.6 L1150.4 1231.4 L1151.5 1231.2 L1152.6 1231 L1153.8 1230.8 L1154.9 1230.6 L1156 1230.3 L1157.1 1230.1 L1158.2 1229.8 L1159.4 1229.6 L1160.5 1229.3 L1161.6 1229 L1162.8 1228.7 L1163.9 1228.4 L1165 1228 L1166.1 1227.7 L1167.2 1227.3 L1168.4 1226.9 L1169.5 1226.5 L1170.6 1226 L1171.8 1225.6 L1172.9 1225.1 L1174 1224.6 L1175.1 1224 L1176.2 1223.4 L1177.4 1222.8 L1178.5 1222.2 L1179.6 1221.5 L1180.8 1220.8 L1181.9 1220 L1183 1219.2 L1184.1 1218.3 L1185.2 1217.4 L1186.4 1216.4 L1187.5 1215.3 L1188.6 1214.2 L1189.8 1213 L1190.9 1211.8 L1192 1210.5 L1193.1 1209 L1194.2 1207.5 L1195.4 1206 L1196.5 1204.3 L1197.6 1202.5 L1198.8 1200.6 L1199.9 1198.6 L1201 1196.5 L1202.1 1194.3 L1203.2 1191.9 L1204.4 1189.5 L1205.5 1186.9 L1206.6 1184.1 L1207.8 1181.3 L1208.9 1178.3 L1210 1175.1 L1211.1 1171.9 L1212.2 1168.4 L1213.4 1164.9 L1214.5 1161.1 L1215.6 1157.3 L1216.8 1153.3 L1217.9 1149.1 L1219 1144.8 L1220.1 1140.4 L1221.2 1135.8 L1222.4 1131.1 L1223.5 1126.3 L1224.6 1121.3 L1225.8 1116.3 L1226.9 1111.1 L1228 1105.8 L1229.1 1100.4 L1230.2 1094.9 L1231.4 1089.4 L1232.5 1083.8 L1233.6 1078.1 L1234.8 1072.4 L1235.9 1066.6 L1237 1060.8 L1238.1 1055 L1239.2 1049.2 L1240.4 1043.4 L1241.5 1037.6 L1242.6 1031.8 L1243.8 1026.1 L1244.9 1020.4 L1246 1014.8 L1247.1 1009.2 L1248.2 1003.8 L1249.4 998.4 L1250.5 993.1 L1251.6 987.9 L1252.8 982.8 L1253.9 977.9 L1255 973 L1256.1 968.3 L1257.2 963.7 L1258.4 959.2 L1259.5 954.9 L1260.6 950.6 L1261.8 946.5 L1262.9 942.6 L1264 938.7 L1265.1 935 L1266.2 931.3 L1267.4 927.8 L1268.5 924.4 L1269.6 921 L1270.8 917.7 L1271.9 914.5 L1273 911.4 L1274.1 908.3 L1275.2 905.3 L1276.4 902.3 L1277.5 899.3 L1278.6 896.4 L1279.8 893.4 L1280.9 890.4 L1282 887.5 L1283.1 884.5 L1284.2 881.4 L1285.4 878.4 L1286.5 875.3 L1287.6 872.1 L1288.8 868.9 L1289.9 865.6 L1291 862.3 L1292.1 858.9 L1293.2 855.5 L1294.4 851.9 L1295.5 848.3 L1296.6 844.7 L1297.8 841 L1298.9 837.2 L1300 833.4 L1301.1 829.6 L1302.2 825.7 L1303.4 821.7 L1304.5 817.8 L1305.6 813.8 L1306.8 809.8 L1307.9 805.9 L1309 801.9 L1310.1 798 L1311.2 794.1 L1312.4 790.3 L1313.5 786.5 L1314.6 782.8 L1315.8 779.2 L1316.9 775.7 L1318 772.3 L1319.1 769 L1320.2 765.9 L1321.4 762.9 L1322.5 760.1 L1323.6 757.4 L1324.8 754.9 L1325.9 752.7 L1327 750.6 L1328.1 748.7 L1329.2 747.1 L1330.4 745.6 L1331.5 744.5 L1332.6 743.5 L1333.8 742.8 L1334.9 742.4 L1336 742.2 L1337.1 742.2 L1338.2 742.6 L1339.4 743.1 L1340.5 744 L1341.6 745.1 L1342.8 746.5 L1343.9 748.1 L1345 750 L1346.1 752.2 L1347.2 754.6 L1348.4 757.2 L1349.5 760.1 L1350.6 763.2 L1351.8 766.6 L1352.9 770.2 L1354 774 L1355.1 778 L1356.2 782.2 L1357.4 786.7 L1358.5 791.3 L1359.6 796 L1360.8 801 L1361.9 806.1 L1363 811.3 L1364.1 816.7 L1365.2 822.2 L1366.4 827.9 L1367.5 833.6 L1368.6 839.4 L1369.8 845.4 L1370.9 851.4 L1372 857.4 L1373.1 863.6 L1374.2 869.7 L1375.4 875.9 L1376.5 882.2 L1377.6 888.4 L1378.8 894.7 L1379.9 901 L1381 907.2 L1382.1 913.5 L1383.2 919.7 L1384.4 925.9 L1385.5 932.1 L1386.6 938.2 L1387.8 944.3 L1388.9 950.3 L1390 956.2 L1391.1 962.1 L1392.2 967.9 L1393.4 973.7 L1394.5 979.3 L1395.6 984.9 L1396.8 990.4 L1397.9 995.8 L1399 1001.1 L1400.1 1006.3 L1401.2 1011.4 L1402.4 1016.4 L1403.5 1021.4 L1404.6 1026.2 L1405.8 1030.9 L1406.9 1035.5 L1408 1040 L1409.1 1044.4 L1410.2 1048.8 L1411.4 1053 L1412.5 1057.1 L1413.6 1061.1 L1414.8 1065 L1415.9 1068.8 L1417 1072.5 L1418.1 1076.2 L1419.2 1079.7 L1420.4 1083.1 L1421.5 1086.5 L1422.6 1089.8 L1423.8 1092.9 L1424.9 1096 L1426 1099.1 L1427.1 1102 L1428.2 1104.8 L1429.4 1107.6 L1430.5 1110.3 L1431.6 1113 L1432.8 1115.5 L1433.9 1118 L1435 1120.5 L1436.1 1122.9 L1437.2 1125.2 L1438.4 1127.4 L1439.5 1129.6 L1440.6 1131.8 L1441.8 1133.9 L1442.9 1135.9 L1444 1137.9 L1445.1 1139.8 L1446.2 1141.7 L1447.4 1143.6 L1448.5 1145.4 L1449.6 1147.2 L1450.8 1148.9 L1451.9 1150.6 L1453 1152.2 L1454.1 1153.8 L1455.2 1155.4 L1456.4 1156.9 L1457.5 1158.4 L1458.6 1159.9 L1459.8 1161.4 L1460.9 1162.8 L1462 1164.2 L1463.1 1165.5 L1464.2 1166.9 L1465.4 1168.2 L1466.5 1169.4 L1467.6 1170.7 L1468.8 1171.9 L1469.9 1173.1 L1471 1174.3 L1472.1 1175.4 L1473.2 1176.6 L1474.4 1177.7 L1475.5 1178.8 L1476.6 1179.8 L1477.8 1180.9 L1478.9 1181.9 L1480 1182.9 L1481.1 1183.9 L1482.2 1184.8 L1483.4 1185.8 L1484.5 1186.7 L1485.6 1187.6 L1486.8 1188.5 L1487.9 1189.3 L1489 1190.2 L1490.1 1191 L1491.2 1191.8 L1492.4 1192.6 L1493.5 1193.4 L1494.6 1194.1 L1495.8 1194.9 L1496.9 1195.6 L1498 1196.3 L1499.1 1197 L1500.2 1197.7 L1501.4 1198.4 L1502.5 1199 L1503.6 1199.6 L1504.8 1200.2 L1505.9 1200.8 L1507 1201.4 L1508.1 1202 L1509.2 1202.6 L1510.4 1203.1 L1511.5 1203.6 L1512.6 1204.2 L1513.8 1204.7 L1514.9 1205.1 L1516 1205.6 L1517.1 1206.1 L1518.2 1206.5 L1519.4 1207 L1520.5 1207.4 L1521.6 1207.8 L1522.8 1208.2 L1523.9 1208.6 L1525 1209 L1526.1 1209.4 L1527.2 1209.7 L1528.4 1210.1 L1529.5 1210.4 L1530.6 1210.8 L1531.8 1211.1 L1532.9 1211.4 L1534 1211.7 L1535.1 1212 L1536.2 1212.3 L1537.4 1212.5 L1538.5 1212.8 L1539.6 1213 L1540.8 1213.3 L1541.9 1213.5 L1543 1213.7 L1544.1 1213.9 L1545.2 1214.1 L1546.4 1214.3 L1547.5 1214.5 L1548.6 1214.6 L1549.8 1214.8 L1550.9 1215 L1552 1215.1 L1553.1 1215.3 L1554.2 1215.4 L1555.4 1215.6 L1556.5 1215.7 L1557.6 1215.8 L1558.8 1215.9 L1559.9 1216 L1561 1216.1 L1562.1 1216.2 L1563.2 1216.3 L1564.4 1216.4 L1565.5 1216.5 L1566.6 1216.6 L1567.8 1216.7 L1568.9 1216.8 L1570 1216.8 L1571.1 1216.9 L1572.2 1217 L1573.4 1217 L1574.5 1217.1 L1575.6 1217.1 L1576.8 1217.2 L1577.9 1217.2 L1579 1217.3 L1580.1 1217.3 L1581.2 1217.4 L1582.4 1217.4 L1583.5 1217.4 L1584.6 1217.5 L1585.8 1217.5 L1586.9 1217.5 L1588 1217.5 L1589.1 1217.5 L1590.2 1217.6 L1591.4 1217.6 L1592.5 1217.6 L1593.6 1217.6 L1594.8 1217.6 L1595.9 1217.6 L1597 1217.6 L1598.1 1217.6 L1599.2 1217.6 L1600.4 1217.6 L1601.5 1217.6 L1602.6 1217.6 L1603.8 1217.6 L1604.9 1217.5 L1606 1217.5 L1607.1 1217.5 L1608.2 1217.5 L1609.4 1217.4 L1610.5 1217.4 L1611.6 1217.4 L1612.8 1217.3 L1613.9 1217.3 L1615 1217.3 L1616.1 1217.2 L1617.2 1217.2 L1618.4 1217.2 L1619.5 1217.1 L1620.6 1217.1 L1621.8 1217 L1622.9 1217 L1624 1217 L1625.1 1216.9 L1626.2 1216.9 L1627.4 1216.8 L1628.5 1216.8 L1629.6 1216.7 L1630.8 1216.7 L1631.9 1216.7 L1633 1216.6 L1634.1 1216.6 L1635.2 1216.5 L1636.4 1216.5 L1637.5 1216.4 L1638.6 1216.4 L1639.8 1216.3 L1640.9 1216.3 L1642 1216.2 L1643.1 1216.2 L1644.2 1216.2 L1645.4 1216.1 L1646.5 1216.1 L1647.6 1216 L1648.8 1216 L1649.9 1215.9 L1651 1215.9 L1652.1 1215.8 L1653.2 1215.8 L1654.4 1215.7 L1655.5 1215.7 L1656.6 1215.6 L1657.8 1215.6 L1658.9 1215.5 L1660 1215.5 L1661.1 1215.4 L1662.2 1215.4 L1663.4 1215.3 L1664.5 1215.3 L1665.6 1215.2 L1666.8 1215.2 L1667.9 1215.1 L1669 1215.1 L1670.1 1215 L1671.2 1214.9 L1672.4 1214.9 L1673.5 1214.8 L1674.6 1214.8 L1675.8 1214.7 L1676.9 1214.7 L1678 1214.6 L1679.1 1214.6 L1680.2 1214.5 L1681.4 1214.5 L1682.5 1214.4 L1683.6 1214.4 L1684.8 1214.3 L1685.9 1214.3 L1687 1214.2 L1688.1 1214.2 L1689.2 1214.1 L1690.4 1214.1 L1691.5 1214 L1692.6 1214 L1693.8 1213.9 L1694.9 1213.9 L1696 1213.8 L1697.1 1213.8 L1698.2 1213.7 L1699.4 1213.6 L1700.5 1213.6" fill="none" stroke="#007a00" stroke-width="3.4" stroke-linejoin="round" stroke-linecap="round" />
<rect x="913" y="687.7" width="787.5" height="597.5" fill="none" stroke="#000" stroke-width="4.1"/>
<line x1="913" y1="1285.2" x2="913" y2="1296.7" stroke="#000" stroke-width="4.2" stroke-linecap="round"/>
<text x="894.6" y="1322.0" font-size="21.80" font-weight="bold" >524</text>
<line x1="1011.4" y1="1285.2" x2="1011.4" y2="1296.7" stroke="#000" stroke-width="4.2" stroke-linecap="round"/>
<text x="993.3" y="1322.0" font-size="21.80" font-weight="bold" >526</text>
<line x1="1109.9" y1="1285.2" x2="1109.9" y2="1296.7" stroke="#000" stroke-width="4.2" stroke-linecap="round"/>
<text x="1091.7" y="1322.0" font-size="21.80" font-weight="bold" >528</text>
<line x1="1208.3" y1="1285.2" x2="1208.3" y2="1296.7" stroke="#000" stroke-width="4.2" stroke-linecap="round"/>
<text x="1190.2" y="1322.0" font-size="21.80" font-weight="bold" >530</text>
<line x1="1306.8" y1="1285.2" x2="1306.8" y2="1296.7" stroke="#000" stroke-width="4.2" stroke-linecap="round"/>
<text x="1288.7" y="1322.0" font-size="21.80" font-weight="bold" >532</text>
<line x1="1405.2" y1="1285.2" x2="1405.2" y2="1296.7" stroke="#000" stroke-width="4.2" stroke-linecap="round"/>
<text x="1386.7" y="1322.0" font-size="21.80" font-weight="bold" >534</text>
<line x1="1503.6" y1="1285.2" x2="1503.6" y2="1296.7" stroke="#000" stroke-width="4.2" stroke-linecap="round"/>
<text x="1485.5" y="1322.0" font-size="21.80" font-weight="bold" >536</text>
<line x1="1602.1" y1="1285.2" x2="1602.1" y2="1296.7" stroke="#000" stroke-width="4.2" stroke-linecap="round"/>
<text x="1583.9" y="1322.0" font-size="21.80" font-weight="bold" >538</text>
<line x1="1700.5" y1="1285.2" x2="1700.5" y2="1296.7" stroke="#000" stroke-width="4.2" stroke-linecap="round"/>
<text x="1682.4" y="1322.0" font-size="21.80" font-weight="bold" >540</text>
<text x="1190.9" y="1353.7" font-size="27.26" font-weight="bold" >Binding energy (eV)</text>
<text transform="translate(880.0,1097.9) rotate(-90)" font-size="28.37" font-weight="bold">Intensity (a.u)</text>
<text x="940.3" y="732.9" font-size="27.31" font-weight="bold" >O1 s</text>
<text x="1641.3" y="741.2" font-size="41.50" font-weight="bold" >c</text>
<text x="1412.7" y="925.8" font-size="26.87" font-weight="bold" >532.5</text>
<line x1="1408" y1="916" x2="1358.5" y2="916" stroke="#ff8c1a" stroke-width="4.2" stroke-linecap="round"/>
<path d="M1337 914.7 L1360.5 909.2 L1360.5 922.8 L1337 917.3 Z" fill="#ff8c1a"/>
<text x="1111.3" y="1097.4" font-size="27.02" font-weight="bold" >531.02</text>
<line x1="1199" y1="1090" x2="1239.5" y2="1090" stroke="#ff8c1a" stroke-width="2.6" stroke-linecap="round"/>
<path d="M1253.5 1090.9 L1237.5 1095 L1237.5 1085 L1253.5 1089.1 Z" fill="#ff8c1a"/>
<text x="1453.2" y="1090.6" font-size="26.83" font-weight="bold" >533</text>
<line x1="1450" y1="1079.8" x2="1385.9" y2="1079.8" stroke="#ff8c1a" stroke-width="4.2" stroke-linecap="round"/>
<path d="M1364.4 1078.5 L1387.9 1073 L1387.9 1086.5 L1364.4 1081.1 Z" fill="#ff8c1a"/>
<path d="M58.1 1796.3 C58.5 1798.7 58.5 1801.7 59.5 1805.3 C60.5 1808.9 60.4 1811.6 61.8 1809.8 C63.1 1808 63.1 1800.3 64.5 1798.5 C65.8 1796.7 65.6 1800 66.7 1803 C67.8 1806 67.4 1808.6 68.5 1809.8 C69.6 1811 69.6 1812.9 70.8 1807.5 C72 1802.1 72 1791.9 73 1789.5 C74.1 1787.1 73.9 1788.3 74.8 1798.5 C75.7 1808.7 75.4 1819.4 76.4 1827.8 C77.4 1836.2 77.5 1831.3 78.7 1830.1 C79.9 1828.9 79.7 1822.7 80.9 1823.3 C82.1 1823.9 81.8 1826.9 83.2 1832.3 C84.6 1837.7 84.6 1849 86.1 1843.6 C87.6 1838.2 87.5 1824.1 88.8 1812 C90.1 1800 89.8 1800.3 91.1 1798.5 C92.4 1796.7 92.3 1799.9 93.8 1805.3 C95.3 1810.7 95.3 1818.2 96.7 1818.8 C98.1 1819.4 97.9 1813.5 99 1807.5 C100.1 1801.5 99.8 1796.3 100.8 1796.3 C101.8 1796.3 101.8 1806.3 102.8 1807.5 C103.8 1808.7 103.6 1797.8 104.6 1800.8 C105.6 1803.8 105.3 1816.4 106.4 1818.8 C107.5 1821.2 107.5 1809.8 108.7 1809.8 C109.9 1809.8 109.7 1814.6 110.9 1818.8 C112.1 1823 112 1824.4 113.2 1825.6 C114.4 1826.8 114.1 1829.9 115.4 1823.3 C116.8 1816.7 116.7 1809.8 118.1 1800.8 C119.6 1791.7 119.5 1794.3 120.8 1789.5 C122.2 1784.7 122 1782.1 123.1 1782.7 C124.2 1783.3 123.9 1788.1 124.9 1791.7 C125.9 1795.4 125.8 1796.3 126.7 1796.3 C127.6 1796.3 127.3 1787.5 128.3 1791.7 C129.3 1796 129.2 1799.4 130.5 1812 C131.9 1824.7 132.1 1836.1 133.5 1839.1 C134.8 1842.1 134.5 1833.5 135.7 1823.3 C136.9 1813.1 136.7 1807.4 138 1800.8 C139.3 1794.2 139.1 1800.9 140.7 1798.5 C142.3 1796.1 142.6 1792.3 144.1 1791.7 C145.6 1791.1 145.4 1796.9 146.3 1796.3 C147.2 1795.7 146.7 1798.5 147.4 1789.5 C148.2 1780.5 148.2 1777.5 149.3 1762.4 C150.3 1747.4 150.4 1746.4 151.5 1733.1 C152.6 1719.9 152.5 1720.6 153.5 1712.8 C154.6 1705 154.6 1713.4 155.3 1703.8 C156.1 1694.2 155.7 1693 156.5 1676.8 C157.2 1660.5 157.3 1661 158.3 1642.9 C159.2 1624.9 159.1 1627.1 160.1 1609.1 C161 1591.1 160.9 1591.5 161.9 1575.3 C162.8 1559.1 162.7 1561.5 163.7 1548.2 C164.6 1535 164.6 1536.5 165.5 1525.7 C166.4 1514.9 166.2 1514.9 167.1 1507.6 C168 1500.4 168 1504.6 168.9 1498.6 C169.8 1492.6 169.5 1492.3 170.4 1485.1 C171.3 1477.9 171.2 1472.8 172.2 1471.6 C173.3 1470.4 173.5 1477 174.5 1480.6 C175.5 1484.2 175.2 1479.7 176.1 1485.1 C177 1490.5 176.8 1496.1 177.9 1500.9 C179 1505.7 178.9 1499.5 180.1 1503.1 C181.3 1506.7 181.4 1504.2 182.4 1514.4 C183.4 1524.6 183.2 1527.6 184 1541.5 C184.8 1555.3 184.2 1556.6 185.3 1566.3 C186.4 1575.9 186.7 1572.7 188 1577.5 C189.4 1582.4 189.1 1577.7 190.3 1584.3 C191.5 1590.9 191.6 1594.5 192.5 1602.3 C193.4 1610.2 192.8 1612.1 193.7 1613.6 C194.6 1615.1 194.9 1609.2 195.9 1608 C196.9 1606.8 196.7 1599.8 197.5 1609.1 C198.3 1618.4 198.1 1635.1 198.9 1642.9 C199.6 1650.7 199.6 1641.4 200.4 1638.4 C201.3 1635.4 201.1 1631.7 202 1631.7 C202.9 1631.7 202.9 1639 203.8 1638.4 C204.8 1637.8 204.7 1627.6 205.6 1629.4 C206.6 1631.2 206.1 1640.4 207.4 1645.2 C208.7 1650 209.3 1642.6 210.6 1647.4 C211.9 1652.3 211.3 1652.4 212.4 1663.2 C213.5 1674 213.4 1677.2 214.6 1688 C215.8 1698.9 215.6 1698.4 216.9 1703.8 C218.2 1709.2 218.3 1705.9 219.6 1708.3 C220.9 1710.7 220.8 1703.8 221.9 1712.8 C222.9 1721.8 222.7 1733.7 223.7 1742.1 C224.6 1750.6 224.4 1745 225.5 1744.4 C226.5 1743.8 226.5 1738.7 227.5 1739.9 C228.5 1741.1 228.2 1745.3 229.1 1748.9 C230 1752.5 229.8 1751 230.9 1753.4 C232 1755.8 231.9 1754.3 233.1 1757.9 C234.3 1761.5 234.3 1757.9 235.4 1766.9 C236.5 1776 236 1784.2 237.2 1791.7 C238.4 1799.3 238.6 1789.7 239.9 1795.1 C241.2 1800.5 240.9 1800.3 242.1 1812 C243.4 1823.8 243.3 1830.7 244.4 1839.1 C245.5 1847.5 245 1847.8 246.2 1843.6 C247.4 1839.4 247.6 1831.7 248.9 1823.3 C250.2 1814.9 250 1816.9 251.2 1812 C252.4 1807.2 252.3 1807.5 253.4 1805.3 C254.6 1803.1 254.3 1803.2 255.5 1803.7 C256.6 1804.2 256.6 1804.1 257.8 1807.2 C259 1810.3 258.9 1813.2 260.1 1815.3 C261.4 1817.5 261.4 1818.4 262.4 1815.3 C263.5 1812.2 263.3 1809 264.2 1803.7 C265.1 1798.4 264.9 1794.3 265.7 1795.6 C266.5 1796.8 266.6 1800.6 267.3 1808.4 C268 1816.1 267.5 1817.2 268.3 1824.7 C269 1832.1 269.1 1831 270 1836.3 C270.9 1841.6 270.8 1846.3 271.7 1844.4 C272.7 1842.6 272.5 1834.9 273.5 1829.3 C274.5 1823.7 274.6 1822.9 275.5 1823.5 C276.3 1824.1 275.9 1832.6 276.6 1831.6 C277.3 1830.7 277.3 1819.7 278.1 1820 C278.9 1820.3 278.8 1830.3 279.7 1832.8 C280.5 1835.3 280.3 1829.6 281.3 1829.3 C282.3 1829 282.5 1827.6 283.4 1831.6 C284.2 1835.7 283.8 1842.6 284.5 1844.4 C285.3 1846.3 285.2 1838.9 286.3 1838.6 C287.4 1838.3 287.4 1844.5 288.6 1843.3 C289.8 1842 289.5 1838.3 290.9 1834 C292.3 1829.6 292.3 1829 293.8 1827 C295.4 1825 295.5 1825.2 296.7 1826.4 C298 1827.6 297.6 1828.5 298.5 1831.6 C299.4 1834.7 299.1 1836.8 300.2 1838 C301.3 1839.3 301.3 1838.6 302.6 1836.3 C303.8 1834 303.5 1829.6 304.9 1829.3 C306.3 1829 306.6 1827.7 307.8 1835.1 C309 1842.6 308.7 1850.1 309.5 1857.2 C310.4 1864.3 310.1 1862.5 311 1861.9 C312 1861.2 312 1860.5 313 1854.9 C314 1849.3 313.5 1846.8 314.8 1840.9 C316 1835 316.3 1835.3 317.7 1832.8 C319.1 1830.3 318.9 1835.3 320 1831.6 C321.1 1827.9 320.8 1824.1 321.7 1818.8 C322.7 1813.6 322.6 1810.3 323.5 1811.9 C324.4 1813.4 324.3 1816.6 325.2 1824.7 C326.2 1832.7 326.1 1836.2 327 1842.1 C327.8 1848 327.6 1850.2 328.5 1846.7 C329.4 1843.3 329.5 1836.7 330.5 1829.3 C331.4 1821.9 331 1822.2 332 1818.8 C332.9 1815.4 332.7 1819 334 1816.5 C335.3 1814 335.3 1813.1 336.9 1809.5 C338.4 1806 338.5 1799.1 339.8 1803.1 C341 1807.2 340.4 1817.4 341.5 1824.7 C342.6 1831.9 342.6 1824.9 343.8 1830.5 C345.1 1836 345.1 1839.8 346.2 1845.6 C347.2 1851.3 347 1852.9 347.9 1852 C348.8 1851 348.7 1852.5 349.7 1842.1 C350.6 1831.7 350.4 1824.2 351.4 1813 C352.4 1801.9 352.3 1799.6 353.4 1800.2 C354.5 1800.9 354.4 1802.6 355.5 1815.3 C356.5 1828.1 356.2 1831.2 357.2 1847.9 C358.2 1864.7 358.1 1872.6 359.2 1878.1 C360.3 1883.7 360.3 1881.2 361.3 1868.8 C362.3 1856.4 361.9 1852.7 363 1831.6 C364.1 1810.5 364.3 1801.6 365.3 1789.8 C366.4 1778 365.9 1788.7 367.1 1787.4 C368.2 1786.2 368.4 1777.7 369.7 1785.1 C370.9 1792.6 369.9 1805.4 371.7 1815.3 C373.5 1825.3 374.5 1825.4 376.4 1822.3 C378.3 1819.2 377.5 1809.3 378.7 1803.7 C380 1798.1 380 1801.7 381 1801.4 C382.1 1801.1 381.9 1797.9 382.8 1802.6 C383.7 1807.2 383.4 1811.1 384.5 1818.8 C385.6 1826.6 385.6 1829.5 386.9 1831.6 C388.1 1833.8 388.1 1829.3 389.2 1827 C390.3 1824.7 390 1821.4 390.9 1822.9 C391.9 1824.5 391.7 1828.6 392.7 1832.8 C393.6 1837 393.3 1837.7 394.4 1838.6 C395.5 1839.5 395.3 1846.2 396.7 1836.3 C398.1 1826.4 398.1 1813.2 399.7 1801.4 C401.2 1789.6 401.2 1789 402.6 1792.1 C404 1795.2 403.8 1800.6 404.9 1813 C406 1825.4 405.5 1832.4 406.6 1838.6 C407.7 1844.8 407.7 1839.4 409 1836.3 C410.2 1833.2 410.3 1831.3 411.3 1827 C412.2 1822.6 411.4 1821.2 412.4 1820 C413.5 1818.8 413.8 1818.9 415.3 1822.3 C416.9 1825.7 416.6 1835.3 418.3 1832.8 C420 1830.3 420 1821.7 421.7 1813 C423.4 1804.3 423.3 1800.2 424.7 1800.2 C426 1800.2 425.6 1805.9 427 1813 C428.4 1820.2 428.6 1825.1 429.9 1827 C431.1 1828.8 430.7 1829.9 431.6 1820 C432.6 1810.1 432.5 1800.3 433.4 1789.8 C434.2 1779.2 434 1780.2 434.9 1780.5 C435.8 1780.8 435.7 1780.1 436.9 1790.9 C438.1 1801.8 437.9 1812.8 439.4 1821.2 C441 1829.5 441.1 1823.3 442.7 1822.3 C444.2 1821.3 444.1 1821.1 445.1 1817.5 C446.2 1813.8 445.6 1807.1 446.6 1808.7 C447.6 1810.2 447.6 1817.9 448.8 1823.4 C450 1828.9 449.8 1827.7 451 1829.2 C452.3 1830.8 452.3 1832.8 453.5 1829.2 C454.7 1825.7 454.3 1819.9 455.4 1816 C456.5 1812.1 456.5 1823.2 457.6 1814.5 C458.8 1805.9 458.7 1794.7 459.8 1783.7 C460.9 1772.7 460.8 1767.5 461.7 1773.4 C462.7 1779.3 462.5 1790.1 463.5 1805.7 C464.6 1821.4 464.5 1830.2 465.7 1832.2 C467 1834.1 467 1824.1 468.2 1813.1 C469.5 1802.1 469.3 1791.4 470.4 1791 C471.5 1790.6 471.3 1803.8 472.3 1811.6 C473.3 1819.4 472.9 1822.8 474.1 1820.4 C475.3 1818.1 475.3 1810.6 476.7 1802.8 C478.1 1795 478 1789.5 479.4 1791 C480.8 1792.6 480.6 1798.5 481.9 1808.7 C483.1 1818.9 483 1823 484.1 1829.2 C485.1 1835.5 484.7 1836.9 485.8 1832.2 C487 1827.5 486.8 1823.8 488.5 1811.6 C490.2 1799.5 490.4 1790.5 492.2 1786.6 C493.9 1782.7 493.5 1790.6 495.1 1796.9 C496.7 1803.2 496.5 1813.3 498 1810.1 C499.6 1807 499.6 1790.6 501 1785.2 C502.4 1779.7 502 1785.3 503.2 1789.6 C504.4 1793.9 504.2 1795.4 505.4 1801.3 C506.6 1807.2 506.3 1813.2 507.6 1811.6 C508.9 1810 509.1 1799.8 510.2 1795.4 C511.4 1791.1 510.8 1798.2 512 1795.4 C513.3 1792.7 513.1 1792.6 514.9 1785.2 C516.8 1777.7 516.9 1767.9 519.1 1767.5 C521.2 1767.1 521 1779 523 1783.7 C525.1 1788.4 524.9 1783.2 526.7 1785.2 C528.5 1787.1 528.1 1789.5 529.6 1791 C531.2 1792.6 531 1788.7 532.6 1791 C534.1 1793.4 534 1795.9 535.5 1799.9 C537 1803.8 536.8 1810 538.2 1805.7 C539.5 1801.4 539.2 1797.8 540.7 1783.7 C542.1 1769.6 542.3 1763.4 543.6 1752.8 C544.9 1742.2 544.3 1740.5 545.5 1744 C546.7 1747.5 546.8 1765.3 548 1766.1 C549.3 1766.8 549 1761.4 550.2 1747 C551.4 1732.5 550.8 1723.8 552.4 1711.7 C554 1699.5 554.5 1710.4 556.1 1701.4 C557.7 1692.4 557.1 1688.1 558.3 1677.9 C559.5 1667.7 559.2 1667.9 560.5 1663.2 C561.8 1658.5 561.8 1667.3 563.1 1660.2 C564.5 1653.2 564.2 1647.3 565.6 1636.7 C567.1 1626.2 567.2 1623.5 568.6 1620.6 C570 1617.6 569.6 1619.1 570.8 1625.7 C572 1632.4 571.7 1633.6 573 1645.6 C574.2 1657.5 574.1 1669.4 575.5 1670.5 C576.9 1671.7 576.8 1650.4 578.1 1650 C579.4 1649.6 579 1660.4 580.3 1669.1 C581.7 1677.7 581.7 1674.8 583.3 1682.3 C584.8 1689.7 584.8 1690.3 586.2 1697 C587.6 1703.6 587 1708.1 588.4 1707.3 C589.8 1706.5 589.9 1701.1 591.4 1694 C592.8 1687 592.6 1680.8 594 1680.8 C595.4 1680.8 595.2 1689 596.5 1694 C597.8 1699.1 597.5 1692.9 598.7 1699.9 C599.9 1707 599.7 1713.1 600.9 1720.5 C602.2 1727.9 602 1731.8 603.4 1727.8 C604.8 1723.9 604.6 1714.8 606.1 1705.8 C607.5 1696.8 607.6 1694 609 1694 C610.4 1694 610 1695.6 611.2 1705.8 C612.4 1716 612 1718.1 613.4 1732.3 C614.8 1746.4 614.9 1753.2 616.3 1758.7 C617.8 1764.2 617.4 1757.5 619 1752.8 C620.6 1748.1 620.7 1742.2 622.2 1741.1 C623.8 1739.9 623.7 1739.8 624.9 1748.4 C626 1757 625.6 1759.3 626.6 1773.4 C627.6 1787.5 627.4 1796.6 628.5 1801.3 C629.7 1806 629.8 1797.7 631 1791 C632.3 1784.4 632.1 1776.3 633.2 1776.3 C634.4 1776.3 634.3 1783.2 635.4 1791 C636.6 1798.9 636.5 1801.6 637.6 1805.7 C638.8 1809.9 638.7 1810.3 639.9 1806.6 C641.1 1803 640.8 1796.6 642.2 1792.1 C643.6 1787.6 643.7 1791.6 645.1 1789.8 C646.5 1787.9 646.4 1783.6 647.4 1785.1 C648.5 1786.7 648.1 1786.6 649.2 1795.6 C650.3 1804.6 650.3 1813.6 651.5 1818.8 C652.8 1824.1 652.6 1825.6 653.8 1815.3 C655.1 1805.1 655.1 1793.2 656.2 1780.5 C657.2 1767.8 656.9 1769.8 657.9 1767.7 C658.9 1765.5 658.9 1764 660 1772.3 C661.1 1780.7 660.8 1786.4 662 1799.1 C663.1 1811.8 663.1 1816.6 664.3 1820 C665.5 1823.4 665.5 1814.7 666.6 1811.9 C667.7 1809.1 667.4 1805.8 668.4 1809.5 C669.3 1813.3 668.9 1822.1 670.1 1825.8 C671.4 1829.5 671.6 1824.4 673 1823.5 C674.4 1822.6 674.3 1828.2 675.3 1822.3 C676.4 1816.4 676.2 1807.9 677.1 1801.4 C678 1794.9 677.8 1798.8 678.8 1797.9 C679.9 1797 679.9 1792.6 681.2 1797.9 C682.4 1803.2 681.9 1811.2 683.5 1817.7 C685 1824.2 685.3 1824.5 687 1822.3 C688.7 1820.2 688.5 1812.6 689.9 1809.5 C691.3 1806.4 691 1814.4 692.2 1810.7 C693.4 1807 693.1 1800.2 694.5 1795.6 C695.9 1790.9 696.2 1788.9 697.4 1793.3 C698.7 1797.6 698.2 1804.1 699.2 1811.9 C700.2 1819.6 700.1 1822 701.2 1822.3 C702.2 1822.6 702.1 1817.7 703.3 1813 C704.4 1808.4 704.3 1806.4 705.6 1804.9 C706.8 1803.3 706.7 1814.3 707.9 1807.2 C709.1 1800.1 709 1788.7 710.2 1778.1 C711.5 1767.6 711.5 1768.3 712.6 1767.7 C713.6 1767.1 713.1 1761.2 714.3 1775.8 C715.5 1790.4 715.6 1813.6 717 1822.3 C718.4 1831 718.2 1814 719.5 1808.4 C720.8 1802.8 720.6 1796.1 721.9 1801.4 C723.1 1806.7 722.9 1816.7 724.2 1828.1 C725.4 1839.6 725.3 1844.7 726.5 1844.4 C727.7 1844.1 727.5 1840.3 728.6 1827 C729.7 1813.6 729.4 1804 730.6 1794.4 C731.7 1784.8 731.5 1791.6 732.9 1790.9 C734.3 1790.3 734.6 1791.2 735.8 1792.1 C737.1 1793 736.5 1787.9 737.6 1794.4 C738.6 1800.9 738.8 1809.1 739.9 1816.5 C741 1824 740.5 1826.4 741.6 1822.3 C742.7 1818.3 742.7 1807.6 744 1801.4 C745.2 1795.2 745 1798.1 746.3 1799.1 C747.5 1800 747.3 1797.8 748.6 1804.9 C749.9 1812 749.8 1824.9 751.2 1825.8 C752.6 1826.7 752.5 1817.4 753.8 1808.4 C755.2 1799.4 755.1 1797.7 756.2 1792.1 C757.2 1786.5 757 1785.6 757.9 1787.4 C758.8 1789.3 758.4 1789.5 759.7 1799.1 C760.9 1808.7 761 1816.7 762.6 1823.5 C764.1 1830.3 764.1 1828.7 765.5 1824.7 C766.9 1820.6 766.4 1810.9 767.8 1808.4 C769.2 1805.9 769.3 1806.8 770.7 1815.3 C772.1 1823.9 771.8 1836.3 773 1840.3 C774.3 1844.4 774.1 1840.9 775.3 1830.5 C776.6 1820.1 776.3 1813.2 777.7 1801.4 C779.1 1789.6 779 1789.4 780.6 1786.3 C782.1 1783.2 782.1 1782.9 783.5 1789.8 C784.9 1796.6 784.7 1806 785.8 1811.9 C786.9 1817.8 786.3 1817.1 787.6 1811.9 C788.8 1806.6 789.1 1798 790.5 1792.1 C791.9 1786.2 791.6 1784.2 792.8 1789.8 C794 1795.3 793.9 1807.4 795.1 1813 C796.4 1818.6 796 1811.6 797.4 1810.7 C798.8 1809.8 798.6 1814.2 800.3 1809.5 C802.1 1804.9 802.3 1796.4 803.8 1793.3 C805.4 1790.2 804.9 1791.1 806.2 1797.9 C807.4 1804.7 807.4 1810.5 808.5 1818.8 C809.6 1827.2 809.1 1828.7 810.2 1829.3 C811.3 1829.9 811.2 1820.9 812.6 1821.2 C814 1821.5 814.2 1830.8 815.5 1830.5 C816.7 1830.2 816.1 1822.8 817.2 1820 C818.3 1817.2 818 1823.1 819.5 1820 C821.1 1816.9 821.2 1812.7 823 1808.4 C824.8 1804 825.4 1805 826.3 1803.7" fill="none" stroke="#800080" stroke-width="3.6" stroke-linejoin="round" stroke-linecap="round"/>
<rect x="56.6" y="1378.2" width="770.5" height="572" fill="none" stroke="#000" stroke-width="4.1"/>
<line x1="56.6" y1="1950.2" x2="56.6" y2="1961.7" stroke="#000" stroke-width="4.2" stroke-linecap="round"/>
<text x="32.0" y="1986.0" font-size="21.80" font-weight="bold" >1015</text>
<line x1="142.2" y1="1950.2" x2="142.2" y2="1961.7" stroke="#000" stroke-width="4.2" stroke-linecap="round"/>
<text x="117.7" y="1986.0" font-size="21.80" font-weight="bold" >1020</text>
<line x1="227.8" y1="1950.2" x2="227.8" y2="1961.7" stroke="#000" stroke-width="4.2" stroke-linecap="round"/>
<text x="203.2" y="1986.0" font-size="21.80" font-weight="bold" >1025</text>
<line x1="313.4" y1="1950.2" x2="313.4" y2="1961.7" stroke="#000" stroke-width="4.2" stroke-linecap="round"/>
<text x="289.0" y="1986.0" font-size="21.80" font-weight="bold" >1030</text>
<line x1="399" y1="1950.2" x2="399" y2="1961.7" stroke="#000" stroke-width="4.2" stroke-linecap="round"/>
<text x="374.4" y="1986.0" font-size="21.80" font-weight="bold" >1035</text>
<line x1="484.7" y1="1950.2" x2="484.7" y2="1961.7" stroke="#000" stroke-width="4.2" stroke-linecap="round"/>
<text x="460.2" y="1986.0" font-size="21.80" font-weight="bold" >1040</text>
<line x1="570.3" y1="1950.2" x2="570.3" y2="1961.7" stroke="#000" stroke-width="4.2" stroke-linecap="round"/>
<text x="545.7" y="1986.0" font-size="21.80" font-weight="bold" >1045</text>
<line x1="655.9" y1="1950.2" x2="655.9" y2="1961.7" stroke="#000" stroke-width="4.2" stroke-linecap="round"/>
<text x="631.4" y="1986.0" font-size="21.80" font-weight="bold" >1050</text>
<line x1="741.5" y1="1950.2" x2="741.5" y2="1961.7" stroke="#000" stroke-width="4.2" stroke-linecap="round"/>
<text x="716.9" y="1986.0" font-size="21.80" font-weight="bold" >1055</text>
<line x1="827.1" y1="1950.2" x2="827.1" y2="1961.7" stroke="#000" stroke-width="4.2" stroke-linecap="round"/>
<text x="802.6" y="1986.0" font-size="21.80" font-weight="bold" >1060</text>
<text x="328.4" y="2022.4" font-size="26.66" font-weight="bold" >Binding energy (eV)</text>
<text transform="translate(27.8,1761.2) rotate(-90)" font-size="27.09" font-weight="bold">Intensity (a.u)</text>
<text x="61.8" y="1409.7" font-size="27.09" font-weight="bold" >Zn 2p</text>
<text x="775.0" y="1431.0" font-size="42.40" font-weight="bold" >d</text>
<text x="138.7" y="1466.8" font-size="26.55" font-weight="bold" >1021.7</text>
<text x="527.2" y="1579.8" font-size="26.49" font-weight="bold" >1044.9</text>
<path d="M910.3 1877.9 L911.4 1877.9 L912.5 1877.9 L913.7 1877.9 L914.8 1877.9 L915.9 1877.9 L917 1877.9 L918.2 1877.9 L919.3 1877.9 L920.4 1877.9 L921.5 1877.9 L922.7 1877.9 L923.8 1877.9 L924.9 1877.9 L926 1877.9 L927.2 1877.9 L928.3 1877.9 L929.4 1877.9 L930.5 1877.9 L931.7 1877.9 L932.8 1877.9 L933.9 1877.9 L935 1877.9 L936.1 1877.9 L937.3 1877.9 L938.4 1877.9 L939.5 1877.9 L940.6 1877.8 L941.8 1877.8 L942.9 1877.8 L944 1877.8 L945.1 1877.8 L946.3 1877.8 L947.4 1877.8 L948.5 1877.8 L949.6 1877.7 L950.8 1877.7 L951.9 1877.7 L953 1877.7 L954.1 1877.6 L955.3 1877.6 L956.4 1877.6 L957.5 1877.5 L958.6 1877.5 L959.7 1877.4 L960.9 1877.4 L962 1877.3 L963.1 1877.2 L964.2 1877.2 L965.4 1877.1 L966.5 1877 L967.6 1876.9 L968.7 1876.7 L969.9 1876.6 L971 1876.4 L972.1 1876.3 L973.2 1876.1 L974.4 1875.9 L975.5 1875.7 L976.6 1875.4 L977.7 1875.2 L978.9 1874.9 L980 1874.6 L981.1 1874.2 L982.2 1873.9 L983.4 1873.4 L984.5 1873 L985.6 1872.5 L986.7 1872 L987.8 1871.4 L989 1870.8 L990.1 1870.1 L991.2 1869.4 L992.3 1868.6 L993.5 1867.8 L994.6 1866.9 L995.7 1865.9 L996.8 1864.9 L998 1863.7 L999.1 1862.5 L1000.2 1861.3 L1001.3 1859.9 L1002.5 1858.4 L1003.6 1856.9 L1004.7 1855.2 L1005.8 1853.4 L1007 1851.6 L1008.1 1849.6 L1009.2 1847.5 L1010.3 1845.3 L1011.4 1842.9 L1012.6 1840.5 L1013.7 1837.9 L1014.8 1835.1 L1015.9 1832.3 L1017.1 1829.2 L1018.2 1826.1 L1019.3 1822.8 L1020.4 1819.3 L1021.6 1815.8 L1022.7 1812 L1023.8 1808.1 L1024.9 1804.1 L1026.1 1799.9 L1027.2 1795.6 L1028.3 1791.1 L1029.4 1786.4 L1030.6 1781.7 L1031.7 1776.8 L1032.8 1771.7 L1033.9 1766.5 L1035 1761.2 L1036.2 1755.8 L1037.3 1750.3 L1038.4 1744.6 L1039.5 1738.9 L1040.7 1733.1 L1041.8 1727.1 L1042.9 1721.2 L1044 1715.1 L1045.2 1709 L1046.3 1702.9 L1047.4 1696.7 L1048.5 1690.6 L1049.7 1684.4 L1050.8 1678.3 L1051.9 1672.1 L1053 1666.1 L1054.2 1660 L1055.3 1654.1 L1056.4 1648.2 L1057.5 1642.5 L1058.6 1636.8 L1059.8 1631.3 L1060.9 1625.9 L1062 1620.7 L1063.1 1615.7 L1064.3 1610.9 L1065.4 1606.3 L1066.5 1601.8 L1067.6 1597.7 L1068.8 1593.7 L1069.9 1590.1 L1071 1586.7 L1072.1 1583.6 L1073.3 1580.7 L1074.4 1578.2 L1075.5 1576 L1076.6 1574.1 L1077.8 1572.5 L1078.9 1571.2 L1080 1570.3 L1081.1 1569.7 L1082.3 1569.4 L1083.4 1569.5 L1084.5 1569.9 L1085.6 1570.6 L1086.7 1571.7 L1087.9 1573.1 L1089 1574.8 L1090.1 1576.8 L1091.2 1579.2 L1092.4 1581.8 L1093.5 1584.8 L1094.6 1588 L1095.7 1591.5 L1096.9 1595.3 L1098 1599.3 L1099.1 1603.6 L1100.2 1608.1 L1101.4 1612.8 L1102.5 1617.7 L1103.6 1622.8 L1104.7 1628.1 L1105.9 1633.5 L1107 1639.1 L1108.1 1644.7 L1109.2 1650.5 L1110.3 1656.5 L1111.5 1662.4 L1112.6 1668.5 L1113.7 1674.6 L1114.8 1680.7 L1116 1686.9 L1117.1 1693 L1118.2 1699.2 L1119.3 1705.4 L1120.5 1711.5 L1121.6 1717.5 L1122.7 1723.6 L1123.8 1729.5 L1125 1735.4 L1126.1 1741.2 L1127.2 1746.9 L1128.3 1752.5 L1129.5 1758 L1130.6 1763.4 L1131.7 1768.6 L1132.8 1773.7 L1133.9 1778.7 L1135.1 1783.6 L1136.2 1788.3 L1137.3 1792.9 L1138.4 1797.3 L1139.6 1801.6 L1140.7 1805.7 L1141.8 1809.7 L1142.9 1813.5 L1144.1 1817.2 L1145.2 1820.7 L1146.3 1824.1 L1147.4 1827.4 L1148.6 1830.5 L1149.7 1833.4 L1150.8 1836.2 L1151.9 1838.9 L1153.1 1841.5 L1154.2 1843.9 L1155.3 1846.2 L1156.4 1848.3 L1157.5 1850.4 L1158.7 1852.3 L1159.8 1854.2 L1160.9 1855.9 L1162 1857.5 L1163.2 1859 L1164.3 1860.4 L1165.4 1861.8 L1166.5 1863 L1167.7 1864.2 L1168.8 1865.3 L1169.9 1866.3 L1171 1867.2 L1172.2 1868.1 L1173.3 1868.9 L1174.4 1869.7 L1175.5 1870.4 L1176.7 1871 L1177.8 1871.6 L1178.9 1872.2 L1180 1872.7 L1181.1 1873.2 L1182.3 1873.6 L1183.4 1874 L1184.5 1874.4 L1185.6 1874.7 L1186.8 1875 L1187.9 1875.3 L1189 1875.5 L1190.1 1875.8 L1191.3 1876 L1192.4 1876.2 L1193.5 1876.4 L1194.6 1876.5 L1195.8 1876.7 L1196.9 1876.8 L1198 1876.9 L1199.1 1877 L1200.3 1877.1 L1201.4 1877.2 L1202.5 1877.3 L1203.6 1877.3 L1204.8 1877.4 L1205.9 1877.5 L1207 1877.5 L1208.1 1877.5 L1209.2 1877.6 L1210.4 1877.6 L1211.5 1877.7 L1212.6 1877.7 L1213.7 1877.7 L1214.9 1877.7 L1216 1877.8 L1217.1 1877.8 L1218.2 1877.8 L1219.4 1877.8 L1220.5 1877.8 L1221.6 1877.8 L1222.7 1877.8 L1223.9 1877.8 L1225 1877.8 L1226.1 1877.9 L1227.2 1877.9 L1228.4 1877.9 L1229.5 1877.9 L1230.6 1877.9 L1231.7 1877.9 L1232.8 1877.9 L1234 1877.9 L1235.1 1877.9 L1236.2 1877.9 L1237.3 1877.9 L1238.5 1877.9 L1239.6 1877.9 L1240.7 1877.9 L1241.8 1877.9 L1243 1877.9 L1244.1 1877.9 L1245.2 1877.9 L1246.3 1877.9 L1247.5 1877.9 L1248.6 1877.9 L1249.7 1877.9 L1250.8 1877.9 L1252 1877.9 L1253.1 1877.9 L1254.2 1877.9 L1255.3 1877.9 L1256.4 1877.9 L1257.6 1877.9 L1258.7 1877.9 L1259.8 1877.9 L1260.9 1877.9 L1262.1 1877.9 L1263.2 1877.9 L1264.3 1877.9 L1265.4 1877.9 L1266.6 1877.9 L1267.7 1877.9 L1268.8 1877.9 L1269.9 1877.9 L1271.1 1877.9 L1272.2 1877.9 L1273.3 1877.9 L1274.4 1877.9 L1275.6 1877.9 L1276.7 1877.9 L1277.8 1877.9 L1278.9 1877.9 L1280 1877.9 L1281.2 1877.9 L1282.3 1877.9 L1283.4 1877.9 L1284.5 1877.9 L1285.7 1877.9 L1286.8 1877.9 L1287.9 1877.9 L1289 1877.9 L1290.2 1877.9 L1291.3 1877.9 L1292.4 1877.9 L1293.5 1877.9 L1294.7 1877.9 L1295.8 1877.9 L1296.9 1877.9 L1298 1877.9 L1299.2 1877.9 L1300.3 1877.9 L1301.4 1877.9 L1302.5 1877.9 L1303.7 1877.9 L1304.8 1877.9 L1305.9 1877.9 L1307 1877.9 L1308.1 1877.9 L1309.3 1877.9 L1310.4 1877.9 L1311.5 1877.9 L1312.6 1877.9 L1313.8 1877.9 L1314.9 1877.9 L1316 1877.9 L1317.1 1877.9 L1318.3 1877.9 L1319.4 1877.9 L1320.5 1877.9 L1321.6 1877.9 L1322.8 1877.9 L1323.9 1877.9 L1325 1877.9 L1326.1 1877.9 L1327.3 1877.9 L1328.4 1877.9 L1329.5 1877.9 L1330.6 1877.9 L1331.7 1877.9 L1332.9 1877.9 L1334 1877.9 L1335.1 1877.9 L1336.2 1877.9 L1337.4 1877.9 L1338.5 1877.9 L1339.6 1877.9 L1340.7 1877.9 L1341.9 1877.9 L1343 1877.9 L1344.1 1877.9 L1345.2 1877.9 L1346.4 1877.9 L1347.5 1877.9 L1348.6 1877.9 L1349.7 1877.9 L1350.9 1877.9 L1352 1877.9 L1353.1 1877.9 L1354.2 1877.9 L1355.3 1877.9 L1356.5 1877.9 L1357.6 1877.9 L1358.7 1877.9 L1359.8 1877.9 L1361 1877.9 L1362.1 1877.9 L1363.2 1877.9 L1364.3 1877.9 L1365.5 1877.9 L1366.6 1877.9 L1367.7 1877.9 L1368.8 1877.9 L1370 1877.9 L1371.1 1877.9 L1372.2 1877.9 L1373.3 1877.9 L1374.5 1877.9 L1375.6 1877.9 L1376.7 1877.9 L1377.8 1877.9 L1378.9 1877.9 L1380.1 1877.9 L1381.2 1877.9 L1382.3 1877.9 L1383.4 1877.9 L1384.6 1877.9 L1385.7 1877.9 L1386.8 1877.9 L1387.9 1877.9 L1389.1 1877.9 L1390.2 1877.9 L1391.3 1877.9 L1392.4 1877.9 L1393.6 1877.9 L1394.7 1877.9 L1395.8 1877.9 L1396.9 1877.9 L1398.1 1877.9 L1399.2 1877.9 L1400.3 1877.9 L1401.4 1877.9 L1402.5 1877.9 L1403.7 1877.9 L1404.8 1877.9 L1405.9 1877.9 L1407 1877.9 L1408.2 1877.9 L1409.3 1877.9 L1410.4 1877.9 L1411.5 1877.9 L1412.7 1877.9 L1413.8 1877.9 L1414.9 1877.9 L1416 1877.9 L1417.2 1877.9 L1418.3 1877.9 L1419.4 1877.9 L1420.5 1877.9 L1421.7 1877.9 L1422.8 1877.9 L1423.9 1877.9 L1425 1877.9 L1426.2 1877.9 L1427.3 1877.9 L1428.4 1877.9 L1429.5 1877.9 L1430.6 1877.9 L1431.8 1877.9 L1432.9 1877.9 L1434 1877.9 L1435.1 1877.9 L1436.3 1877.9 L1437.4 1877.9 L1438.5 1877.9 L1439.6 1877.9 L1440.8 1877.9 L1441.9 1877.9 L1443 1877.9 L1444.1 1877.9 L1445.3 1877.9 L1446.4 1877.9 L1447.5 1877.9 L1448.6 1877.9 L1449.8 1877.9 L1450.9 1877.9 L1452 1877.9 L1453.1 1877.9 L1454.2 1877.9 L1455.4 1877.9 L1456.5 1877.9 L1457.6 1877.9 L1458.7 1877.9 L1459.9 1877.9 L1461 1877.9 L1462.1 1877.9 L1463.2 1877.9 L1464.4 1877.9 L1465.5 1877.9 L1466.6 1877.9 L1467.7 1877.9 L1468.9 1877.9 L1470 1877.9 L1471.1 1877.9 L1472.2 1877.9 L1473.4 1877.9 L1474.5 1877.9 L1475.6 1877.9 L1476.7 1877.9 L1477.8 1877.9 L1479 1877.9 L1480.1 1877.9 L1481.2 1877.9 L1482.3 1877.9 L1483.5 1877.9 L1484.6 1877.9 L1485.7 1877.9 L1486.8 1877.9 L1488 1877.9 L1489.1 1877.9 L1490.2 1877.9 L1491.3 1877.9 L1492.5 1877.9 L1493.6 1877.9 L1494.7 1877.9 L1495.8 1877.9 L1497 1877.9 L1498.1 1877.9 L1499.2 1877.9 L1500.3 1877.9 L1501.4 1877.9 L1502.6 1877.9 L1503.7 1877.9 L1504.8 1877.9 L1505.9 1877.9 L1507.1 1877.9 L1508.2 1877.9 L1509.3 1877.9 L1510.4 1877.9 L1511.6 1877.9 L1512.7 1877.9 L1513.8 1877.9 L1514.9 1877.9 L1516.1 1877.9 L1517.2 1877.9 L1518.3 1877.9 L1519.4 1877.9 L1520.6 1877.9 L1521.7 1877.9 L1522.8 1877.9 L1523.9 1877.9 L1525 1877.9 L1526.2 1877.9 L1527.3 1877.9 L1528.4 1877.9 L1529.5 1877.9 L1530.7 1877.9 L1531.8 1877.9 L1532.9 1877.9 L1534 1877.9 L1535.2 1877.9 L1536.3 1877.9 L1537.4 1877.9 L1538.5 1877.9 L1539.7 1877.9 L1540.8 1877.9 L1541.9 1877.9 L1543 1877.9 L1544.2 1877.9 L1545.3 1877.9 L1546.4 1877.9 L1547.5 1877.9 L1548.7 1877.9 L1549.8 1877.9 L1550.9 1877.9 L1552 1877.9 L1553.1 1877.9 L1554.3 1877.9 L1555.4 1877.9 L1556.5 1877.9 L1557.6 1877.9 L1558.8 1877.9 L1559.9 1877.9 L1561 1877.9 L1562.1 1877.9 L1563.3 1877.9 L1564.4 1877.9 L1565.5 1877.9 L1566.6 1877.9 L1567.8 1877.9 L1568.9 1877.9 L1570 1877.9 L1571.1 1877.9 L1572.3 1877.9 L1573.4 1877.9 L1574.5 1877.9 L1575.6 1877.9 L1576.7 1877.9 L1577.9 1877.9 L1579 1877.9 L1580.1 1877.9 L1581.2 1877.9 L1582.4 1877.9 L1583.5 1877.9 L1584.6 1877.9 L1585.7 1877.9 L1586.9 1877.9 L1588 1877.9 L1589.1 1877.9 L1590.2 1877.9 L1591.4 1877.9 L1592.5 1877.9 L1593.6 1877.9 L1594.7 1877.9 L1595.9 1877.9 L1597 1877.9 L1598.1 1877.9 L1599.2 1877.9 L1600.3 1877.9 L1601.5 1877.9 L1602.6 1877.9 L1603.7 1877.9 L1604.8 1877.9 L1606 1877.9 L1607.1 1877.9 L1608.2 1877.9 L1609.3 1877.9 L1610.5 1877.9 L1611.6 1877.9 L1612.7 1877.9 L1613.8 1877.9 L1615 1877.9 L1616.1 1877.9 L1617.2 1877.9 L1618.3 1877.9 L1619.5 1877.9 L1620.6 1877.9 L1621.7 1877.9 L1622.8 1877.9 L1623.9 1877.9 L1625.1 1877.9 L1626.2 1877.9 L1627.3 1877.9 L1628.4 1877.9 L1629.6 1877.9 L1630.7 1877.9 L1631.8 1877.9 L1632.9 1877.9 L1634.1 1877.9 L1635.2 1877.9 L1636.3 1877.9 L1637.4 1877.9 L1638.6 1877.9 L1639.7 1877.9 L1640.8 1877.9 L1641.9 1877.9 L1643.1 1877.9 L1644.2 1877.9 L1645.3 1877.9 L1646.4 1877.9 L1647.6 1877.9 L1648.7 1877.9 L1649.8 1877.9 L1650.9 1877.9 L1652 1877.9 L1653.2 1877.9 L1654.3 1877.9 L1655.4 1877.9 L1656.5 1877.9 L1657.7 1877.9 L1658.8 1877.9 L1659.9 1877.9 L1661 1877.9 L1662.2 1877.9 L1663.3 1877.9 L1664.4 1877.9 L1665.5 1877.9 L1666.7 1877.9 L1667.8 1877.9 L1668.9 1877.9 L1670 1877.9 L1671.2 1877.9 L1672.3 1877.9 L1673.4 1877.9 L1674.5 1877.9 L1675.6 1877.9 L1676.8 1877.9 L1677.9 1877.9 L1679 1877.9 L1680.1 1877.9 L1681.3 1877.9 L1682.4 1877.9 L1683.5 1877.9 L1684.6 1877.9 L1685.8 1877.9 L1686.9 1877.9 L1688 1877.9 L1689.1 1877.9 L1690.3 1877.9 L1691.4 1877.9 L1692.5 1877.9 L1693.6 1877.9 L1694.8 1877.9 L1695.9 1877.9 L1697 1877.9" fill="none" stroke="#000000" stroke-width="3.4" stroke-linejoin="round" stroke-linecap="round" />
<path d="M910.3 1877.7 L911.4 1877.7 L912.5 1877.7 L913.7 1877.7 L914.8 1877.6 L915.9 1877.6 L917 1877.6 L918.2 1877.6 L919.3 1877.6 L920.4 1877.5 L921.5 1877.5 L922.7 1877.5 L923.8 1877.5 L924.9 1877.4 L926 1877.4 L927.2 1877.4 L928.3 1877.4 L929.4 1877.3 L930.5 1877.3 L931.7 1877.3 L932.8 1877.2 L933.9 1877.2 L935 1877.1 L936.1 1877.1 L937.3 1877 L938.4 1877 L939.5 1876.9 L940.6 1876.9 L941.8 1876.8 L942.9 1876.8 L944 1876.7 L945.1 1876.6 L946.3 1876.6 L947.4 1876.5 L948.5 1876.4 L949.6 1876.3 L950.8 1876.2 L951.9 1876.2 L953 1876.1 L954.1 1876 L955.3 1875.9 L956.4 1875.8 L957.5 1875.6 L958.6 1875.5 L959.7 1875.4 L960.9 1875.3 L962 1875.1 L963.1 1875 L964.2 1874.8 L965.4 1874.7 L966.5 1874.5 L967.6 1874.4 L968.7 1874.2 L969.9 1874 L971 1873.8 L972.1 1873.6 L973.2 1873.4 L974.4 1873.2 L975.5 1872.9 L976.6 1872.7 L977.7 1872.5 L978.9 1872.2 L980 1871.9 L981.1 1871.6 L982.2 1871.4 L983.4 1871.1 L984.5 1870.7 L985.6 1870.4 L986.7 1870.1 L987.8 1869.7 L989 1869.4 L990.1 1869 L991.2 1868.6 L992.3 1868.2 L993.5 1867.7 L994.6 1867.3 L995.7 1866.8 L996.8 1866.4 L998 1865.9 L999.1 1865.4 L1000.2 1864.8 L1001.3 1864.3 L1002.5 1863.7 L1003.6 1863.1 L1004.7 1862.5 L1005.8 1861.9 L1007 1861.3 L1008.1 1860.6 L1009.2 1859.9 L1010.3 1859.2 L1011.4 1858.5 L1012.6 1857.7 L1013.7 1856.9 L1014.8 1856.1 L1015.9 1855.3 L1017.1 1854.5 L1018.2 1853.6 L1019.3 1852.7 L1020.4 1851.7 L1021.6 1850.8 L1022.7 1849.8 L1023.8 1848.8 L1024.9 1847.7 L1026.1 1846.7 L1027.2 1845.6 L1028.3 1844.4 L1029.4 1843.3 L1030.6 1842.1 L1031.7 1840.9 L1032.8 1839.6 L1033.9 1838.3 L1035 1837 L1036.2 1835.7 L1037.3 1834.3 L1038.4 1832.9 L1039.5 1831.4 L1040.7 1829.9 L1041.8 1828.4 L1042.9 1826.9 L1044 1825.3 L1045.2 1823.7 L1046.3 1822 L1047.4 1820.3 L1048.5 1818.6 L1049.7 1816.8 L1050.8 1815.1 L1051.9 1813.2 L1053 1811.4 L1054.2 1809.5 L1055.3 1807.5 L1056.4 1805.6 L1057.5 1803.6 L1058.6 1801.5 L1059.8 1799.5 L1060.9 1797.4 L1062 1795.2 L1063.1 1793 L1064.3 1790.8 L1065.4 1788.6 L1066.5 1786.3 L1067.6 1784 L1068.8 1781.7 L1069.9 1779.3 L1071 1776.9 L1072.1 1774.5 L1073.3 1772 L1074.4 1769.5 L1075.5 1767 L1076.6 1764.5 L1077.8 1761.9 L1078.9 1759.3 L1080 1756.7 L1081.1 1754 L1082.3 1751.4 L1083.4 1748.7 L1084.5 1745.9 L1085.6 1743.2 L1086.7 1740.5 L1087.9 1737.7 L1089 1734.9 L1090.1 1732.1 L1091.2 1729.3 L1092.4 1726.4 L1093.5 1723.6 L1094.6 1720.7 L1095.7 1717.9 L1096.9 1715 L1098 1712.1 L1099.1 1709.2 L1100.2 1706.3 L1101.4 1703.5 L1102.5 1700.6 L1103.6 1697.7 L1104.7 1694.8 L1105.9 1691.9 L1107 1689 L1108.1 1686.2 L1109.2 1683.3 L1110.3 1680.4 L1111.5 1677.6 L1112.6 1674.8 L1113.7 1672 L1114.8 1669.2 L1116 1666.4 L1117.1 1663.7 L1118.2 1661 L1119.3 1658.3 L1120.5 1655.6 L1121.6 1652.9 L1122.7 1650.3 L1123.8 1647.7 L1125 1645.2 L1126.1 1642.7 L1127.2 1640.2 L1128.3 1637.8 L1129.5 1635.4 L1130.6 1633 L1131.7 1630.7 L1132.8 1628.5 L1133.9 1626.3 L1135.1 1624.1 L1136.2 1622 L1137.3 1619.9 L1138.4 1617.9 L1139.6 1616 L1140.7 1614.1 L1141.8 1612.2 L1142.9 1610.5 L1144.1 1608.8 L1145.2 1607.1 L1146.3 1605.5 L1147.4 1604 L1148.6 1602.5 L1149.7 1601.2 L1150.8 1599.8 L1151.9 1598.6 L1153.1 1597.4 L1154.2 1596.3 L1155.3 1595.3 L1156.4 1594.3 L1157.5 1593.4 L1158.7 1592.6 L1159.8 1591.9 L1160.9 1591.2 L1162 1590.6 L1163.2 1590.1 L1164.3 1589.7 L1165.4 1589.3 L1166.5 1589.1 L1167.7 1588.9 L1168.8 1588.7 L1169.9 1588.7 L1171 1588.7 L1172.2 1588.9 L1173.3 1589.1 L1174.4 1589.3 L1175.5 1589.7 L1176.7 1590.1 L1177.8 1590.6 L1178.9 1591.2 L1180 1591.9 L1181.1 1592.6 L1182.3 1593.4 L1183.4 1594.3 L1184.5 1595.3 L1185.6 1596.3 L1186.8 1597.4 L1187.9 1598.6 L1189 1599.8 L1190.1 1601.2 L1191.3 1602.5 L1192.4 1604 L1193.5 1605.5 L1194.6 1607.1 L1195.8 1608.8 L1196.9 1610.5 L1198 1612.2 L1199.1 1614.1 L1200.3 1616 L1201.4 1617.9 L1202.5 1619.9 L1203.6 1622 L1204.8 1624.1 L1205.9 1626.3 L1207 1628.5 L1208.1 1630.7 L1209.2 1633 L1210.4 1635.4 L1211.5 1637.8 L1212.6 1640.2 L1213.7 1642.7 L1214.9 1645.2 L1216 1647.7 L1217.1 1650.3 L1218.2 1652.9 L1219.4 1655.6 L1220.5 1658.3 L1221.6 1661 L1222.7 1663.7 L1223.9 1666.4 L1225 1669.2 L1226.1 1672 L1227.2 1674.8 L1228.4 1677.6 L1229.5 1680.4 L1230.6 1683.3 L1231.7 1686.2 L1232.8 1689 L1234 1691.9 L1235.1 1694.8 L1236.2 1697.7 L1237.3 1700.6 L1238.5 1703.5 L1239.6 1706.3 L1240.7 1709.2 L1241.8 1712.1 L1243 1715 L1244.1 1717.9 L1245.2 1720.7 L1246.3 1723.6 L1247.5 1726.4 L1248.6 1729.3 L1249.7 1732.1 L1250.8 1734.9 L1252 1737.7 L1253.1 1740.5 L1254.2 1743.2 L1255.3 1745.9 L1256.4 1748.7 L1257.6 1751.4 L1258.7 1754 L1259.8 1756.7 L1260.9 1759.3 L1262.1 1761.9 L1263.2 1764.5 L1264.3 1767 L1265.4 1769.5 L1266.6 1772 L1267.7 1774.5 L1268.8 1776.9 L1269.9 1779.3 L1271.1 1781.7 L1272.2 1784 L1273.3 1786.3 L1274.4 1788.6 L1275.6 1790.8 L1276.7 1793 L1277.8 1795.2 L1278.9 1797.4 L1280 1799.5 L1281.2 1801.5 L1282.3 1803.6 L1283.4 1805.6 L1284.5 1807.5 L1285.7 1809.5 L1286.8 1811.4 L1287.9 1813.2 L1289 1815.1 L1290.2 1816.8 L1291.3 1818.6 L1292.4 1820.3 L1293.5 1822 L1294.7 1823.7 L1295.8 1825.3 L1296.9 1826.9 L1298 1828.4 L1299.2 1829.9 L1300.3 1831.4 L1301.4 1832.9 L1302.5 1834.3 L1303.7 1835.7 L1304.8 1837 L1305.9 1838.3 L1307 1839.6 L1308.1 1840.9 L1309.3 1842.1 L1310.4 1843.3 L1311.5 1844.4 L1312.6 1845.6 L1313.8 1846.7 L1314.9 1847.7 L1316 1848.8 L1317.1 1849.8 L1318.3 1850.8 L1319.4 1851.7 L1320.5 1852.7 L1321.6 1853.6 L1322.8 1854.5 L1323.9 1855.3 L1325 1856.1 L1326.1 1856.9 L1327.3 1857.7 L1328.4 1858.5 L1329.5 1859.2 L1330.6 1859.9 L1331.7 1860.6 L1332.9 1861.3 L1334 1861.9 L1335.1 1862.5 L1336.2 1863.1 L1337.4 1863.7 L1338.5 1864.3 L1339.6 1864.8 L1340.7 1865.4 L1341.9 1865.9 L1343 1866.4 L1344.1 1866.8 L1345.2 1867.3 L1346.4 1867.7 L1347.5 1868.2 L1348.6 1868.6 L1349.7 1869 L1350.9 1869.4 L1352 1869.7 L1353.1 1870.1 L1354.2 1870.4 L1355.3 1870.7 L1356.5 1871.1 L1357.6 1871.4 L1358.7 1871.6 L1359.8 1871.9 L1361 1872.2 L1362.1 1872.5 L1363.2 1872.7 L1364.3 1872.9 L1365.5 1873.2 L1366.6 1873.4 L1367.7 1873.6 L1368.8 1873.8 L1370 1874 L1371.1 1874.2 L1372.2 1874.4 L1373.3 1874.5 L1374.5 1874.7 L1375.6 1874.8 L1376.7 1875 L1377.8 1875.1 L1378.9 1875.3 L1380.1 1875.4 L1381.2 1875.5 L1382.3 1875.6 L1383.4 1875.8 L1384.6 1875.9 L1385.7 1876 L1386.8 1876.1 L1387.9 1876.2 L1389.1 1876.2 L1390.2 1876.3 L1391.3 1876.4 L1392.4 1876.5 L1393.6 1876.6 L1394.7 1876.6 L1395.8 1876.7 L1396.9 1876.8 L1398.1 1876.8 L1399.2 1876.9 L1400.3 1876.9 L1401.4 1877 L1402.5 1877 L1403.7 1877.1 L1404.8 1877.1 L1405.9 1877.2 L1407 1877.2 L1408.2 1877.3 L1409.3 1877.3 L1410.4 1877.3 L1411.5 1877.4 L1412.7 1877.4 L1413.8 1877.4 L1414.9 1877.4 L1416 1877.5 L1417.2 1877.5 L1418.3 1877.5 L1419.4 1877.5 L1420.5 1877.6 L1421.7 1877.6 L1422.8 1877.6 L1423.9 1877.6 L1425 1877.6 L1426.2 1877.7 L1427.3 1877.7 L1428.4 1877.7 L1429.5 1877.7 L1430.6 1877.7 L1431.8 1877.7 L1432.9 1877.7 L1434 1877.7 L1435.1 1877.8 L1436.3 1877.8 L1437.4 1877.8 L1438.5 1877.8 L1439.6 1877.8 L1440.8 1877.8 L1441.9 1877.8 L1443 1877.8 L1444.1 1877.8 L1445.3 1877.8 L1446.4 1877.8 L1447.5 1877.8 L1448.6 1877.8 L1449.8 1877.8 L1450.9 1877.8 L1452 1877.8 L1453.1 1877.8 L1454.2 1877.9 L1455.4 1877.9 L1456.5 1877.9 L1457.6 1877.9 L1458.7 1877.9 L1459.9 1877.9 L1461 1877.9 L1462.1 1877.9 L1463.2 1877.9 L1464.4 1877.9 L1465.5 1877.9 L1466.6 1877.9 L1467.7 1877.9 L1468.9 1877.9 L1470 1877.9 L1471.1 1877.9 L1472.2 1877.9 L1473.4 1877.9 L1474.5 1877.9 L1475.6 1877.9 L1476.7 1877.9 L1477.8 1877.9 L1479 1877.9 L1480.1 1877.9 L1481.2 1877.9 L1482.3 1877.9 L1483.5 1877.9 L1484.6 1877.9 L1485.7 1877.9 L1486.8 1877.9 L1488 1877.9 L1489.1 1877.9 L1490.2 1877.9 L1491.3 1877.9 L1492.5 1877.9 L1493.6 1877.9 L1494.7 1877.9 L1495.8 1877.9 L1497 1877.9 L1498.1 1877.9 L1499.2 1877.9 L1500.3 1877.9 L1501.4 1877.9 L1502.6 1877.9 L1503.7 1877.9 L1504.8 1877.9 L1505.9 1877.9 L1507.1 1877.9 L1508.2 1877.9 L1509.3 1877.9 L1510.4 1877.9 L1511.6 1877.9 L1512.7 1877.9 L1513.8 1877.9 L1514.9 1877.9 L1516.1 1877.9 L1517.2 1877.9 L1518.3 1877.9 L1519.4 1877.9 L1520.6 1877.9 L1521.7 1877.9 L1522.8 1877.9 L1523.9 1877.9 L1525 1877.9 L1526.2 1877.9 L1527.3 1877.9 L1528.4 1877.9 L1529.5 1877.9 L1530.7 1877.9 L1531.8 1877.9 L1532.9 1877.9 L1534 1877.9 L1535.2 1877.9 L1536.3 1877.9 L1537.4 1877.9 L1538.5 1877.9 L1539.7 1877.9 L1540.8 1877.9 L1541.9 1877.9 L1543 1877.9 L1544.2 1877.9 L1545.3 1877.9 L1546.4 1877.9 L1547.5 1877.9 L1548.7 1877.9 L1549.8 1877.9 L1550.9 1877.9 L1552 1877.9 L1553.1 1877.9 L1554.3 1877.9 L1555.4 1877.9 L1556.5 1877.9 L1557.6 1877.9 L1558.8 1877.9 L1559.9 1877.9 L1561 1877.9 L1562.1 1877.9 L1563.3 1877.9 L1564.4 1877.9 L1565.5 1877.9 L1566.6 1877.9 L1567.8 1877.9 L1568.9 1877.9 L1570 1877.9 L1571.1 1877.9 L1572.3 1877.9 L1573.4 1877.9 L1574.5 1877.9 L1575.6 1877.9 L1576.7 1877.9 L1577.9 1877.9 L1579 1877.9 L1580.1 1877.9 L1581.2 1877.9 L1582.4 1877.9 L1583.5 1877.9 L1584.6 1877.9 L1585.7 1877.9 L1586.9 1877.9 L1588 1877.9 L1589.1 1877.9 L1590.2 1877.9 L1591.4 1877.9 L1592.5 1877.9 L1593.6 1877.9 L1594.7 1877.9 L1595.9 1877.9 L1597 1877.9 L1598.1 1877.9 L1599.2 1877.9 L1600.3 1877.9 L1601.5 1877.9 L1602.6 1877.9 L1603.7 1877.9 L1604.8 1877.9 L1606 1877.9 L1607.1 1877.9 L1608.2 1877.9 L1609.3 1877.9 L1610.5 1877.9 L1611.6 1877.9 L1612.7 1877.9 L1613.8 1877.9 L1615 1877.9 L1616.1 1877.9 L1617.2 1877.9 L1618.3 1877.9 L1619.5 1877.9 L1620.6 1877.9 L1621.7 1877.9 L1622.8 1877.9 L1623.9 1877.9 L1625.1 1877.9 L1626.2 1877.9 L1627.3 1877.9 L1628.4 1877.9 L1629.6 1877.9 L1630.7 1877.9 L1631.8 1877.9 L1632.9 1877.9 L1634.1 1877.9 L1635.2 1877.9 L1636.3 1877.9 L1637.4 1877.9 L1638.6 1877.9 L1639.7 1877.9 L1640.8 1877.9 L1641.9 1877.9 L1643.1 1877.9 L1644.2 1877.9 L1645.3 1877.9 L1646.4 1877.9 L1647.6 1877.9 L1648.7 1877.9 L1649.8 1877.9 L1650.9 1877.9 L1652 1877.9 L1653.2 1877.9 L1654.3 1877.9 L1655.4 1877.9 L1656.5 1877.9 L1657.7 1877.9 L1658.8 1877.9 L1659.9 1877.9 L1661 1877.9 L1662.2 1877.9 L1663.3 1877.9 L1664.4 1877.9 L1665.5 1877.9 L1666.7 1877.9 L1667.8 1877.9 L1668.9 1877.9 L1670 1877.9 L1671.2 1877.9 L1672.3 1877.9 L1673.4 1877.9 L1674.5 1877.9 L1675.6 1877.9 L1676.8 1877.9 L1677.9 1877.9 L1679 1877.9 L1680.1 1877.9 L1681.3 1877.9 L1682.4 1877.9 L1683.5 1877.9 L1684.6 1877.9 L1685.8 1877.9 L1686.9 1877.9 L1688 1877.9 L1689.1 1877.9 L1690.3 1877.9 L1691.4 1877.9 L1692.5 1877.9 L1693.6 1877.9 L1694.8 1877.9 L1695.9 1877.9 L1697 1877.9" fill="none" stroke="#ff0000" stroke-width="3.4" stroke-linejoin="round" stroke-linecap="round" />
<path d="M910.3 1877.9 L911.4 1877.9 L912.5 1877.9 L913.7 1877.9 L914.8 1877.9 L915.9 1877.9 L917 1877.9 L918.2 1877.9 L919.3 1877.9 L920.4 1877.9 L921.5 1877.9 L922.7 1877.9 L923.8 1877.9 L924.9 1877.9 L926 1877.9 L927.2 1877.9 L928.3 1877.9 L929.4 1877.9 L930.5 1877.9 L931.7 1877.9 L932.8 1877.9 L933.9 1877.9 L935 1877.9 L936.1 1877.9 L937.3 1877.9 L938.4 1877.9 L939.5 1877.9 L940.6 1877.9 L941.8 1877.9 L942.9 1877.9 L944 1877.9 L945.1 1877.9 L946.3 1877.9 L947.4 1877.9 L948.5 1877.9 L949.6 1877.9 L950.8 1877.9 L951.9 1877.9 L953 1877.9 L954.1 1877.9 L955.3 1877.9 L956.4 1877.9 L957.5 1877.9 L958.6 1877.9 L959.7 1877.9 L960.9 1877.9 L962 1877.9 L963.1 1877.9 L964.2 1877.9 L965.4 1877.9 L966.5 1877.9 L967.6 1877.9 L968.7 1877.9 L969.9 1877.9 L971 1877.9 L972.1 1877.9 L973.2 1877.9 L974.4 1877.9 L975.5 1877.9 L976.6 1877.9 L977.7 1877.9 L978.9 1877.9 L980 1877.9 L981.1 1877.9 L982.2 1877.9 L983.4 1877.9 L984.5 1877.9 L985.6 1877.9 L986.7 1877.9 L987.8 1877.9 L989 1877.9 L990.1 1877.9 L991.2 1877.9 L992.3 1877.9 L993.5 1877.9 L994.6 1877.9 L995.7 1877.9 L996.8 1877.9 L998 1877.9 L999.1 1877.9 L1000.2 1877.9 L1001.3 1877.9 L1002.5 1877.9 L1003.6 1877.9 L1004.7 1877.9 L1005.8 1877.9 L1007 1877.9 L1008.1 1877.9 L1009.2 1877.9 L1010.3 1877.9 L1011.4 1877.9 L1012.6 1877.9 L1013.7 1877.9 L1014.8 1877.9 L1015.9 1877.9 L1017.1 1877.9 L1018.2 1877.9 L1019.3 1877.9 L1020.4 1877.9 L1021.6 1877.9 L1022.7 1877.9 L1023.8 1877.9 L1024.9 1877.9 L1026.1 1877.9 L1027.2 1877.9 L1028.3 1877.9 L1029.4 1877.9 L1030.6 1877.9 L1031.7 1877.9 L1032.8 1877.8 L1033.9 1877.8 L1035 1877.8 L1036.2 1877.8 L1037.3 1877.8 L1038.4 1877.8 L1039.5 1877.8 L1040.7 1877.8 L1041.8 1877.8 L1042.9 1877.8 L1044 1877.8 L1045.2 1877.8 L1046.3 1877.8 L1047.4 1877.8 L1048.5 1877.8 L1049.7 1877.8 L1050.8 1877.8 L1051.9 1877.8 L1053 1877.7 L1054.2 1877.7 L1055.3 1877.7 L1056.4 1877.7 L1057.5 1877.7 L1058.6 1877.7 L1059.8 1877.7 L1060.9 1877.7 L1062 1877.7 L1063.1 1877.6 L1064.3 1877.6 L1065.4 1877.6 L1066.5 1877.6 L1067.6 1877.6 L1068.8 1877.6 L1069.9 1877.5 L1071 1877.5 L1072.1 1877.5 L1073.3 1877.5 L1074.4 1877.5 L1075.5 1877.4 L1076.6 1877.4 L1077.8 1877.4 L1078.9 1877.4 L1080 1877.3 L1081.1 1877.3 L1082.3 1877.3 L1083.4 1877.2 L1084.5 1877.2 L1085.6 1877.2 L1086.7 1877.1 L1087.9 1877.1 L1089 1877 L1090.1 1877 L1091.2 1876.9 L1092.4 1876.9 L1093.5 1876.9 L1094.6 1876.8 L1095.7 1876.7 L1096.9 1876.7 L1098 1876.6 L1099.1 1876.6 L1100.2 1876.5 L1101.4 1876.4 L1102.5 1876.4 L1103.6 1876.3 L1104.7 1876.2 L1105.9 1876.1 L1107 1876.1 L1108.1 1876 L1109.2 1875.9 L1110.3 1875.8 L1111.5 1875.7 L1112.6 1875.6 L1113.7 1875.5 L1114.8 1875.4 L1116 1875.3 L1117.1 1875.1 L1118.2 1875 L1119.3 1874.9 L1120.5 1874.8 L1121.6 1874.6 L1122.7 1874.5 L1123.8 1874.3 L1125 1874.2 L1126.1 1874 L1127.2 1873.9 L1128.3 1873.7 L1129.5 1873.5 L1130.6 1873.3 L1131.7 1873.1 L1132.8 1872.9 L1133.9 1872.7 L1135.1 1872.5 L1136.2 1872.3 L1137.3 1872.1 L1138.4 1871.9 L1139.6 1871.6 L1140.7 1871.4 L1141.8 1871.1 L1142.9 1870.9 L1144.1 1870.6 L1145.2 1870.3 L1146.3 1870 L1147.4 1869.7 L1148.6 1869.4 L1149.7 1869.1 L1150.8 1868.8 L1151.9 1868.4 L1153.1 1868.1 L1154.2 1867.7 L1155.3 1867.4 L1156.4 1867 L1157.5 1866.6 L1158.7 1866.2 L1159.8 1865.8 L1160.9 1865.4 L1162 1865 L1163.2 1864.5 L1164.3 1864.1 L1165.4 1863.6 L1166.5 1863.1 L1167.7 1862.7 L1168.8 1862.2 L1169.9 1861.6 L1171 1861.1 L1172.2 1860.6 L1173.3 1860 L1174.4 1859.5 L1175.5 1858.9 L1176.7 1858.3 L1177.8 1857.7 L1178.9 1857.1 L1180 1856.4 L1181.1 1855.8 L1182.3 1855.1 L1183.4 1854.5 L1184.5 1853.8 L1185.6 1853.1 L1186.8 1852.4 L1187.9 1851.6 L1189 1850.9 L1190.1 1850.2 L1191.3 1849.4 L1192.4 1848.6 L1193.5 1847.8 L1194.6 1847 L1195.8 1846.2 L1196.9 1845.3 L1198 1844.5 L1199.1 1843.6 L1200.3 1842.7 L1201.4 1841.8 L1202.5 1840.9 L1203.6 1840 L1204.8 1839.1 L1205.9 1838.1 L1207 1837.1 L1208.1 1836.2 L1209.2 1835.2 L1210.4 1834.2 L1211.5 1833.2 L1212.6 1832.1 L1213.7 1831.1 L1214.9 1830 L1216 1829 L1217.1 1827.9 L1218.2 1826.8 L1219.4 1825.7 L1220.5 1824.6 L1221.6 1823.5 L1222.7 1822.4 L1223.9 1821.3 L1225 1820.1 L1226.1 1819 L1227.2 1817.8 L1228.4 1816.6 L1229.5 1815.5 L1230.6 1814.3 L1231.7 1813.1 L1232.8 1811.9 L1234 1810.7 L1235.1 1809.5 L1236.2 1808.3 L1237.3 1807.1 L1238.5 1805.9 L1239.6 1804.7 L1240.7 1803.4 L1241.8 1802.2 L1243 1801 L1244.1 1799.8 L1245.2 1798.6 L1246.3 1797.3 L1247.5 1796.1 L1248.6 1794.9 L1249.7 1793.7 L1250.8 1792.5 L1252 1791.3 L1253.1 1790.1 L1254.2 1788.9 L1255.3 1787.7 L1256.4 1786.5 L1257.6 1785.3 L1258.7 1784.1 L1259.8 1783 L1260.9 1781.8 L1262.1 1780.7 L1263.2 1779.5 L1264.3 1778.4 L1265.4 1777.3 L1266.6 1776.2 L1267.7 1775.1 L1268.8 1774.1 L1269.9 1773 L1271.1 1772 L1272.2 1770.9 L1273.3 1769.9 L1274.4 1768.9 L1275.6 1768 L1276.7 1767 L1277.8 1766.1 L1278.9 1765.2 L1280 1764.3 L1281.2 1763.4 L1282.3 1762.6 L1283.4 1761.7 L1284.5 1760.9 L1285.7 1760.1 L1286.8 1759.4 L1287.9 1758.7 L1289 1757.9 L1290.2 1757.3 L1291.3 1756.6 L1292.4 1756 L1293.5 1755.4 L1294.7 1754.8 L1295.8 1754.3 L1296.9 1753.7 L1298 1753.2 L1299.2 1752.8 L1300.3 1752.4 L1301.4 1751.9 L1302.5 1751.6 L1303.7 1751.2 L1304.8 1750.9 L1305.9 1750.6 L1307 1750.4 L1308.1 1750.2 L1309.3 1750 L1310.4 1749.8 L1311.5 1749.7 L1312.6 1749.6 L1313.8 1749.5 L1314.9 1749.5 L1316 1749.5 L1317.1 1749.5 L1318.3 1749.6 L1319.4 1749.7 L1320.5 1749.8 L1321.6 1750 L1322.8 1750.2 L1323.9 1750.4 L1325 1750.6 L1326.1 1750.9 L1327.3 1751.2 L1328.4 1751.6 L1329.5 1751.9 L1330.6 1752.4 L1331.7 1752.8 L1332.9 1753.2 L1334 1753.7 L1335.1 1754.3 L1336.2 1754.8 L1337.4 1755.4 L1338.5 1756 L1339.6 1756.6 L1340.7 1757.3 L1341.9 1757.9 L1343 1758.7 L1344.1 1759.4 L1345.2 1760.1 L1346.4 1760.9 L1347.5 1761.7 L1348.6 1762.6 L1349.7 1763.4 L1350.9 1764.3 L1352 1765.2 L1353.1 1766.1 L1354.2 1767 L1355.3 1768 L1356.5 1768.9 L1357.6 1769.9 L1358.7 1770.9 L1359.8 1772 L1361 1773 L1362.1 1774.1 L1363.2 1775.1 L1364.3 1776.2 L1365.5 1777.3 L1366.6 1778.4 L1367.7 1779.5 L1368.8 1780.7 L1370 1781.8 L1371.1 1783 L1372.2 1784.1 L1373.3 1785.3 L1374.5 1786.5 L1375.6 1787.7 L1376.7 1788.9 L1377.8 1790.1 L1378.9 1791.3 L1380.1 1792.5 L1381.2 1793.7 L1382.3 1794.9 L1383.4 1796.1 L1384.6 1797.3 L1385.7 1798.6 L1386.8 1799.8 L1387.9 1801 L1389.1 1802.2 L1390.2 1803.4 L1391.3 1804.7 L1392.4 1805.9 L1393.6 1807.1 L1394.7 1808.3 L1395.8 1809.5 L1396.9 1810.7 L1398.1 1811.9 L1399.2 1813.1 L1400.3 1814.3 L1401.4 1815.5 L1402.5 1816.6 L1403.7 1817.8 L1404.8 1819 L1405.9 1820.1 L1407 1821.3 L1408.2 1822.4 L1409.3 1823.5 L1410.4 1824.6 L1411.5 1825.7 L1412.7 1826.8 L1413.8 1827.9 L1414.9 1829 L1416 1830 L1417.2 1831.1 L1418.3 1832.1 L1419.4 1833.2 L1420.5 1834.2 L1421.7 1835.2 L1422.8 1836.2 L1423.9 1837.1 L1425 1838.1 L1426.2 1839.1 L1427.3 1840 L1428.4 1840.9 L1429.5 1841.8 L1430.6 1842.7 L1431.8 1843.6 L1432.9 1844.5 L1434 1845.3 L1435.1 1846.2 L1436.3 1847 L1437.4 1847.8 L1438.5 1848.6 L1439.6 1849.4 L1440.8 1850.2 L1441.9 1850.9 L1443 1851.6 L1444.1 1852.4 L1445.3 1853.1 L1446.4 1853.8 L1447.5 1854.5 L1448.6 1855.1 L1449.8 1855.8 L1450.9 1856.4 L1452 1857.1 L1453.1 1857.7 L1454.2 1858.3 L1455.4 1858.9 L1456.5 1859.5 L1457.6 1860 L1458.7 1860.6 L1459.9 1861.1 L1461 1861.6 L1462.1 1862.2 L1463.2 1862.7 L1464.4 1863.1 L1465.5 1863.6 L1466.6 1864.1 L1467.7 1864.5 L1468.9 1865 L1470 1865.4 L1471.1 1865.8 L1472.2 1866.2 L1473.4 1866.6 L1474.5 1867 L1475.6 1867.4 L1476.7 1867.7 L1477.8 1868.1 L1479 1868.4 L1480.1 1868.8 L1481.2 1869.1 L1482.3 1869.4 L1483.5 1869.7 L1484.6 1870 L1485.7 1870.3 L1486.8 1870.6 L1488 1870.9 L1489.1 1871.1 L1490.2 1871.4 L1491.3 1871.6 L1492.5 1871.9 L1493.6 1872.1 L1494.7 1872.3 L1495.8 1872.5 L1497 1872.7 L1498.1 1872.9 L1499.2 1873.1 L1500.3 1873.3 L1501.4 1873.5 L1502.6 1873.7 L1503.7 1873.9 L1504.8 1874 L1505.9 1874.2 L1507.1 1874.3 L1508.2 1874.5 L1509.3 1874.6 L1510.4 1874.8 L1511.6 1874.9 L1512.7 1875 L1513.8 1875.1 L1514.9 1875.3 L1516.1 1875.4 L1517.2 1875.5 L1518.3 1875.6 L1519.4 1875.7 L1520.6 1875.8 L1521.7 1875.9 L1522.8 1876 L1523.9 1876.1 L1525 1876.1 L1526.2 1876.2 L1527.3 1876.3 L1528.4 1876.4 L1529.5 1876.4 L1530.7 1876.5 L1531.8 1876.6 L1532.9 1876.6 L1534 1876.7 L1535.2 1876.7 L1536.3 1876.8 L1537.4 1876.9 L1538.5 1876.9 L1539.7 1876.9 L1540.8 1877 L1541.9 1877 L1543 1877.1 L1544.2 1877.1 L1545.3 1877.2 L1546.4 1877.2 L1547.5 1877.2 L1548.7 1877.3 L1549.8 1877.3 L1550.9 1877.3 L1552 1877.4 L1553.1 1877.4 L1554.3 1877.4 L1555.4 1877.4 L1556.5 1877.5 L1557.6 1877.5 L1558.8 1877.5 L1559.9 1877.5 L1561 1877.5 L1562.1 1877.6 L1563.3 1877.6 L1564.4 1877.6 L1565.5 1877.6 L1566.6 1877.6 L1567.8 1877.6 L1568.9 1877.7 L1570 1877.7 L1571.1 1877.7 L1572.3 1877.7 L1573.4 1877.7 L1574.5 1877.7 L1575.6 1877.7 L1576.7 1877.7 L1577.9 1877.7 L1579 1877.8 L1580.1 1877.8 L1581.2 1877.8 L1582.4 1877.8 L1583.5 1877.8 L1584.6 1877.8 L1585.7 1877.8 L1586.9 1877.8 L1588 1877.8 L1589.1 1877.8 L1590.2 1877.8 L1591.4 1877.8 L1592.5 1877.8 L1593.6 1877.8 L1594.7 1877.8 L1595.9 1877.8 L1597 1877.8 L1598.1 1877.8 L1599.2 1877.9 L1600.3 1877.9 L1601.5 1877.9 L1602.6 1877.9 L1603.7 1877.9 L1604.8 1877.9 L1606 1877.9 L1607.1 1877.9 L1608.2 1877.9 L1609.3 1877.9 L1610.5 1877.9 L1611.6 1877.9 L1612.7 1877.9 L1613.8 1877.9 L1615 1877.9 L1616.1 1877.9 L1617.2 1877.9 L1618.3 1877.9 L1619.5 1877.9 L1620.6 1877.9 L1621.7 1877.9 L1622.8 1877.9 L1623.9 1877.9 L1625.1 1877.9 L1626.2 1877.9 L1627.3 1877.9 L1628.4 1877.9 L1629.6 1877.9 L1630.7 1877.9 L1631.8 1877.9 L1632.9 1877.9 L1634.1 1877.9 L1635.2 1877.9 L1636.3 1877.9 L1637.4 1877.9 L1638.6 1877.9 L1639.7 1877.9 L1640.8 1877.9 L1641.9 1877.9 L1643.1 1877.9 L1644.2 1877.9 L1645.3 1877.9 L1646.4 1877.9 L1647.6 1877.9 L1648.7 1877.9 L1649.8 1877.9 L1650.9 1877.9 L1652 1877.9 L1653.2 1877.9 L1654.3 1877.9 L1655.4 1877.9 L1656.5 1877.9 L1657.7 1877.9 L1658.8 1877.9 L1659.9 1877.9 L1661 1877.9 L1662.2 1877.9 L1663.3 1877.9 L1664.4 1877.9 L1665.5 1877.9 L1666.7 1877.9 L1667.8 1877.9 L1668.9 1877.9 L1670 1877.9 L1671.2 1877.9 L1672.3 1877.9 L1673.4 1877.9 L1674.5 1877.9 L1675.6 1877.9 L1676.8 1877.9 L1677.9 1877.9 L1679 1877.9 L1680.1 1877.9 L1681.3 1877.9 L1682.4 1877.9 L1683.5 1877.9 L1684.6 1877.9 L1685.8 1877.9 L1686.9 1877.9 L1688 1877.9 L1689.1 1877.9 L1690.3 1877.9 L1691.4 1877.9 L1692.5 1877.9 L1693.6 1877.9 L1694.8 1877.9 L1695.9 1877.9 L1697 1877.9" fill="none" stroke="#0000ff" stroke-width="3.4" stroke-linejoin="round" stroke-linecap="round" />
<path d="M910.3 1877.9 L911.4 1877.9 L912.5 1877.9 L913.7 1877.9 L914.8 1877.9 L915.9 1877.9 L917 1877.9 L918.2 1877.9 L919.3 1877.9 L920.4 1877.9 L921.5 1877.9 L922.7 1877.9 L923.8 1877.9 L924.9 1877.9 L926 1877.9 L927.2 1877.9 L928.3 1877.9 L929.4 1877.9 L930.5 1877.9 L931.7 1877.9 L932.8 1877.9 L933.9 1877.9 L935 1877.9 L936.1 1877.9 L937.3 1877.9 L938.4 1877.9 L939.5 1877.9 L940.6 1877.9 L941.8 1877.9 L942.9 1877.9 L944 1877.9 L945.1 1877.9 L946.3 1877.9 L947.4 1877.9 L948.5 1877.9 L949.6 1877.9 L950.8 1877.9 L951.9 1877.9 L953 1877.9 L954.1 1877.9 L955.3 1877.9 L956.4 1877.9 L957.5 1877.9 L958.6 1877.9 L959.7 1877.9 L960.9 1877.9 L962 1877.9 L963.1 1877.9 L964.2 1877.9 L965.4 1877.9 L966.5 1877.9 L967.6 1877.9 L968.7 1877.9 L969.9 1877.9 L971 1877.9 L972.1 1877.9 L973.2 1877.9 L974.4 1877.9 L975.5 1877.9 L976.6 1877.9 L977.7 1877.9 L978.9 1877.9 L980 1877.9 L981.1 1877.9 L982.2 1877.9 L983.4 1877.9 L984.5 1877.9 L985.6 1877.9 L986.7 1877.9 L987.8 1877.9 L989 1877.9 L990.1 1877.9 L991.2 1877.9 L992.3 1877.9 L993.5 1877.9 L994.6 1877.9 L995.7 1877.9 L996.8 1877.9 L998 1877.9 L999.1 1877.9 L1000.2 1877.9 L1001.3 1877.9 L1002.5 1877.9 L1003.6 1877.9 L1004.7 1877.9 L1005.8 1877.9 L1007 1877.9 L1008.1 1877.9 L1009.2 1877.9 L1010.3 1877.9 L1011.4 1877.9 L1012.6 1877.9 L1013.7 1877.9 L1014.8 1877.9 L1015.9 1877.9 L1017.1 1877.9 L1018.2 1877.9 L1019.3 1877.9 L1020.4 1877.9 L1021.6 1877.9 L1022.7 1877.9 L1023.8 1877.9 L1024.9 1877.9 L1026.1 1877.9 L1027.2 1877.9 L1028.3 1877.9 L1029.4 1877.9 L1030.6 1877.9 L1031.7 1877.9 L1032.8 1877.9 L1033.9 1877.9 L1035 1877.9 L1036.2 1877.9 L1037.3 1877.9 L1038.4 1877.9 L1039.5 1877.9 L1040.7 1877.9 L1041.8 1877.9 L1042.9 1877.9 L1044 1877.9 L1045.2 1877.9 L1046.3 1877.9 L1047.4 1877.9 L1048.5 1877.9 L1049.7 1877.9 L1050.8 1877.9 L1051.9 1877.9 L1053 1877.9 L1054.2 1877.9 L1055.3 1877.9 L1056.4 1877.9 L1057.5 1877.9 L1058.6 1877.9 L1059.8 1877.9 L1060.9 1877.9 L1062 1877.9 L1063.1 1877.9 L1064.3 1877.9 L1065.4 1877.9 L1066.5 1877.9 L1067.6 1877.9 L1068.8 1877.9 L1069.9 1877.9 L1071 1877.9 L1072.1 1877.9 L1073.3 1877.9 L1074.4 1877.9 L1075.5 1877.9 L1076.6 1877.9 L1077.8 1877.9 L1078.9 1877.9 L1080 1877.9 L1081.1 1877.9 L1082.3 1877.9 L1083.4 1877.9 L1084.5 1877.9 L1085.6 1877.9 L1086.7 1877.9 L1087.9 1877.9 L1089 1877.9 L1090.1 1877.9 L1091.2 1877.9 L1092.4 1877.9 L1093.5 1877.9 L1094.6 1877.9 L1095.7 1877.9 L1096.9 1877.9 L1098 1877.9 L1099.1 1877.9 L1100.2 1877.9 L1101.4 1877.9 L1102.5 1877.9 L1103.6 1877.9 L1104.7 1877.9 L1105.9 1877.9 L1107 1877.9 L1108.1 1877.9 L1109.2 1877.9 L1110.3 1877.9 L1111.5 1877.9 L1112.6 1877.9 L1113.7 1877.9 L1114.8 1877.9 L1116 1877.9 L1117.1 1877.9 L1118.2 1877.9 L1119.3 1877.9 L1120.5 1877.9 L1121.6 1877.9 L1122.7 1877.9 L1123.8 1877.9 L1125 1877.9 L1126.1 1877.9 L1127.2 1877.9 L1128.3 1877.9 L1129.5 1877.9 L1130.6 1877.9 L1131.7 1877.9 L1132.8 1877.9 L1133.9 1877.9 L1135.1 1877.9 L1136.2 1877.9 L1137.3 1877.9 L1138.4 1877.9 L1139.6 1877.9 L1140.7 1877.9 L1141.8 1877.9 L1142.9 1877.9 L1144.1 1877.9 L1145.2 1877.9 L1146.3 1877.9 L1147.4 1877.9 L1148.6 1877.9 L1149.7 1877.9 L1150.8 1877.9 L1151.9 1877.9 L1153.1 1877.9 L1154.2 1877.9 L1155.3 1877.9 L1156.4 1877.9 L1157.5 1877.9 L1158.7 1877.9 L1159.8 1877.9 L1160.9 1877.9 L1162 1877.9 L1163.2 1877.9 L1164.3 1877.9 L1165.4 1877.9 L1166.5 1877.9 L1167.7 1877.9 L1168.8 1877.9 L1169.9 1877.9 L1171 1877.9 L1172.2 1877.9 L1173.3 1877.9 L1174.4 1877.9 L1175.5 1877.9 L1176.7 1877.9 L1177.8 1877.9 L1178.9 1877.9 L1180 1877.9 L1181.1 1877.9 L1182.3 1877.9 L1183.4 1877.9 L1184.5 1877.9 L1185.6 1877.9 L1186.8 1877.9 L1187.9 1877.9 L1189 1877.9 L1190.1 1877.9 L1191.3 1877.9 L1192.4 1877.9 L1193.5 1877.9 L1194.6 1877.9 L1195.8 1877.9 L1196.9 1877.9 L1198 1877.9 L1199.1 1877.9 L1200.3 1877.9 L1201.4 1877.9 L1202.5 1877.9 L1203.6 1877.9 L1204.8 1877.9 L1205.9 1877.9 L1207 1877.9 L1208.1 1877.9 L1209.2 1877.9 L1210.4 1877.9 L1211.5 1877.9 L1212.6 1877.9 L1213.7 1877.9 L1214.9 1877.9 L1216 1877.9 L1217.1 1877.9 L1218.2 1877.9 L1219.4 1877.9 L1220.5 1877.9 L1221.6 1877.9 L1222.7 1877.9 L1223.9 1877.9 L1225 1877.9 L1226.1 1877.9 L1227.2 1877.9 L1228.4 1877.9 L1229.5 1877.9 L1230.6 1877.9 L1231.7 1877.9 L1232.8 1877.9 L1234 1877.9 L1235.1 1877.9 L1236.2 1877.9 L1237.3 1877.9 L1238.5 1877.9 L1239.6 1877.9 L1240.7 1877.9 L1241.8 1877.9 L1243 1877.9 L1244.1 1877.9 L1245.2 1877.9 L1246.3 1877.9 L1247.5 1877.9 L1248.6 1877.9 L1249.7 1877.9 L1250.8 1877.9 L1252 1877.9 L1253.1 1877.9 L1254.2 1877.9 L1255.3 1877.9 L1256.4 1877.9 L1257.6 1877.9 L1258.7 1877.9 L1259.8 1877.9 L1260.9 1877.9 L1262.1 1877.9 L1263.2 1877.9 L1264.3 1877.9 L1265.4 1877.9 L1266.6 1877.9 L1267.7 1877.9 L1268.8 1877.9 L1269.9 1877.9 L1271.1 1877.9 L1272.2 1877.9 L1273.3 1877.9 L1274.4 1877.9 L1275.6 1877.9 L1276.7 1877.9 L1277.8 1877.9 L1278.9 1877.9 L1280 1877.9 L1281.2 1877.9 L1282.3 1877.9 L1283.4 1877.9 L1284.5 1877.9 L1285.7 1877.9 L1286.8 1877.9 L1287.9 1877.9 L1289 1877.9 L1290.2 1877.9 L1291.3 1877.9 L1292.4 1877.9 L1293.5 1877.9 L1294.7 1877.9 L1295.8 1877.9 L1296.9 1877.9 L1298 1877.9 L1299.2 1877.9 L1300.3 1877.9 L1301.4 1877.9 L1302.5 1877.9 L1303.7 1877.9 L1304.8 1877.9 L1305.9 1877.9 L1307 1877.9 L1308.1 1877.9 L1309.3 1877.9 L1310.4 1877.9 L1311.5 1877.9 L1312.6 1877.9 L1313.8 1877.9 L1314.9 1877.9 L1316 1877.9 L1317.1 1877.9 L1318.3 1877.9 L1319.4 1877.9 L1320.5 1877.9 L1321.6 1877.9 L1322.8 1877.9 L1323.9 1877.9 L1325 1877.9 L1326.1 1877.9 L1327.3 1877.9 L1328.4 1877.9 L1329.5 1877.9 L1330.6 1877.9 L1331.7 1877.9 L1332.9 1877.9 L1334 1877.9 L1335.1 1877.9 L1336.2 1877.9 L1337.4 1877.9 L1338.5 1877.9 L1339.6 1877.9 L1340.7 1877.9 L1341.9 1877.9 L1343 1877.9 L1344.1 1877.9 L1345.2 1877.8 L1346.4 1877.8 L1347.5 1877.8 L1348.6 1877.8 L1349.7 1877.8 L1350.9 1877.8 L1352 1877.8 L1353.1 1877.8 L1354.2 1877.8 L1355.3 1877.8 L1356.5 1877.7 L1357.6 1877.7 L1358.7 1877.7 L1359.8 1877.7 L1361 1877.7 L1362.1 1877.6 L1363.2 1877.6 L1364.3 1877.6 L1365.5 1877.5 L1366.6 1877.5 L1367.7 1877.5 L1368.8 1877.4 L1370 1877.4 L1371.1 1877.3 L1372.2 1877.3 L1373.3 1877.2 L1374.5 1877.1 L1375.6 1877 L1376.7 1877 L1377.8 1876.9 L1378.9 1876.8 L1380.1 1876.7 L1381.2 1876.5 L1382.3 1876.4 L1383.4 1876.3 L1384.6 1876.1 L1385.7 1876 L1386.8 1875.8 L1387.9 1875.6 L1389.1 1875.4 L1390.2 1875.2 L1391.3 1875 L1392.4 1874.7 L1393.6 1874.4 L1394.7 1874.1 L1395.8 1873.8 L1396.9 1873.5 L1398.1 1873.1 L1399.2 1872.8 L1400.3 1872.4 L1401.4 1871.9 L1402.5 1871.5 L1403.7 1871 L1404.8 1870.4 L1405.9 1869.9 L1407 1869.3 L1408.2 1868.7 L1409.3 1868 L1410.4 1867.3 L1411.5 1866.5 L1412.7 1865.8 L1413.8 1864.9 L1414.9 1864 L1416 1863.1 L1417.2 1862.1 L1418.3 1861.1 L1419.4 1860 L1420.5 1858.9 L1421.7 1857.7 L1422.8 1856.4 L1423.9 1855.1 L1425 1853.7 L1426.2 1852.3 L1427.3 1850.8 L1428.4 1849.2 L1429.5 1847.6 L1430.6 1845.9 L1431.8 1844.1 L1432.9 1842.3 L1434 1840.4 L1435.1 1838.4 L1436.3 1836.4 L1437.4 1834.3 L1438.5 1832.1 L1439.6 1829.8 L1440.8 1827.5 L1441.9 1825.1 L1443 1822.7 L1444.1 1820.1 L1445.3 1817.5 L1446.4 1814.9 L1447.5 1812.1 L1448.6 1809.4 L1449.8 1806.5 L1450.9 1803.6 L1452 1800.6 L1453.1 1797.6 L1454.2 1794.5 L1455.4 1791.4 L1456.5 1788.2 L1457.6 1785 L1458.7 1781.8 L1459.9 1778.5 L1461 1775.2 L1462.1 1771.9 L1463.2 1768.5 L1464.4 1765.1 L1465.5 1761.8 L1466.6 1758.4 L1467.7 1755 L1468.9 1751.6 L1470 1748.3 L1471.1 1744.9 L1472.2 1741.6 L1473.4 1738.3 L1474.5 1735 L1475.6 1731.8 L1476.7 1728.7 L1477.8 1725.5 L1479 1722.5 L1480.1 1719.5 L1481.2 1716.6 L1482.3 1713.8 L1483.5 1711 L1484.6 1708.3 L1485.7 1705.8 L1486.8 1703.3 L1488 1701 L1489.1 1698.7 L1490.2 1696.6 L1491.3 1694.6 L1492.5 1692.7 L1493.6 1691 L1494.7 1689.4 L1495.8 1687.9 L1497 1686.6 L1498.1 1685.4 L1499.2 1684.4 L1500.3 1683.5 L1501.4 1682.7 L1502.6 1682.2 L1503.7 1681.8 L1504.8 1681.5 L1505.9 1681.4 L1507.1 1681.5 L1508.2 1681.7 L1509.3 1682 L1510.4 1682.6 L1511.6 1683.3 L1512.7 1684.1 L1513.8 1685.1 L1514.9 1686.2 L1516.1 1687.5 L1517.2 1689 L1518.3 1690.5 L1519.4 1692.2 L1520.6 1694.1 L1521.7 1696 L1522.8 1698.1 L1523.9 1700.3 L1525 1702.7 L1526.2 1705.1 L1527.3 1707.6 L1528.4 1710.3 L1529.5 1713 L1530.7 1715.8 L1531.8 1718.7 L1532.9 1721.7 L1534 1724.7 L1535.2 1727.8 L1536.3 1731 L1537.4 1734.2 L1538.5 1737.4 L1539.7 1740.7 L1540.8 1744 L1541.9 1747.4 L1543 1750.7 L1544.2 1754.1 L1545.3 1757.5 L1546.4 1760.9 L1547.5 1764.2 L1548.7 1767.6 L1549.8 1771 L1550.9 1774.3 L1552 1777.6 L1553.1 1780.9 L1554.3 1784.2 L1555.4 1787.4 L1556.5 1790.6 L1557.6 1793.7 L1558.8 1796.8 L1559.9 1799.8 L1561 1802.8 L1562.1 1805.7 L1563.3 1808.6 L1564.4 1811.4 L1565.5 1814.2 L1566.6 1816.8 L1567.8 1819.5 L1568.9 1822 L1570 1824.5 L1571.1 1826.9 L1572.3 1829.2 L1573.4 1831.5 L1574.5 1833.7 L1575.6 1835.8 L1576.7 1837.9 L1577.9 1839.9 L1579 1841.8 L1580.1 1843.7 L1581.2 1845.4 L1582.4 1847.2 L1583.5 1848.8 L1584.6 1850.4 L1585.7 1851.9 L1586.9 1853.4 L1588 1854.7 L1589.1 1856.1 L1590.2 1857.3 L1591.4 1858.6 L1592.5 1859.7 L1593.6 1860.8 L1594.7 1861.9 L1595.9 1862.8 L1597 1863.8 L1598.1 1864.7 L1599.2 1865.5 L1600.3 1866.3 L1601.5 1867.1 L1602.6 1867.8 L1603.7 1868.5 L1604.8 1869.1 L1606 1869.7 L1607.1 1870.3 L1608.2 1870.8 L1609.3 1871.3 L1610.5 1871.8 L1611.6 1872.2 L1612.7 1872.7 L1613.8 1873 L1615 1873.4 L1616.1 1873.8 L1617.2 1874.1 L1618.3 1874.4 L1619.5 1874.6 L1620.6 1874.9 L1621.7 1875.1 L1622.8 1875.4 L1623.9 1875.6 L1625.1 1875.7 L1626.2 1875.9 L1627.3 1876.1 L1628.4 1876.2 L1629.6 1876.4 L1630.7 1876.5 L1631.8 1876.6 L1632.9 1876.7 L1634.1 1876.8 L1635.2 1876.9 L1636.3 1877 L1637.4 1877.1 L1638.6 1877.2 L1639.7 1877.2 L1640.8 1877.3 L1641.9 1877.4 L1643.1 1877.4 L1644.2 1877.5 L1645.3 1877.5 L1646.4 1877.5 L1647.6 1877.6 L1648.7 1877.6 L1649.8 1877.6 L1650.9 1877.7 L1652 1877.7 L1653.2 1877.7 L1654.3 1877.7 L1655.4 1877.7 L1656.5 1877.8 L1657.7 1877.8 L1658.8 1877.8 L1659.9 1877.8 L1661 1877.8 L1662.2 1877.8 L1663.3 1877.8 L1664.4 1877.8 L1665.5 1877.8 L1666.7 1877.8 L1667.8 1877.9 L1668.9 1877.9 L1670 1877.9 L1671.2 1877.9 L1672.3 1877.9 L1673.4 1877.9 L1674.5 1877.9 L1675.6 1877.9 L1676.8 1877.9 L1677.9 1877.9 L1679 1877.9 L1680.1 1877.9 L1681.3 1877.9 L1682.4 1877.9 L1683.5 1877.9 L1684.6 1877.9 L1685.8 1877.9 L1686.9 1877.9 L1688 1877.9 L1689.1 1877.9 L1690.3 1877.9 L1691.4 1877.9 L1692.5 1877.9 L1693.6 1877.9 L1694.8 1877.9 L1695.9 1877.9 L1697 1877.9" fill="none" stroke="#007a00" stroke-width="3.4" stroke-linejoin="round" stroke-linecap="round" />
<path d="M910.3 1877.9 L911.4 1877.9 L912.5 1877.9 L913.7 1877.9 L914.8 1877.9 L915.9 1877.9 L917 1877.9 L918.2 1877.9 L919.3 1877.9 L920.4 1877.9 L921.5 1877.9 L922.7 1877.9 L923.8 1877.9 L924.9 1877.9 L926 1877.9 L927.2 1877.9 L928.3 1877.9 L929.4 1877.9 L930.5 1877.9 L931.7 1877.9 L932.8 1877.9 L933.9 1877.9 L935 1877.9 L936.1 1877.9 L937.3 1877.9 L938.4 1877.9 L939.5 1877.9 L940.6 1877.9 L941.8 1877.9 L942.9 1877.9 L944 1877.9 L945.1 1877.9 L946.3 1877.9 L947.4 1877.9 L948.5 1877.9 L949.6 1877.9 L950.8 1877.9 L951.9 1877.9 L953 1877.9 L954.1 1877.9 L955.3 1877.9 L956.4 1877.9 L957.5 1877.9 L958.6 1877.9 L959.7 1877.9 L960.9 1877.9 L962 1877.9 L963.1 1877.9 L964.2 1877.9 L965.4 1877.9 L966.5 1877.9 L967.6 1877.9 L968.7 1877.9 L969.9 1877.9 L971 1877.9 L972.1 1877.9 L973.2 1877.9 L974.4 1877.9 L975.5 1877.9 L976.6 1877.9 L977.7 1877.9 L978.9 1877.9 L980 1877.9 L981.1 1877.9 L982.2 1877.9 L983.4 1877.9 L984.5 1877.9 L985.6 1877.9 L986.7 1877.9 L987.8 1877.9 L989 1877.9 L990.1 1877.9 L991.2 1877.9 L992.3 1877.9 L993.5 1877.9 L994.6 1877.9 L995.7 1877.9 L996.8 1877.9 L998 1877.9 L999.1 1877.9 L1000.2 1877.9 L1001.3 1877.9 L1002.5 1877.9 L1003.6 1877.9 L1004.7 1877.9 L1005.8 1877.9 L1007 1877.9 L1008.1 1877.9 L1009.2 1877.9 L1010.3 1877.9 L1011.4 1877.9 L1012.6 1877.9 L1013.7 1877.9 L1014.8 1877.9 L1015.9 1877.9 L1017.1 1877.9 L1018.2 1877.9 L1019.3 1877.9 L1020.4 1877.9 L1021.6 1877.9 L1022.7 1877.9 L1023.8 1877.9 L1024.9 1877.9 L1026.1 1877.9 L1027.2 1877.9 L1028.3 1877.9 L1029.4 1877.9 L1030.6 1877.9 L1031.7 1877.9 L1032.8 1877.9 L1033.9 1877.9 L1035 1877.9 L1036.2 1877.9 L1037.3 1877.9 L1038.4 1877.9 L1039.5 1877.9 L1040.7 1877.9 L1041.8 1877.9 L1042.9 1877.9 L1044 1877.9 L1045.2 1877.9 L1046.3 1877.9 L1047.4 1877.9 L1048.5 1877.9 L1049.7 1877.9 L1050.8 1877.9 L1051.9 1877.9 L1053 1877.9 L1054.2 1877.9 L1055.3 1877.9 L1056.4 1877.9 L1057.5 1877.9 L1058.6 1877.9 L1059.8 1877.9 L1060.9 1877.9 L1062 1877.9 L1063.1 1877.9 L1064.3 1877.9 L1065.4 1877.9 L1066.5 1877.9 L1067.6 1877.9 L1068.8 1877.9 L1069.9 1877.9 L1071 1877.9 L1072.1 1877.9 L1073.3 1877.9 L1074.4 1877.9 L1075.5 1877.9 L1076.6 1877.9 L1077.8 1877.9 L1078.9 1877.9 L1080 1877.9 L1081.1 1877.9 L1082.3 1877.9 L1083.4 1877.9 L1084.5 1877.9 L1085.6 1877.9 L1086.7 1877.9 L1087.9 1877.9 L1089 1877.9 L1090.1 1877.9 L1091.2 1877.9 L1092.4 1877.9 L1093.5 1877.9 L1094.6 1877.9 L1095.7 1877.9 L1096.9 1877.9 L1098 1877.9 L1099.1 1877.9 L1100.2 1877.9 L1101.4 1877.9 L1102.5 1877.9 L1103.6 1877.9 L1104.7 1877.9 L1105.9 1877.9 L1107 1877.9 L1108.1 1877.9 L1109.2 1877.9 L1110.3 1877.9 L1111.5 1877.9 L1112.6 1877.9 L1113.7 1877.9 L1114.8 1877.9 L1116 1877.9 L1117.1 1877.9 L1118.2 1877.9 L1119.3 1877.9 L1120.5 1877.9 L1121.6 1877.9 L1122.7 1877.9 L1123.8 1877.9 L1125 1877.9 L1126.1 1877.9 L1127.2 1877.9 L1128.3 1877.9 L1129.5 1877.9 L1130.6 1877.9 L1131.7 1877.9 L1132.8 1877.9 L1133.9 1877.9 L1135.1 1877.9 L1136.2 1877.9 L1137.3 1877.9 L1138.4 1877.9 L1139.6 1877.9 L1140.7 1877.9 L1141.8 1877.9 L1142.9 1877.9 L1144.1 1877.9 L1145.2 1877.9 L1146.3 1877.9 L1147.4 1877.9 L1148.6 1877.9 L1149.7 1877.9 L1150.8 1877.9 L1151.9 1877.9 L1153.1 1877.9 L1154.2 1877.9 L1155.3 1877.9 L1156.4 1877.9 L1157.5 1877.9 L1158.7 1877.9 L1159.8 1877.9 L1160.9 1877.9 L1162 1877.9 L1163.2 1877.9 L1164.3 1877.9 L1165.4 1877.9 L1166.5 1877.9 L1167.7 1877.9 L1168.8 1877.9 L1169.9 1877.9 L1171 1877.9 L1172.2 1877.9 L1173.3 1877.9 L1174.4 1877.9 L1175.5 1877.9 L1176.7 1877.9 L1177.8 1877.9 L1178.9 1877.8 L1180 1877.8 L1181.1 1877.8 L1182.3 1877.8 L1183.4 1877.8 L1184.5 1877.8 L1185.6 1877.8 L1186.8 1877.8 L1187.9 1877.8 L1189 1877.8 L1190.1 1877.8 L1191.3 1877.8 L1192.4 1877.8 L1193.5 1877.8 L1194.6 1877.8 L1195.8 1877.8 L1196.9 1877.8 L1198 1877.8 L1199.1 1877.8 L1200.3 1877.8 L1201.4 1877.8 L1202.5 1877.8 L1203.6 1877.8 L1204.8 1877.8 L1205.9 1877.8 L1207 1877.8 L1208.1 1877.8 L1209.2 1877.8 L1210.4 1877.7 L1211.5 1877.7 L1212.6 1877.7 L1213.7 1877.7 L1214.9 1877.7 L1216 1877.7 L1217.1 1877.7 L1218.2 1877.7 L1219.4 1877.7 L1220.5 1877.7 L1221.6 1877.7 L1222.7 1877.7 L1223.9 1877.7 L1225 1877.7 L1226.1 1877.6 L1227.2 1877.6 L1228.4 1877.6 L1229.5 1877.6 L1230.6 1877.6 L1231.7 1877.6 L1232.8 1877.6 L1234 1877.6 L1235.1 1877.6 L1236.2 1877.5 L1237.3 1877.5 L1238.5 1877.5 L1239.6 1877.5 L1240.7 1877.5 L1241.8 1877.5 L1243 1877.5 L1244.1 1877.4 L1245.2 1877.4 L1246.3 1877.4 L1247.5 1877.4 L1248.6 1877.4 L1249.7 1877.4 L1250.8 1877.3 L1252 1877.3 L1253.1 1877.3 L1254.2 1877.3 L1255.3 1877.3 L1256.4 1877.2 L1257.6 1877.2 L1258.7 1877.2 L1259.8 1877.2 L1260.9 1877.1 L1262.1 1877.1 L1263.2 1877.1 L1264.3 1877.1 L1265.4 1877 L1266.6 1877 L1267.7 1877 L1268.8 1877 L1269.9 1876.9 L1271.1 1876.9 L1272.2 1876.9 L1273.3 1876.8 L1274.4 1876.8 L1275.6 1876.7 L1276.7 1876.7 L1277.8 1876.7 L1278.9 1876.6 L1280 1876.6 L1281.2 1876.5 L1282.3 1876.5 L1283.4 1876.5 L1284.5 1876.4 L1285.7 1876.4 L1286.8 1876.3 L1287.9 1876.3 L1289 1876.2 L1290.2 1876.2 L1291.3 1876.1 L1292.4 1876.1 L1293.5 1876 L1294.7 1875.9 L1295.8 1875.9 L1296.9 1875.8 L1298 1875.8 L1299.2 1875.7 L1300.3 1875.6 L1301.4 1875.5 L1302.5 1875.5 L1303.7 1875.4 L1304.8 1875.3 L1305.9 1875.3 L1307 1875.2 L1308.1 1875.1 L1309.3 1875 L1310.4 1874.9 L1311.5 1874.8 L1312.6 1874.7 L1313.8 1874.7 L1314.9 1874.6 L1316 1874.5 L1317.1 1874.4 L1318.3 1874.3 L1319.4 1874.2 L1320.5 1874 L1321.6 1873.9 L1322.8 1873.8 L1323.9 1873.7 L1325 1873.6 L1326.1 1873.5 L1327.3 1873.3 L1328.4 1873.2 L1329.5 1873.1 L1330.6 1872.9 L1331.7 1872.8 L1332.9 1872.7 L1334 1872.5 L1335.1 1872.4 L1336.2 1872.2 L1337.4 1872.1 L1338.5 1871.9 L1339.6 1871.7 L1340.7 1871.6 L1341.9 1871.4 L1343 1871.2 L1344.1 1871.1 L1345.2 1870.9 L1346.4 1870.7 L1347.5 1870.5 L1348.6 1870.3 L1349.7 1870.1 L1350.9 1869.9 L1352 1869.7 L1353.1 1869.5 L1354.2 1869.3 L1355.3 1869 L1356.5 1868.8 L1357.6 1868.6 L1358.7 1868.3 L1359.8 1868.1 L1361 1867.8 L1362.1 1867.6 L1363.2 1867.3 L1364.3 1867.1 L1365.5 1866.8 L1366.6 1866.5 L1367.7 1866.2 L1368.8 1866 L1370 1865.7 L1371.1 1865.4 L1372.2 1865.1 L1373.3 1864.8 L1374.5 1864.4 L1375.6 1864.1 L1376.7 1863.8 L1377.8 1863.4 L1378.9 1863.1 L1380.1 1862.7 L1381.2 1862.4 L1382.3 1862 L1383.4 1861.7 L1384.6 1861.3 L1385.7 1860.9 L1386.8 1860.5 L1387.9 1860.1 L1389.1 1859.7 L1390.2 1859.3 L1391.3 1858.9 L1392.4 1858.4 L1393.6 1858 L1394.7 1857.5 L1395.8 1857.1 L1396.9 1856.6 L1398.1 1856.2 L1399.2 1855.7 L1400.3 1855.2 L1401.4 1854.7 L1402.5 1854.2 L1403.7 1853.7 L1404.8 1853.2 L1405.9 1852.6 L1407 1852.1 L1408.2 1851.5 L1409.3 1851 L1410.4 1850.4 L1411.5 1849.8 L1412.7 1849.3 L1413.8 1848.7 L1414.9 1848.1 L1416 1847.4 L1417.2 1846.8 L1418.3 1846.2 L1419.4 1845.5 L1420.5 1844.9 L1421.7 1844.2 L1422.8 1843.5 L1423.9 1842.9 L1425 1842.2 L1426.2 1841.5 L1427.3 1840.7 L1428.4 1840 L1429.5 1839.3 L1430.6 1838.5 L1431.8 1837.8 L1432.9 1837 L1434 1836.2 L1435.1 1835.4 L1436.3 1834.6 L1437.4 1833.8 L1438.5 1833 L1439.6 1832.2 L1440.8 1831.3 L1441.9 1830.5 L1443 1829.6 L1444.1 1828.7 L1445.3 1827.8 L1446.4 1826.9 L1447.5 1826 L1448.6 1825.1 L1449.8 1824.2 L1450.9 1823.2 L1452 1822.3 L1453.1 1821.3 L1454.2 1820.3 L1455.4 1819.3 L1456.5 1818.3 L1457.6 1817.3 L1458.7 1816.3 L1459.9 1815.2 L1461 1814.2 L1462.1 1813.1 L1463.2 1812.1 L1464.4 1811 L1465.5 1809.9 L1466.6 1808.8 L1467.7 1807.7 L1468.9 1806.5 L1470 1805.4 L1471.1 1804.2 L1472.2 1803.1 L1473.4 1801.9 L1474.5 1800.7 L1475.6 1799.5 L1476.7 1798.3 L1477.8 1797.1 L1479 1795.9 L1480.1 1794.6 L1481.2 1793.4 L1482.3 1792.1 L1483.5 1790.8 L1484.6 1789.5 L1485.7 1788.3 L1486.8 1786.9 L1488 1785.6 L1489.1 1784.3 L1490.2 1783 L1491.3 1781.6 L1492.5 1780.3 L1493.6 1778.9 L1494.7 1777.5 L1495.8 1776.2 L1497 1774.8 L1498.1 1773.4 L1499.2 1771.9 L1500.3 1770.5 L1501.4 1769.1 L1502.6 1767.7 L1503.7 1766.2 L1504.8 1764.8 L1505.9 1763.3 L1507.1 1761.8 L1508.2 1760.3 L1509.3 1758.9 L1510.4 1757.4 L1511.6 1755.9 L1512.7 1754.3 L1513.8 1752.8 L1514.9 1751.3 L1516.1 1749.8 L1517.2 1748.2 L1518.3 1746.7 L1519.4 1745.2 L1520.6 1743.6 L1521.7 1742.1 L1522.8 1740.5 L1523.9 1738.9 L1525 1737.3 L1526.2 1735.8 L1527.3 1734.2 L1528.4 1732.6 L1529.5 1731 L1530.7 1729.4 L1531.8 1727.8 L1532.9 1726.2 L1534 1724.6 L1535.2 1723 L1536.3 1721.4 L1537.4 1719.8 L1538.5 1718.2 L1539.7 1716.6 L1540.8 1715 L1541.9 1713.4 L1543 1711.8 L1544.2 1710.2 L1545.3 1708.5 L1546.4 1706.9 L1547.5 1705.3 L1548.7 1703.7 L1549.8 1702.1 L1550.9 1700.5 L1552 1698.9 L1553.1 1697.3 L1554.3 1695.7 L1555.4 1694.1 L1556.5 1692.5 L1557.6 1690.9 L1558.8 1689.3 L1559.9 1687.8 L1561 1686.2 L1562.1 1684.6 L1563.3 1683.1 L1564.4 1681.5 L1565.5 1680 L1566.6 1678.4 L1567.8 1676.9 L1568.9 1675.3 L1570 1673.8 L1571.1 1672.3 L1572.3 1670.8 L1573.4 1669.3 L1574.5 1667.8 L1575.6 1666.3 L1576.7 1664.9 L1577.9 1663.4 L1579 1662 L1580.1 1660.5 L1581.2 1659.1 L1582.4 1657.7 L1583.5 1656.3 L1584.6 1654.9 L1585.7 1653.5 L1586.9 1652.1 L1588 1650.8 L1589.1 1649.4 L1590.2 1648.1 L1591.4 1646.8 L1592.5 1645.5 L1593.6 1644.2 L1594.7 1642.9 L1595.9 1641.7 L1597 1640.4 L1598.1 1639.2 L1599.2 1638 L1600.3 1636.8 L1601.5 1635.6 L1602.6 1634.5 L1603.7 1633.3 L1604.8 1632.2 L1606 1631.1 L1607.1 1630 L1608.2 1629 L1609.3 1627.9 L1610.5 1626.9 L1611.6 1625.9 L1612.7 1624.9 L1613.8 1623.9 L1615 1623 L1616.1 1622 L1617.2 1621.1 L1618.3 1620.2 L1619.5 1619.4 L1620.6 1618.5 L1621.7 1617.7 L1622.8 1616.9 L1623.9 1616.1 L1625.1 1615.4 L1626.2 1614.6 L1627.3 1613.9 L1628.4 1613.2 L1629.6 1612.6 L1630.7 1611.9 L1631.8 1611.3 L1632.9 1610.7 L1634.1 1610.2 L1635.2 1609.6 L1636.3 1609.1 L1637.4 1608.6 L1638.6 1608.1 L1639.7 1607.7 L1640.8 1607.2 L1641.9 1606.8 L1643.1 1606.5 L1644.2 1606.1 L1645.3 1605.8 L1646.4 1605.5 L1647.6 1605.2 L1648.7 1605 L1649.8 1604.8 L1650.9 1604.6 L1652 1604.4 L1653.2 1604.2 L1654.3 1604.1 L1655.4 1604 L1656.5 1604 L1657.7 1603.9 L1658.8 1603.9 L1659.9 1603.9 L1661 1603.9 L1662.2 1604 L1663.3 1604.1 L1664.4 1604.2 L1665.5 1604.3 L1666.7 1604.5 L1667.8 1604.7 L1668.9 1604.9 L1670 1605.1 L1671.2 1605.4 L1672.3 1605.7 L1673.4 1606 L1674.5 1606.4 L1675.6 1606.7 L1676.8 1607.1 L1677.9 1607.5 L1679 1608 L1680.1 1608.4 L1681.3 1608.9 L1682.4 1609.4 L1683.5 1610 L1684.6 1610.5 L1685.8 1611.1 L1686.9 1611.7 L1688 1612.4 L1689.1 1613 L1690.3 1613.7 L1691.4 1614.4 L1692.5 1615.1 L1693.6 1615.9 L1694.8 1616.6 L1695.9 1617.4 L1697 1618.3" fill="none" stroke="#ff00ff" stroke-width="3.4" stroke-linejoin="round" stroke-linecap="round" />
<path d="M910.3 1877.7 L911.4 1877.7 L912.5 1877.7 L913.7 1877.7 L914.8 1877.6 L915.9 1877.6 L917 1877.6 L918.2 1877.6 L919.3 1877.6 L920.4 1877.5 L921.5 1877.5 L922.7 1877.5 L923.8 1877.5 L924.9 1877.4 L926 1877.4 L927.2 1877.4 L928.3 1877.3 L929.4 1877.3 L930.5 1877.3 L931.7 1877.2 L932.8 1877.2 L933.9 1877.2 L935 1877.1 L936.1 1877.1 L937.3 1877 L938.4 1877 L939.5 1876.9 L940.6 1876.8 L941.8 1876.8 L942.9 1876.7 L944 1876.6 L945.1 1876.5 L946.3 1876.5 L947.4 1876.4 L948.5 1876.3 L949.6 1876.2 L950.8 1876.1 L951.9 1876 L953 1875.8 L954.1 1875.7 L955.3 1875.6 L956.4 1875.4 L957.5 1875.3 L958.6 1875.1 L959.7 1874.9 L960.9 1874.7 L962 1874.5 L963.1 1874.3 L964.2 1874.1 L965.4 1873.9 L966.5 1873.6 L967.6 1873.3 L968.7 1873 L969.9 1872.7 L971 1872.3 L972.1 1872 L973.2 1871.6 L974.4 1871.2 L975.5 1870.7 L976.6 1870.2 L977.7 1869.7 L978.9 1869.2 L980 1868.6 L981.1 1868 L982.2 1867.3 L983.4 1866.6 L984.5 1865.8 L985.6 1865 L986.7 1864.2 L987.8 1863.2 L989 1862.2 L990.1 1861.2 L991.2 1860.1 L992.3 1858.9 L993.5 1857.6 L994.6 1856.3 L995.7 1854.8 L996.8 1853.3 L998 1851.7 L999.1 1850 L1000.2 1848.2 L1001.3 1846.3 L1002.5 1844.2 L1003.6 1842.1 L1004.7 1839.8 L1005.8 1837.5 L1007 1834.9 L1008.1 1832.3 L1009.2 1829.5 L1010.3 1826.6 L1011.4 1823.5 L1012.6 1820.3 L1013.7 1816.9 L1014.8 1813.4 L1015.9 1809.7 L1017.1 1805.8 L1018.2 1801.8 L1019.3 1797.6 L1020.4 1793.2 L1021.6 1788.6 L1022.7 1783.9 L1023.8 1779 L1024.9 1773.9 L1026.1 1768.6 L1027.2 1763.2 L1028.3 1757.6 L1029.4 1751.8 L1030.6 1745.8 L1031.7 1739.7 L1032.8 1733.4 L1033.9 1727 L1035 1720.3 L1036.2 1713.6 L1037.3 1706.7 L1038.4 1699.6 L1039.5 1692.4 L1040.7 1685.1 L1041.8 1677.7 L1042.9 1670.2 L1044 1662.6 L1045.2 1654.9 L1046.3 1647.2 L1047.4 1639.4 L1048.5 1631.5 L1049.7 1623.6 L1050.8 1615.7 L1051.9 1607.8 L1053 1599.9 L1054.2 1592.1 L1055.3 1584.3 L1056.4 1576.5 L1057.5 1568.8 L1058.6 1561.2 L1059.8 1553.7 L1060.9 1546.3 L1062 1539.1 L1063.1 1532 L1064.3 1525 L1065.4 1518.3 L1066.5 1511.7 L1067.6 1505.3 L1068.8 1499.2 L1069.9 1493.2 L1071 1487.5 L1072.1 1482.1 L1073.3 1476.9 L1074.4 1472 L1075.5 1467.4 L1076.6 1463 L1077.8 1459 L1078.9 1455.2 L1080 1451.7 L1081.1 1448.5 L1082.3 1445.7 L1083.4 1443.1 L1084.5 1440.8 L1085.6 1438.8 L1086.7 1437.2 L1087.9 1435.8 L1089 1434.7 L1090.1 1433.9 L1091.2 1433.4 L1092.4 1433.2 L1093.5 1433.2 L1094.6 1433.5 L1095.7 1434 L1096.9 1434.8 L1098 1435.8 L1099.1 1437.1 L1100.2 1438.5 L1101.4 1440.2 L1102.5 1442 L1103.6 1444.1 L1104.7 1446.3 L1105.9 1448.6 L1107 1451.1 L1108.1 1453.7 L1109.2 1456.4 L1110.3 1459.2 L1111.5 1462.2 L1112.6 1465.2 L1113.7 1468.2 L1114.8 1471.3 L1116 1474.5 L1117.1 1477.7 L1118.2 1480.9 L1119.3 1484.1 L1120.5 1487.3 L1121.6 1490.4 L1122.7 1493.6 L1123.8 1496.7 L1125 1499.8 L1126.1 1502.9 L1127.2 1505.9 L1128.3 1508.8 L1129.5 1511.6 L1130.6 1514.4 L1131.7 1517.1 L1132.8 1519.7 L1133.9 1522.3 L1135.1 1524.7 L1136.2 1527.1 L1137.3 1529.3 L1138.4 1531.5 L1139.6 1533.5 L1140.7 1535.5 L1141.8 1537.4 L1142.9 1539.2 L1144.1 1540.8 L1145.2 1542.4 L1146.3 1543.9 L1147.4 1545.3 L1148.6 1546.7 L1149.7 1547.9 L1150.8 1549.1 L1151.9 1550.2 L1153.1 1551.2 L1154.2 1552.1 L1155.3 1553 L1156.4 1553.9 L1157.5 1554.6 L1158.7 1555.4 L1159.8 1556 L1160.9 1556.7 L1162 1557.3 L1163.2 1557.8 L1164.3 1558.4 L1165.4 1558.9 L1166.5 1559.4 L1167.7 1559.9 L1168.8 1560.3 L1169.9 1560.8 L1171 1561.3 L1172.2 1561.7 L1173.3 1562.2 L1174.4 1562.6 L1175.5 1563.1 L1176.7 1563.6 L1177.8 1564.1 L1178.9 1564.6 L1180 1565.2 L1181.1 1565.7 L1182.3 1566.3 L1183.4 1566.9 L1184.5 1567.6 L1185.6 1568.2 L1186.8 1568.9 L1187.9 1569.6 L1189 1570.4 L1190.1 1571.2 L1191.3 1572 L1192.4 1572.9 L1193.5 1573.8 L1194.6 1574.7 L1195.8 1575.7 L1196.9 1576.7 L1198 1577.7 L1199.1 1578.8 L1200.3 1579.9 L1201.4 1581 L1202.5 1582.2 L1203.6 1583.4 L1204.8 1584.6 L1205.9 1585.9 L1207 1587.2 L1208.1 1588.5 L1209.2 1589.9 L1210.4 1591.2 L1211.5 1592.6 L1212.6 1594.1 L1213.7 1595.5 L1214.9 1597 L1216 1598.5 L1217.1 1600 L1218.2 1601.6 L1219.4 1603.1 L1220.5 1604.7 L1221.6 1606.3 L1222.7 1607.9 L1223.9 1609.5 L1225 1611.1 L1226.1 1612.8 L1227.2 1614.4 L1228.4 1616 L1229.5 1617.7 L1230.6 1619.4 L1231.7 1621 L1232.8 1622.7 L1234 1624.4 L1235.1 1626 L1236.2 1627.7 L1237.3 1629.4 L1238.5 1631 L1239.6 1632.7 L1240.7 1634.4 L1241.8 1636 L1243 1637.7 L1244.1 1639.3 L1245.2 1640.9 L1246.3 1642.5 L1247.5 1644.1 L1248.6 1645.7 L1249.7 1647.3 L1250.8 1648.9 L1252 1650.5 L1253.1 1652 L1254.2 1653.6 L1255.3 1655.1 L1256.4 1656.6 L1257.6 1658.1 L1258.7 1659.5 L1259.8 1661 L1260.9 1662.5 L1262.1 1663.9 L1263.2 1665.3 L1264.3 1666.7 L1265.4 1668.1 L1266.6 1669.4 L1267.7 1670.8 L1268.8 1672.1 L1269.9 1673.4 L1271.1 1674.7 L1272.2 1676 L1273.3 1677.3 L1274.4 1678.5 L1275.6 1679.7 L1276.7 1681 L1277.8 1682.2 L1278.9 1683.4 L1280 1684.5 L1281.2 1685.7 L1282.3 1686.8 L1283.4 1688 L1284.5 1689.1 L1285.7 1690.2 L1286.8 1691.3 L1287.9 1692.4 L1289 1693.4 L1290.2 1694.5 L1291.3 1695.5 L1292.4 1696.6 L1293.5 1697.6 L1294.7 1698.6 L1295.8 1699.6 L1296.9 1700.6 L1298 1701.6 L1299.2 1702.6 L1300.3 1703.6 L1301.4 1704.6 L1302.5 1705.5 L1303.7 1706.5 L1304.8 1707.5 L1305.9 1708.4 L1307 1709.4 L1308.1 1710.3 L1309.3 1711.3 L1310.4 1712.2 L1311.5 1713.1 L1312.6 1714.1 L1313.8 1715 L1314.9 1716 L1316 1716.9 L1317.1 1717.9 L1318.3 1718.8 L1319.4 1719.7 L1320.5 1720.7 L1321.6 1721.6 L1322.8 1722.6 L1323.9 1723.5 L1325 1724.5 L1326.1 1725.4 L1327.3 1726.4 L1328.4 1727.3 L1329.5 1728.3 L1330.6 1729.2 L1331.7 1730.2 L1332.9 1731.1 L1334 1732.1 L1335.1 1733.1 L1336.2 1734 L1337.4 1735 L1338.5 1736 L1339.6 1736.9 L1340.7 1737.9 L1341.9 1738.9 L1343 1739.9 L1344.1 1740.8 L1345.2 1741.8 L1346.4 1742.8 L1347.5 1743.7 L1348.6 1744.7 L1349.7 1745.7 L1350.9 1746.6 L1352 1747.6 L1353.1 1748.6 L1354.2 1749.5 L1355.3 1750.5 L1356.5 1751.4 L1357.6 1752.4 L1358.7 1753.3 L1359.8 1754.2 L1361 1755.2 L1362.1 1756.1 L1363.2 1757 L1364.3 1757.9 L1365.5 1758.8 L1366.6 1759.7 L1367.7 1760.6 L1368.8 1761.5 L1370 1762.3 L1371.1 1763.2 L1372.2 1764 L1373.3 1764.9 L1374.5 1765.7 L1375.6 1766.5 L1376.7 1767.3 L1377.8 1768.1 L1378.9 1768.9 L1380.1 1769.6 L1381.2 1770.4 L1382.3 1771.1 L1383.4 1771.8 L1384.6 1772.5 L1385.7 1773.2 L1386.8 1773.9 L1387.9 1774.5 L1389.1 1775.2 L1390.2 1775.8 L1391.3 1776.4 L1392.4 1776.9 L1393.6 1777.5 L1394.7 1778 L1395.8 1778.5 L1396.9 1778.9 L1398.1 1779.3 L1399.2 1779.7 L1400.3 1780.1 L1401.4 1780.4 L1402.5 1780.7 L1403.7 1781 L1404.8 1781.2 L1405.9 1781.3 L1407 1781.4 L1408.2 1781.5 L1409.3 1781.5 L1410.4 1781.5 L1411.5 1781.4 L1412.7 1781.2 L1413.8 1781 L1414.9 1780.7 L1416 1780.4 L1417.2 1780 L1418.3 1779.5 L1419.4 1778.9 L1420.5 1778.3 L1421.7 1777.6 L1422.8 1776.8 L1423.9 1775.9 L1425 1774.9 L1426.2 1773.9 L1427.3 1772.7 L1428.4 1771.5 L1429.5 1770.2 L1430.6 1768.7 L1431.8 1767.2 L1432.9 1765.6 L1434 1763.9 L1435.1 1762.1 L1436.3 1760.1 L1437.4 1758.1 L1438.5 1756 L1439.6 1753.8 L1440.8 1751.5 L1441.9 1749.1 L1443 1746.5 L1444.1 1743.9 L1445.3 1741.2 L1446.4 1738.4 L1447.5 1735.5 L1448.6 1732.5 L1449.8 1729.4 L1450.9 1726.2 L1452 1722.9 L1453.1 1719.5 L1454.2 1716.1 L1455.4 1712.6 L1456.5 1709 L1457.6 1705.3 L1458.7 1701.6 L1459.9 1697.8 L1461 1693.9 L1462.1 1690 L1463.2 1686 L1464.4 1682.1 L1465.5 1678 L1466.6 1673.9 L1467.7 1669.9 L1468.9 1665.7 L1470 1661.6 L1471.1 1657.5 L1472.2 1653.3 L1473.4 1649.2 L1474.5 1645.1 L1475.6 1641 L1476.7 1636.9 L1477.8 1632.9 L1479 1628.8 L1480.1 1624.9 L1481.2 1621 L1482.3 1617.1 L1483.5 1613.3 L1484.6 1609.6 L1485.7 1606 L1486.8 1602.4 L1488 1598.9 L1489.1 1595.6 L1490.2 1592.3 L1491.3 1589.1 L1492.5 1586.1 L1493.6 1583.1 L1494.7 1580.3 L1495.8 1577.6 L1497 1575.1 L1498.1 1572.7 L1499.2 1570.4 L1500.3 1568.2 L1501.4 1566.2 L1502.6 1564.3 L1503.7 1562.6 L1504.8 1561 L1505.9 1559.6 L1507.1 1558.3 L1508.2 1557.2 L1509.3 1556.2 L1510.4 1555.4 L1511.6 1554.7 L1512.7 1554.2 L1513.8 1553.8 L1514.9 1553.5 L1516.1 1553.4 L1517.2 1553.5 L1518.3 1553.6 L1519.4 1553.9 L1520.6 1554.3 L1521.7 1554.9 L1522.8 1555.5 L1523.9 1556.3 L1525 1557.2 L1526.2 1558.2 L1527.3 1559.3 L1528.4 1560.5 L1529.5 1561.7 L1530.7 1563.1 L1531.8 1564.5 L1532.9 1566 L1534 1567.6 L1535.2 1569.2 L1536.3 1570.9 L1537.4 1572.6 L1538.5 1574.4 L1539.7 1576.2 L1540.8 1578 L1541.9 1579.8 L1543 1581.7 L1544.2 1583.6 L1545.3 1585.5 L1546.4 1587.3 L1547.5 1589.2 L1548.7 1591.1 L1549.8 1592.9 L1550.9 1594.8 L1552 1596.6 L1553.1 1598.4 L1554.3 1600.1 L1555.4 1601.8 L1556.5 1603.5 L1557.6 1605.1 L1558.8 1606.7 L1559.9 1608.3 L1561 1609.8 L1562.1 1611.2 L1563.3 1612.6 L1564.4 1613.9 L1565.5 1615.1 L1566.6 1616.3 L1567.8 1617.5 L1568.9 1618.6 L1570 1619.6 L1571.1 1620.5 L1572.3 1621.4 L1573.4 1622.2 L1574.5 1623 L1575.6 1623.7 L1576.7 1624.3 L1577.9 1624.9 L1579 1625.4 L1580.1 1625.8 L1581.2 1626.2 L1582.4 1626.5 L1583.5 1626.8 L1584.6 1627 L1585.7 1627.2 L1586.9 1627.3 L1588 1627.3 L1589.1 1627.3 L1590.2 1627.3 L1591.4 1627.2 L1592.5 1627.1 L1593.6 1626.9 L1594.7 1626.7 L1595.9 1626.5 L1597 1626.2 L1598.1 1625.9 L1599.2 1625.5 L1600.3 1625.1 L1601.5 1624.7 L1602.6 1624.3 L1603.7 1623.8 L1604.8 1623.4 L1606 1622.9 L1607.1 1622.4 L1608.2 1621.8 L1609.3 1621.3 L1610.5 1620.7 L1611.6 1620.2 L1612.7 1619.6 L1613.8 1619 L1615 1618.4 L1616.1 1617.9 L1617.2 1617.3 L1618.3 1616.7 L1619.5 1616.1 L1620.6 1615.5 L1621.7 1614.9 L1622.8 1614.3 L1623.9 1613.8 L1625.1 1613.2 L1626.2 1612.7 L1627.3 1612.1 L1628.4 1611.6 L1629.6 1611 L1630.7 1610.5 L1631.8 1610 L1632.9 1609.6 L1634.1 1609.1 L1635.2 1608.6 L1636.3 1608.2 L1637.4 1607.8 L1638.6 1607.4 L1639.7 1607 L1640.8 1606.6 L1641.9 1606.3 L1643.1 1606 L1644.2 1605.7 L1645.3 1605.4 L1646.4 1605.1 L1647.6 1604.9 L1648.7 1604.7 L1649.8 1604.5 L1650.9 1604.3 L1652 1604.2 L1653.2 1604 L1654.3 1603.9 L1655.4 1603.9 L1656.5 1603.8 L1657.7 1603.8 L1658.8 1603.8 L1659.9 1603.8 L1661 1603.8 L1662.2 1603.9 L1663.3 1604 L1664.4 1604.1 L1665.5 1604.3 L1666.7 1604.4 L1667.8 1604.6 L1668.9 1604.9 L1670 1605.1 L1671.2 1605.4 L1672.3 1605.7 L1673.4 1606 L1674.5 1606.3 L1675.6 1606.7 L1676.8 1607.1 L1677.9 1607.5 L1679 1608 L1680.1 1608.4 L1681.3 1608.9 L1682.4 1609.4 L1683.5 1610 L1684.6 1610.5 L1685.8 1611.1 L1686.9 1611.7 L1688 1612.4 L1689.1 1613 L1690.3 1613.7 L1691.4 1614.4 L1692.5 1615.1 L1693.6 1615.9 L1694.8 1616.6 L1695.9 1617.4 L1697 1618.3" fill="none" stroke="#6e006e" stroke-width="3.4" stroke-linejoin="round" stroke-linecap="round" />
<rect x="910.3" y="1378.2" width="786.7" height="584" fill="none" stroke="#000" stroke-width="4.1"/>
<line x1="910.3" y1="1962.2" x2="910.3" y2="1973.7" stroke="#000" stroke-width="4.2" stroke-linecap="round"/>
<text x="892.0" y="1999.2" font-size="21.80" font-weight="bold" >775</text>
<line x1="1041.4" y1="1962.2" x2="1041.4" y2="1973.7" stroke="#000" stroke-width="4.2" stroke-linecap="round"/>
<text x="1023.2" y="1999.2" font-size="21.80" font-weight="bold" >780</text>
<line x1="1172.5" y1="1962.2" x2="1172.5" y2="1973.7" stroke="#000" stroke-width="4.2" stroke-linecap="round"/>
<text x="1154.2" y="1999.2" font-size="21.80" font-weight="bold" >785</text>
<line x1="1303.7" y1="1962.2" x2="1303.7" y2="1973.7" stroke="#000" stroke-width="4.2" stroke-linecap="round"/>
<text x="1285.4" y="1999.2" font-size="21.80" font-weight="bold" >790</text>
<line x1="1434.8" y1="1962.2" x2="1434.8" y2="1973.7" stroke="#000" stroke-width="4.2" stroke-linecap="round"/>
<text x="1416.4" y="1999.2" font-size="21.80" font-weight="bold" >795</text>
<line x1="1565.9" y1="1962.2" x2="1565.9" y2="1973.7" stroke="#000" stroke-width="4.2" stroke-linecap="round"/>
<text x="1547.8" y="1999.2" font-size="21.80" font-weight="bold" >800</text>
<line x1="1697" y1="1962.2" x2="1697" y2="1973.7" stroke="#000" stroke-width="4.2" stroke-linecap="round"/>
<text x="1678.8" y="1999.2" font-size="21.80" font-weight="bold" >805</text>
<text x="1188.1" y="2031.5" font-size="27.24" font-weight="bold" >Binding energy (eV)</text>
<text transform="translate(880.7,1770.0) rotate(-90)" font-size="27.73" font-weight="bold">Intensity (a.u)</text>
<text x="928.7" y="1424.4" font-size="29.41" font-weight="normal" >Co 2p</text>
<text x="1641.3" y="1430.5" font-size="41.80" font-weight="bold" >e</text>
<text x="940.4" y="1575.1" font-size="27.26" font-weight="bold" >781.5</text>
<line x1="1015" y1="1565.4" x2="1061.5" y2="1565.4" stroke="#ff8c1a" stroke-width="4.2" stroke-linecap="round"/>
<path d="M1083 1566.7 L1059.5 1572.2 L1059.5 1558.7 L1083 1564.1 Z" fill="#ff8c1a"/>
<text x="1249.4" y="1601.8" font-size="26.47" font-weight="bold" >784.9</text>
<line x1="1245" y1="1588" x2="1196.5" y2="1588" stroke="#ff8c1a" stroke-width="4.2" stroke-linecap="round"/>
<path d="M1175 1586.7 L1198.5 1581.2 L1198.5 1594.8 L1175 1589.3 Z" fill="#ff8c1a"/>
<text x="1336.4" y="1726.6" font-size="27.08" font-weight="bold" >790.54</text>
<line x1="1371" y1="1725.5" x2="1334.7" y2="1741.4" stroke="#ff8c1a" stroke-width="4.2" stroke-linecap="round"/>
<path d="M1314.5 1748.8 L1333.8 1734.4 L1339.2 1746.8 L1315.5 1751.2 Z" fill="#ff8c1a"/>
<text x="1482.9" y="1674.6" font-size="26.97" font-weight="bold" >797.6</text>
<text x="1616.1" y="1595.2" font-size="26.61" font-weight="bold" >803.4</text></svg>
</body></html>
